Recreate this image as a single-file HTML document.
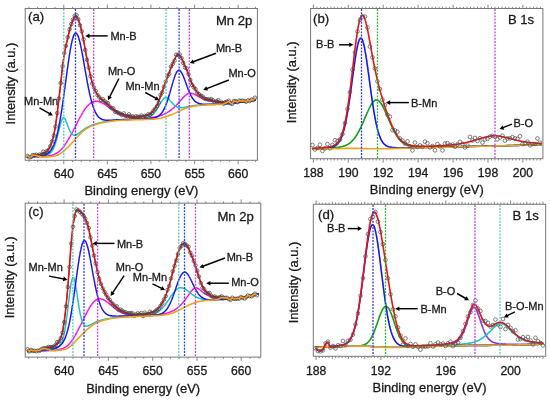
<!DOCTYPE html><html><head><meta charset="utf-8"><style>html,body{margin:0;padding:0;background:#fff;width:550px;height:400px;overflow:hidden}svg{display:block;filter:blur(0.3px)}</style></head><body>
<svg width="550" height="400" viewBox="0 0 550 400" font-family='"Liberation Sans", sans-serif' fill="#1a1a1a" stroke-linecap="butt">
<rect x="25.2" y="8.5" width="232.2" height="151.8" fill="none" stroke="#787878" stroke-width="1"/>
<path d="M28.9 160.3v1.7M28.9 8.5v-1.7M37.6 160.3v1.7M37.6 8.5v-1.7M46.3 160.3v1.7M46.3 8.5v-1.7M55 160.3v1.7M55 8.5v-1.7M63.8 160.3v3.8M63.8 8.5v-3.8M72.5 160.3v1.7M72.5 8.5v-1.7M81.2 160.3v1.7M81.2 8.5v-1.7M89.9 160.3v1.7M89.9 8.5v-1.7M98.6 160.3v1.7M98.6 8.5v-1.7M107.3 160.3v3.8M107.3 8.5v-3.8M116.1 160.3v1.7M116.1 8.5v-1.7M124.8 160.3v1.7M124.8 8.5v-1.7M133.5 160.3v1.7M133.5 8.5v-1.7M142.2 160.3v1.7M142.2 8.5v-1.7M150.9 160.3v3.8M150.9 8.5v-3.8M159.7 160.3v1.7M159.7 8.5v-1.7M168.4 160.3v1.7M168.4 8.5v-1.7M177.1 160.3v1.7M177.1 8.5v-1.7M185.8 160.3v1.7M185.8 8.5v-1.7M194.6 160.3v3.8M194.6 8.5v-3.8M203.3 160.3v1.7M203.3 8.5v-1.7M212 160.3v1.7M212 8.5v-1.7M220.7 160.3v1.7M220.7 8.5v-1.7M229.4 160.3v1.7M229.4 8.5v-1.7M238.2 160.3v3.8M238.2 8.5v-3.8M246.9 160.3v1.7M246.9 8.5v-1.7M255.6 160.3v1.7M255.6 8.5v-1.7" stroke="#787878" stroke-width="0.9" fill="none"/>
<text x="63.8" y="177.6" font-size="12.2" text-anchor="middle" stroke="#1a1a1a" stroke-width="0.3" >640</text>
<text x="107.3" y="177.6" font-size="12.2" text-anchor="middle" stroke="#1a1a1a" stroke-width="0.3" >645</text>
<text x="150.9" y="177.6" font-size="12.2" text-anchor="middle" stroke="#1a1a1a" stroke-width="0.3" >650</text>
<text x="194.6" y="177.6" font-size="12.2" text-anchor="middle" stroke="#1a1a1a" stroke-width="0.3" >655</text>
<text x="238.2" y="177.6" font-size="12.2" text-anchor="middle" stroke="#1a1a1a" stroke-width="0.3" >660</text>
<text x="141.4" y="194.8" font-size="12.9" text-anchor="middle" stroke="#1a1a1a" stroke-width="0.3" >Binding energy (eV)</text>
<text x="0" y="0" font-size="12.9" text-anchor="middle" stroke="#1a1a1a" stroke-width="0.3" transform="translate(15.0 83.6) rotate(-90)">Intensity (a.u.)</text>
<text x="28" y="21.2" font-size="13.2" text-anchor="start" stroke="#1a1a1a" stroke-width="0.3" >(a)</text>
<text x="252.3" y="25" font-size="13.1" text-anchor="end" stroke="#1a1a1a" stroke-width="0.3" >Mn 2p</text>
<path d="M27 157.1 L27.2 157 L27.5 157 L27.8 157 L28 157 L28.2 157 L28.5 157 L28.8 157 L29 157 L29.2 157 L29.5 157 L29.8 157 L30 157 L30.2 157 L30.5 157 L30.8 157 L31 157 L31.2 157 L31.5 157 L31.8 156.9 L32 156.9 L32.2 156.9 L32.5 156.9 L32.8 156.9 L33 156.9 L33.2 156.9 L33.5 156.9 L33.8 156.9 L34 156.9 L34.2 156.9 L34.5 156.9 L34.8 156.9 L35 156.8 L35.2 156.8 L35.5 156.8 L35.8 156.8 L36 156.8 L36.2 156.8 L36.5 156.8 L36.8 156.8 L37 156.8 L37.2 156.8 L37.5 156.8 L37.8 156.7 L38 156.7 L38.2 156.7 L38.5 156.7 L38.8 156.7 L39 156.7 L39.2 156.7 L39.5 156.7 L39.8 156.7 L40 156.6 L40.2 156.6 L40.5 156.6 L40.8 156.6 L41 156.6 L41.2 156.6 L41.5 156.6 L41.8 156.5 L42 156.5 L42.2 156.5 L42.5 156.5 L42.8 156.5 L43 156.5 L43.2 156.4 L43.5 156.4 L43.8 156.4 L44 156.4 L44.2 156.4 L44.5 156.3 L44.8 156.3 L45 156.3 L45.2 156.3 L45.5 156.2 L45.8 156.2 L46 156.2 L46.2 156.2 L46.5 156.1 L46.8 156.1 L47 156.1 L47.2 156 L47.5 156 L47.8 156 L48 155.9 L48.2 155.9 L48.5 155.9 L48.8 155.8 L49 155.8 L49.2 155.7 L49.5 155.7 L49.8 155.6 L50 155.6 L50.2 155.5 L50.5 155.5 L50.8 155.4 L51 155.4 L51.2 155.3 L51.5 155.3 L51.8 155.2 L52 155.1 L52.2 155.1 L52.5 155 L52.8 154.9 L53 154.8 L53.2 154.7 L53.5 154.7 L53.8 154.6 L54 154.5 L54.2 154.4 L54.5 154.3 L54.8 154.2 L55 154.1 L55.2 153.9 L55.5 153.8 L55.8 153.7 L56 153.6 L56.2 153.4 L56.5 153.3 L56.8 153.1 L57 153 L57.2 152.8 L57.5 152.7 L57.8 152.5 L58 152.3 L58.2 152.1 L58.5 151.9 L58.8 151.7 L59 151.5 L59.2 151.3 L59.5 151.1 L59.8 150.9 L60 150.7 L60.2 150.4 L60.5 150.2 L60.8 149.9 L61 149.7 L61.2 149.4 L61.5 149.1 L61.8 148.9 L62 148.6 L62.2 148.3 L62.5 148 L62.8 147.7 L63 147.4 L63.2 147 L63.5 146.7 L63.8 146.4 L64 146.1 L64.2 145.7 L64.5 145.4 L64.8 145 L65 144.7 L65.2 144.3 L65.5 143.9 L65.8 143.6 L66 143.2 L66.2 142.8 L66.5 142.4 L66.8 142 L67 141.6 L67.2 141.2 L67.5 140.8 L67.8 140.4 L68 140 L68.2 139.6 L68.5 139.2 L68.8 138.8 L69 138.4 L69.2 137.9 L69.5 137.5 L69.8 137 L70 136.6 L70.2 136.2 L70.5 135.7 L70.8 135.3 L71 134.8 L71.2 134.3 L71.5 133.9 L71.8 133.4 L72 133 L72.2 132.5 L72.5 132 L72.8 131.5 L73 131.1 L73.2 130.6 L73.5 130.1 L73.8 129.6 L74 129.1 L74.2 128.6 L74.5 128.1 L74.8 127.6 L75 127.2 L75.2 126.7 L75.5 126.2 L75.8 125.7 L76 125.2 L76.2 124.7 L76.5 124.2 L76.8 123.7 L77 123.2 L77.2 122.7 L77.5 122.2 L77.8 121.7 L78 121.2 L78.2 120.8 L78.5 120.3 L78.8 119.8 L79 119.3 L79.2 118.8 L79.5 118.4 L79.8 117.9 L80 117.4 L80.2 117 L80.5 116.5 L80.8 116.1 L81 115.6 L81.2 115.2 L81.5 114.7 L81.8 114.3 L82 113.9 L82.2 113.4 L82.5 113 L82.8 112.6 L83 112.2 L83.2 111.8 L83.5 111.4 L83.8 111 L84 110.6 L84.2 110.2 L84.5 109.9 L84.8 109.5 L85 109.1 L85.2 108.8 L85.5 108.4 L85.8 108.1 L86 107.8 L86.2 107.5 L86.5 107.1 L86.8 106.8 L87 106.5 L87.2 106.2 L87.5 106 L87.8 105.7 L88 105.4 L88.2 105.2 L88.5 104.9 L88.8 104.7 L89 104.4 L89.2 104.2 L89.5 104 L89.8 103.8 L90 103.6 L90.2 103.4 L90.5 103.2 L90.8 103 L91 102.9 L91.2 102.7 L91.5 102.6 L91.8 102.4 L92 102.3 L92.2 102.1 L92.5 102 L92.8 101.9 L93 101.8 L93.2 101.7 L93.5 101.6 L93.8 101.6 L94 101.5 L94.2 101.4 L94.5 101.4 L94.8 101.3 L95 101.3 L95.2 101.3 L95.5 101.2 L95.8 101.2 L96 101.2 L96.2 101.2 L96.5 101.2 L96.8 101.2 L97 101.3 L97.2 101.3 L97.5 101.3 L97.8 101.4 L98 101.4 L98.2 101.5 L98.5 101.5 L98.8 101.6 L99 101.6 L99.2 101.7 L99.5 101.8 L99.8 101.9 L100 102 L100.2 102.1 L100.5 102.2 L100.8 102.3 L101 102.4 L101.2 102.5 L101.5 102.6 L101.8 102.7 L102 102.9 L102.2 103 L102.5 103.1 L102.8 103.3 L103 103.4 L103.2 103.5 L103.5 103.7 L103.8 103.8 L104 104 L104.2 104.1 L104.5 104.3 L104.8 104.5 L105 104.6 L105.2 104.8 L105.5 105 L105.8 105.1 L106 105.3 L106.2 105.5 L106.5 105.6 L106.8 105.8 L107 106 L107.2 106.2 L107.5 106.3 L107.8 106.5 L108 106.7 L108.2 106.9 L108.5 107 L108.8 107.2 L109 107.4 L109.2 107.6 L109.5 107.8 L109.8 107.9 L110 108.1 L110.2 108.3 L110.5 108.5 L110.8 108.7 L111 108.8 L111.2 109 L111.5 109.2 L111.8 109.4 L112 109.5 L112.2 109.7 L112.5 109.9 L112.8 110.1 L113 110.2 L113.2 110.4 L113.5 110.6 L113.8 110.7 L114 110.9 L114.2 111.1 L114.5 111.2 L114.8 111.4 L115 111.6 L115.2 111.7 L115.5 111.9 L115.8 112 L116 112.2 L116.2 112.3 L116.5 112.5 L116.8 112.6 L117 112.8 L117.2 112.9 L117.5 113.1 L117.8 113.2 L118 113.3 L118.2 113.5 L118.5 113.6 L118.8 113.7 L119 113.9 L119.2 114 L119.5 114.1 L119.8 114.2 L120 114.3 L120.2 114.5 L120.5 114.6 L120.8 114.7 L121 114.8 L121.2 114.9 L121.5 115 L121.8 115.1 L122 115.2 L122.2 115.3 L122.5 115.4 L122.8 115.5 L123 115.6 L123.2 115.7 L123.5 115.8 L123.8 115.9 L124 116 L124.2 116.1 L124.5 116.1 L124.8 116.2 L125 116.3 L125.2 116.4 L125.5 116.4 L125.8 116.5 L126 116.6 L126.2 116.6 L126.5 116.7 L126.8 116.8 L127 116.8 L127.2 116.9 L127.5 117 L127.8 117 L128 117.1 L128.2 117.1 L128.5 117.2 L128.8 117.2 L129 117.3 L129.2 117.3 L129.5 117.4 L129.8 117.4 L130 117.4 L130.2 117.5 L130.5 117.5 L130.8 117.6 L131 117.6 L131.2 117.6 L131.5 117.7 L131.8 117.7 L132 117.7 L132.2 117.7 L132.5 117.8 L132.8 117.8 L133 117.8 L133.2 117.8 L133.5 117.9 L133.8 117.9 L134 117.9 L134.2 117.9 L134.5 118 L134.8 118 L135 118 L135.2 118 L135.5 118 L135.8 118 L136 118 L136.2 118.1 L136.5 118.1 L136.8 118.1 L137 118.1 L137.2 118.1 L137.5 118.1 L137.8 118.1 L138 118.1 L138.2 118.1 L138.5 118.1 L138.8 118.1 L139 118.1 L139.2 118.1 L139.5 118.1 L139.8 118.1 L140 118.1 L140.2 118.1 L140.5 118.1 L140.8 118.1 L141 118.1 L141.2 118.1 L141.5 118.1 L141.8 118.1 L142 118.1 L142.2 118.1 L142.5 118.1 L142.8 118.1 L143 118.1 L143.2 118.1 L143.5 118.1 L143.8 118.1 L144 118 L144.2 118 L144.5 118 L144.8 118 L145 118 L145.2 118 L145.5 118 L145.8 118 L146 117.9 L146.2 117.9 L146.5 117.9 L146.8 117.9 L147 117.9 L147.2 117.9 L147.5 117.9 L147.8 117.8 L148 117.8 L148.2 117.8 L148.5 117.8 L148.8 117.8 L149 117.7 L149.2 117.7 L149.5 117.7 L149.8 117.7 L150 117.6 L150.2 117.6 L150.5 117.6 L150.8 117.6 L151 117.5 L151.2 117.5 L151.5 117.5 L151.8 117.5 L152 117.4 L152.2 117.4 L152.5 117.4 L152.8 117.3 L153 117.3 L153.2 117.3 L153.5 117.2 L153.8 117.2 L154 117.1 L154.2 117.1 L154.5 117.1 L154.8 117 L155 117 L155.2 116.9 L155.5 116.9 L155.8 116.8 L156 116.8 L156.2 116.7 L156.5 116.7 L156.8 116.6 L157 116.6 L157.2 116.5 L157.5 116.5 L157.8 116.4 L158 116.4 L158.2 116.3 L158.5 116.2 L158.8 116.2 L159 116.1 L159.2 116 L159.5 115.9 L159.8 115.9 L160 115.8 L160.2 115.7 L160.5 115.6 L160.8 115.5 L161 115.5 L161.2 115.4 L161.5 115.3 L161.8 115.2 L162 115.1 L162.2 115 L162.5 114.9 L162.8 114.8 L163 114.7 L163.2 114.6 L163.5 114.5 L163.8 114.4 L164 114.2 L164.2 114.1 L164.5 114 L164.8 113.9 L165 113.8 L165.2 113.6 L165.5 113.5 L165.8 113.4 L166 113.2 L166.2 113.1 L166.5 113 L166.8 112.8 L167 112.7 L167.2 112.5 L167.5 112.4 L167.8 112.2 L168 112.1 L168.2 111.9 L168.5 111.8 L168.8 111.6 L169 111.5 L169.2 111.3 L169.5 111.1 L169.8 110.9 L170 110.8 L170.2 110.6 L170.5 110.4 L170.8 110.2 L171 110 L171.2 109.8 L171.5 109.6 L171.8 109.5 L172 109.3 L172.2 109 L172.5 108.8 L172.8 108.6 L173 108.4 L173.2 108.2 L173.5 108 L173.8 107.8 L174 107.5 L174.2 107.3 L174.5 107.1 L174.8 106.8 L175 106.6 L175.2 106.3 L175.5 106.1 L175.8 105.8 L176 105.6 L176.2 105.3 L176.5 105.1 L176.8 104.8 L177 104.5 L177.2 104.3 L177.5 104 L177.8 103.7 L178 103.5 L178.2 103.2 L178.5 102.9 L178.8 102.6 L179 102.3 L179.2 102 L179.5 101.8 L179.8 101.5 L180 101.2 L180.2 100.9 L180.5 100.6 L180.8 100.3 L181 100 L181.2 99.7 L181.5 99.5 L181.8 99.2 L182 98.9 L182.2 98.6 L182.5 98.3 L182.8 98 L183 97.8 L183.2 97.5 L183.5 97.2 L183.8 97 L184 96.7 L184.2 96.5 L184.5 96.2 L184.8 96 L185 95.7 L185.2 95.5 L185.5 95.3 L185.8 95.1 L186 94.9 L186.2 94.7 L186.5 94.5 L186.8 94.4 L187 94.2 L187.2 94 L187.5 93.9 L187.8 93.8 L188 93.7 L188.2 93.6 L188.5 93.5 L188.8 93.4 L189 93.3 L189.2 93.3 L189.5 93.2 L189.8 93.2 L190 93.2 L190.2 93.2 L190.5 93.2 L190.8 93.2 L191 93.2 L191.2 93.2 L191.5 93.3 L191.8 93.3 L192 93.4 L192.2 93.5 L192.5 93.5 L192.8 93.6 L193 93.7 L193.2 93.8 L193.5 93.9 L193.8 94 L194 94.1 L194.2 94.2 L194.5 94.4 L194.8 94.5 L195 94.6 L195.2 94.8 L195.5 94.9 L195.8 95 L196 95.2 L196.2 95.3 L196.5 95.5 L196.8 95.6 L197 95.7 L197.2 95.9 L197.5 96 L197.8 96.2 L198 96.3 L198.2 96.4 L198.5 96.6 L198.8 96.7 L199 96.9 L199.2 97 L199.5 97.1 L199.8 97.3 L200 97.4 L200.2 97.5 L200.5 97.7 L200.8 97.8 L201 97.9 L201.2 98 L201.5 98.1 L201.8 98.3 L202 98.4 L202.2 98.5 L202.5 98.6 L202.8 98.7 L203 98.8 L203.2 98.9 L203.5 99 L203.8 99.1 L204 99.2 L204.2 99.3 L204.5 99.4 L204.8 99.5 L205 99.6 L205.2 99.7 L205.5 99.8 L205.8 99.8 L206 99.9 L206.2 100 L206.5 100.1 L206.8 100.2 L207 100.2 L207.2 100.3 L207.5 100.4 L207.8 100.4 L208 100.5 L208.2 100.6 L208.5 100.6 L208.8 100.7 L209 100.8 L209.2 100.8 L209.5 100.9 L209.8 100.9 L210 101 L210.2 101 L210.5 101.1 L210.8 101.2 L211 101.2 L211.2 101.3 L211.5 101.3 L211.8 101.3 L212 101.4 L212.2 101.4 L212.5 101.5 L212.8 101.5 L213 101.6 L213.2 101.6 L213.5 101.6 L213.8 101.7 L214 101.7 L214.2 101.8 L214.5 101.8 L214.8 101.8 L215 101.9 L215.2 101.9 L215.5 101.9 L215.8 102 L216 102 L216.2 102 L216.5 102 L216.8 102.1 L217 102.1 L217.2 102.1 L217.5 102.1 L217.8 102.2 L218 102.2 L218.2 102.2 L218.5 102.2 L218.8 102.3 L219 102.3 L219.2 102.3 L219.5 102.3 L219.8 102.3 L220 102.4 L220.2 102.4 L220.5 102.4 L220.8 102.4 L221 102.4 L221.2 102.4 L221.5 102.5 L221.8 102.5 L222 102.5 L222.2 102.5 L222.5 102.5 L222.8 102.5 L223 102.5 L223.2 102.5 L223.5 102.5 L223.8 102.5 L224 102.6 L224.2 102.6 L224.5 102.6 L224.8 102.6 L225 102.6 L225.2 102.6 L225.5 102.6 L225.8 102.6 L226 102.6 L226.2 102.6 L226.5 102.6 L226.8 102.6 L227 102.6 L227.2 102.6 L227.5 102.6 L227.8 102.6 L228 102.6 L228.2 102.5 L228.5 102.5 L228.8 102.5 L229 102.5 L229.2 102.5 L229.5 102.5 L229.8 102.5 L230 102.5 L230.2 102.5 L230.5 102.5 L230.8 102.4 L231 102.4 L231.2 102.4 L231.5 102.4 L231.8 102.4 L232 102.4 L232.2 102.4 L232.5 102.3 L232.8 102.3 L233 102.3 L233.2 102.3 L233.5 102.3 L233.8 102.2 L234 102.2 L234.2 102.2 L234.5 102.2 L234.8 102.1 L235 102.1 L235.2 102.1 L235.5 102.1 L235.8 102.1 L236 102 L236.2 102 L236.5 102 L236.8 102 L237 101.9 L237.2 101.9 L237.5 101.9 L237.8 101.9 L238 101.8 L238.2 101.8 L238.5 101.8 L238.8 101.7 L239 101.7 L239.2 101.7 L239.5 101.7 L239.8 101.6 L240 101.6 L240.2 101.6 L240.5 101.6 L240.8 101.5 L241 101.5 L241.2 101.5 L241.5 101.4 L241.8 101.4 L242 101.4 L242.2 101.3 L242.5 101.3 L242.8 101.3 L243 101.3 L243.2 101.2 L243.5 101.2 L243.8 101.2 L244 101.1 L244.2 101.1 L244.5 101.1 L244.8 101 L245 101 L245.2 101 L245.5 101 L245.8 100.9 L246 100.9 L246.2 100.9 L246.5 100.8 L246.8 100.8 L247 100.8 L247.2 100.7 L247.5 100.7 L247.8 100.7 L248 100.6 L248.2 100.6 L248.5 100.6 L248.8 100.5 L249 100.5 L249.2 100.5 L249.5 100.4 L249.8 100.4 L250 100.4 L250.2 100.4 L250.5 100.3 L250.8 100.3 L251 100.3 L251.2 100.2 L251.5 100.2 L251.8 100.2 L252 100.1 L252.2 100.1 L252.5 100.1 L252.8 100 L253 100 L253.2 100 L253.5 99.9 L253.8 99.9 L254 99.9 L254.2 99.8 L254.5 99.8 L254.8 99.8 L255 99.7 L255.2 99.7 L255.5 99.7 L255.8 99.6" stroke="#ff14e6" stroke-width="1.45" fill="none" stroke-linejoin="round"/>
<path d="M27 157 L27.2 156.9 L27.5 156.9 L27.8 156.9 L28 156.9 L28.2 156.9 L28.5 156.9 L28.8 156.9 L29 156.9 L29.2 156.9 L29.5 156.9 L29.8 156.9 L30 156.8 L30.2 156.8 L30.5 156.8 L30.8 156.8 L31 156.8 L31.2 156.8 L31.5 156.8 L31.8 156.8 L32 156.8 L32.2 156.7 L32.5 156.7 L32.8 156.7 L33 156.7 L33.2 156.7 L33.5 156.7 L33.8 156.7 L34 156.6 L34.2 156.6 L34.5 156.6 L34.8 156.6 L35 156.6 L35.2 156.6 L35.5 156.6 L35.8 156.5 L36 156.5 L36.2 156.5 L36.5 156.5 L36.8 156.5 L37 156.5 L37.2 156.4 L37.5 156.4 L37.8 156.4 L38 156.4 L38.2 156.4 L38.5 156.3 L38.8 156.3 L39 156.3 L39.2 156.3 L39.5 156.2 L39.8 156.2 L40 156.2 L40.2 156.2 L40.5 156.1 L40.8 156.1 L41 156.1 L41.2 156.1 L41.5 156 L41.8 156 L42 156 L42.2 155.9 L42.5 155.9 L42.8 155.9 L43 155.8 L43.2 155.8 L43.5 155.7 L43.8 155.7 L44 155.7 L44.2 155.6 L44.5 155.6 L44.8 155.5 L45 155.5 L45.2 155.4 L45.5 155.4 L45.8 155.3 L46 155.2 L46.2 155.2 L46.5 155.1 L46.8 155 L47 154.9 L47.2 154.8 L47.5 154.7 L47.8 154.6 L48 154.5 L48.2 154.4 L48.5 154.3 L48.8 154.1 L49 154 L49.2 153.8 L49.5 153.7 L49.8 153.5 L50 153.3 L50.2 153.1 L50.5 152.8 L50.8 152.6 L51 152.3 L51.2 152 L51.5 151.7 L51.8 151.4 L52 151.1 L52.2 150.7 L52.5 150.3 L52.8 149.9 L53 149.4 L53.2 148.9 L53.5 148.4 L53.8 147.9 L54 147.3 L54.2 146.7 L54.5 146.1 L54.8 145.4 L55 144.7 L55.2 144 L55.5 143.2 L55.8 142.4 L56 141.6 L56.2 140.8 L56.5 139.9 L56.8 139 L57 138 L57.2 137.1 L57.5 136.1 L57.8 135.1 L58 134.1 L58.2 133 L58.5 132 L58.8 130.9 L59 129.9 L59.2 128.8 L59.5 127.8 L59.8 126.8 L60 125.8 L60.2 124.8 L60.5 123.9 L60.8 123 L61 122.1 L61.2 121.4 L61.5 120.6 L61.8 120 L62 119.4 L62.2 118.9 L62.5 118.4 L62.8 118.1 L63 117.9 L63.2 117.7 L63.5 117.6 L63.8 117.6 L64 117.7 L64.2 117.9 L64.5 118.2 L64.8 118.5 L65 118.9 L65.2 119.4 L65.5 119.9 L65.8 120.4 L66 121 L66.2 121.6 L66.5 122.2 L66.8 122.9 L67 123.6 L67.2 124.2 L67.5 124.9 L67.8 125.6 L68 126.3 L68.2 126.9 L68.5 127.6 L68.8 128.2 L69 128.8 L69.2 129.4 L69.5 129.9 L69.8 130.5 L70 131 L70.2 131.5 L70.5 131.9 L70.8 132.4 L71 132.8 L71.2 133.1 L71.5 133.5 L71.8 133.8 L72 134 L72.2 134.3 L72.5 134.5 L72.8 134.7 L73 134.8 L73.2 135 L73.5 135.1 L73.8 135.1 L74 135.2 L74.2 135.2 L74.5 135.3 L74.8 135.2 L75 135.2 L75.2 135.2 L75.5 135.1 L75.8 135 L76 135 L76.2 134.9 L76.5 134.7 L76.8 134.6 L77 134.5 L77.2 134.3 L77.5 134.2 L77.8 134 L78 133.9 L78.2 133.7 L78.5 133.5 L78.8 133.3 L79 133.1 L79.2 133 L79.5 132.8 L79.8 132.6 L80 132.4 L80.2 132.2 L80.5 132 L80.8 131.8 L81 131.6 L81.2 131.4 L81.5 131.2 L81.8 131 L82 130.8 L82.2 130.6 L82.5 130.5 L82.8 130.3 L83 130.1 L83.2 129.9 L83.5 129.7 L83.8 129.5 L84 129.4 L84.2 129.2 L84.5 129 L84.8 128.9 L85 128.7 L85.2 128.5 L85.5 128.4 L85.8 128.2 L86 128 L86.2 127.9 L86.5 127.7 L86.8 127.6 L87 127.5 L87.2 127.3 L87.5 127.2 L87.8 127 L88 126.9 L88.2 126.8 L88.5 126.6 L88.8 126.5 L89 126.4 L89.2 126.3 L89.5 126.1 L89.8 126 L90 125.9 L90.2 125.8 L90.5 125.7 L90.8 125.6 L91 125.5 L91.2 125.4 L91.5 125.3 L91.8 125.2 L92 125.1 L92.2 125 L92.5 124.9 L92.8 124.8 L93 124.7 L93.2 124.6 L93.5 124.5 L93.8 124.4 L94 124.4 L94.2 124.3 L94.5 124.2 L94.8 124.1 L95 124 L95.2 124 L95.5 123.9 L95.8 123.8 L96 123.7 L96.2 123.7 L96.5 123.6 L96.8 123.5 L97 123.5 L97.2 123.4 L97.5 123.3 L97.8 123.3 L98 123.2 L98.2 123.1 L98.5 123.1 L98.8 123 L99 123 L99.2 122.9 L99.5 122.8 L99.8 122.8 L100 122.7 L100.2 122.7 L100.5 122.6 L100.8 122.6 L101 122.5 L101.2 122.5 L101.5 122.4 L101.8 122.3 L102 122.3 L102.2 122.2 L102.5 122.2 L102.8 122.1 L103 122.1 L103.2 122.1 L103.5 122 L103.8 122 L104 121.9 L104.2 121.9 L104.5 121.8 L104.8 121.8 L105 121.7 L105.2 121.7 L105.5 121.6 L105.8 121.6 L106 121.6 L106.2 121.5 L106.5 121.5 L106.8 121.4 L107 121.4 L107.2 121.4 L107.5 121.3 L107.8 121.3 L108 121.3 L108.2 121.2 L108.5 121.2 L108.8 121.1 L109 121.1 L109.2 121.1 L109.5 121 L109.8 121 L110 121 L110.2 120.9 L110.5 120.9 L110.8 120.9 L111 120.9 L111.2 120.8 L111.5 120.8 L111.8 120.8 L112 120.7 L112.2 120.7 L112.5 120.7 L112.8 120.7 L113 120.6 L113.2 120.6 L113.5 120.6 L113.8 120.5 L114 120.5 L114.2 120.5 L114.5 120.5 L114.8 120.4 L115 120.4 L115.2 120.4 L115.5 120.4 L115.8 120.3 L116 120.3 L116.2 120.3 L116.5 120.3 L116.8 120.3 L117 120.2 L117.2 120.2 L117.5 120.2 L117.8 120.2 L118 120.2 L118.2 120.1 L118.5 120.1 L118.8 120.1 L119 120.1 L119.2 120.1 L119.5 120 L119.8 120 L120 120 L120.2 120 L120.5 120 L120.8 120 L121 119.9 L121.2 119.9 L121.5 119.9 L121.8 119.9 L122 119.9 L122.2 119.9 L122.5 119.8 L122.8 119.8 L123 119.8 L123.2 119.8 L123.5 119.8 L123.8 119.8 L124 119.8 L124.2 119.7 L124.5 119.7 L124.8 119.7 L125 119.7 L125.2 119.7 L125.5 119.7 L125.8 119.7 L126 119.6 L126.2 119.6 L126.5 119.6 L126.8 119.6 L127 119.6 L127.2 119.6 L127.5 119.6 L127.8 119.6 L128 119.5 L128.2 119.5 L128.5 119.5 L128.8 119.5 L129 119.5 L129.2 119.5 L129.5 119.5 L129.8 119.4 L130 119.4 L130.2 119.4 L130.5 119.4 L130.8 119.4 L131 119.4 L131.2 119.4 L131.5 119.4 L131.8 119.3 L132 119.3 L132.2 119.3 L132.5 119.3 L132.8 119.3 L133 119.3 L133.2 119.3 L133.5 119.3 L133.8 119.2 L134 119.2 L134.2 119.2 L134.5 119.2 L134.8 119.2 L135 119.2 L135.2 119.2 L135.5 119.1 L135.8 119.1 L136 119.1 L136.2 119.1 L136.5 119.1 L136.8 119.1 L137 119 L137.2 119 L137.5 119 L137.8 119 L138 119 L138.2 119 L138.5 118.9 L138.8 118.9 L139 118.9 L139.2 118.9 L139.5 118.9 L139.8 118.8 L140 118.8 L140.2 118.8 L140.5 118.8 L140.8 118.7 L141 118.7 L141.2 118.7 L141.5 118.7 L141.8 118.6 L142 118.6 L142.2 118.6 L142.5 118.6 L142.8 118.5 L143 118.5 L143.2 118.5 L143.5 118.4 L143.8 118.4 L144 118.4 L144.2 118.3 L144.5 118.3 L144.8 118.2 L145 118.2 L145.2 118.1 L145.5 118.1 L145.8 118 L146 118 L146.2 117.9 L146.5 117.8 L146.8 117.8 L147 117.7 L147.2 117.6 L147.5 117.6 L147.8 117.5 L148 117.4 L148.2 117.3 L148.5 117.2 L148.8 117.1 L149 117 L149.2 116.9 L149.5 116.8 L149.8 116.6 L150 116.5 L150.2 116.3 L150.5 116.2 L150.8 116 L151 115.9 L151.2 115.7 L151.5 115.5 L151.8 115.3 L152 115.1 L152.2 114.9 L152.5 114.7 L152.8 114.5 L153 114.3 L153.2 114 L153.5 113.8 L153.8 113.5 L154 113.2 L154.2 112.9 L154.5 112.6 L154.8 112.3 L155 112 L155.2 111.7 L155.5 111.4 L155.8 111 L156 110.7 L156.2 110.3 L156.5 109.9 L156.8 109.5 L157 109.2 L157.2 108.8 L157.5 108.4 L157.8 107.9 L158 107.5 L158.2 107.1 L158.5 106.7 L158.8 106.2 L159 105.8 L159.2 105.4 L159.5 104.9 L159.8 104.5 L160 104 L160.2 103.6 L160.5 103.2 L160.8 102.7 L161 102.3 L161.2 101.9 L161.5 101.5 L161.8 101.1 L162 100.7 L162.2 100.3 L162.5 100 L162.8 99.7 L163 99.3 L163.2 99.1 L163.5 98.8 L163.8 98.5 L164 98.3 L164.2 98.1 L164.5 97.9 L164.8 97.8 L165 97.7 L165.2 97.6 L165.5 97.5 L165.8 97.5 L166 97.5 L166.2 97.5 L166.5 97.6 L166.8 97.7 L167 97.8 L167.2 97.9 L167.5 98.1 L167.8 98.2 L168 98.4 L168.2 98.6 L168.5 98.9 L168.8 99.1 L169 99.4 L169.2 99.6 L169.5 99.9 L169.8 100.2 L170 100.5 L170.2 100.7 L170.5 101 L170.8 101.3 L171 101.6 L171.2 101.9 L171.5 102.2 L171.8 102.5 L172 102.8 L172.2 103.1 L172.5 103.4 L172.8 103.6 L173 103.9 L173.2 104.2 L173.5 104.4 L173.8 104.7 L174 104.9 L174.2 105.1 L174.5 105.3 L174.8 105.6 L175 105.8 L175.2 105.9 L175.5 106.1 L175.8 106.3 L176 106.5 L176.2 106.6 L176.5 106.7 L176.8 106.9 L177 107 L177.2 107.1 L177.5 107.2 L177.8 107.3 L178 107.4 L178.2 107.5 L178.5 107.5 L178.8 107.6 L179 107.6 L179.2 107.7 L179.5 107.7 L179.8 107.7 L180 107.7 L180.2 107.8 L180.5 107.8 L180.8 107.8 L181 107.8 L181.2 107.8 L181.5 107.7 L181.8 107.7 L182 107.7 L182.2 107.7 L182.5 107.6 L182.8 107.6 L183 107.6 L183.2 107.5 L183.5 107.5 L183.8 107.5 L184 107.4 L184.2 107.4 L184.5 107.3 L184.8 107.3 L185 107.2 L185.2 107.2 L185.5 107.1 L185.8 107.1 L186 107 L186.2 107 L186.5 106.9 L186.8 106.8 L187 106.8 L187.2 106.7 L187.5 106.7 L187.8 106.6 L188 106.6 L188.2 106.5 L188.5 106.5 L188.8 106.4 L189 106.4 L189.2 106.3 L189.5 106.3 L189.8 106.2 L190 106.2 L190.2 106.1 L190.5 106.1 L190.8 106 L191 106 L191.2 106 L191.5 105.9 L191.8 105.9 L192 105.8 L192.2 105.8 L192.5 105.8 L192.8 105.7 L193 105.7 L193.2 105.7 L193.5 105.6 L193.8 105.6 L194 105.6 L194.2 105.5 L194.5 105.5 L194.8 105.5 L195 105.4 L195.2 105.4 L195.5 105.4 L195.8 105.3 L196 105.3 L196.2 105.3 L196.5 105.3 L196.8 105.2 L197 105.2 L197.2 105.2 L197.5 105.2 L197.8 105.2 L198 105.1 L198.2 105.1 L198.5 105.1 L198.8 105.1 L199 105.1 L199.2 105 L199.5 105 L199.8 105 L200 105 L200.2 105 L200.5 104.9 L200.8 104.9 L201 104.9 L201.2 104.9 L201.5 104.9 L201.8 104.9 L202 104.9 L202.2 104.8 L202.5 104.8 L202.8 104.8 L203 104.8 L203.2 104.8 L203.5 104.8 L203.8 104.8 L204 104.8 L204.2 104.7 L204.5 104.7 L204.8 104.7 L205 104.7 L205.2 104.7 L205.5 104.7 L205.8 104.7 L206 104.7 L206.2 104.7 L206.5 104.6 L206.8 104.6 L207 104.6 L207.2 104.6 L207.5 104.6 L207.8 104.6 L208 104.6 L208.2 104.6 L208.5 104.6 L208.8 104.6 L209 104.6 L209.2 104.5 L209.5 104.5 L209.8 104.5 L210 104.5 L210.2 104.5 L210.5 104.5 L210.8 104.5 L211 104.5 L211.2 104.5 L211.5 104.5 L211.8 104.5 L212 104.5 L212.2 104.5 L212.5 104.4 L212.8 104.4 L213 104.4 L213.2 104.4 L213.5 104.4 L213.8 104.4 L214 104.4 L214.2 104.4 L214.5 104.4 L214.8 104.4 L215 104.4 L215.2 104.4 L215.5 104.4 L215.8 104.4 L216 104.3 L216.2 104.3 L216.5 104.3 L216.8 104.3 L217 104.3 L217.2 104.3 L217.5 104.3 L217.8 104.3 L218 104.3 L218.2 104.3 L218.5 104.3 L218.8 104.3 L219 104.3 L219.2 104.2 L219.5 104.2 L219.8 104.2 L220 104.2 L220.2 104.2 L220.5 104.2 L220.8 104.2 L221 104.2 L221.2 104.2 L221.5 104.2 L221.8 104.2 L222 104.2 L222.2 104.1 L222.5 104.1 L222.8 104.1 L223 104.1 L223.2 104.1 L223.5 104.1 L223.8 104.1 L224 104.1 L224.2 104 L224.5 104 L224.8 104 L225 104 L225.2 104 L225.5 104 L225.8 104 L226 103.9 L226.2 103.9 L226.5 103.9 L226.8 103.9 L227 103.9 L227.2 103.9 L227.5 103.8 L227.8 103.8 L228 103.8 L228.2 103.8 L228.5 103.8 L228.8 103.7 L229 103.7 L229.2 103.7 L229.5 103.7 L229.8 103.6 L230 103.6 L230.2 103.6 L230.5 103.6 L230.8 103.5 L231 103.5 L231.2 103.5 L231.5 103.5 L231.8 103.4 L232 103.4 L232.2 103.4 L232.5 103.3 L232.8 103.3 L233 103.3 L233.2 103.3 L233.5 103.2 L233.8 103.2 L234 103.2 L234.2 103.1 L234.5 103.1 L234.8 103.1 L235 103 L235.2 103 L235.5 103 L235.8 102.9 L236 102.9 L236.2 102.9 L236.5 102.8 L236.8 102.8 L237 102.8 L237.2 102.7 L237.5 102.7 L237.8 102.7 L238 102.6 L238.2 102.6 L238.5 102.6 L238.8 102.5 L239 102.5 L239.2 102.5 L239.5 102.4 L239.8 102.4 L240 102.4 L240.2 102.3 L240.5 102.3 L240.8 102.3 L241 102.2 L241.2 102.2 L241.5 102.1 L241.8 102.1 L242 102.1 L242.2 102 L242.5 102 L242.8 102 L243 101.9 L243.2 101.9 L243.5 101.9 L243.8 101.8 L244 101.8 L244.2 101.8 L244.5 101.7 L244.8 101.7 L245 101.6 L245.2 101.6 L245.5 101.6 L245.8 101.5 L246 101.5 L246.2 101.5 L246.5 101.4 L246.8 101.4 L247 101.4 L247.2 101.3 L247.5 101.3 L247.8 101.2 L248 101.2 L248.2 101.2 L248.5 101.1 L248.8 101.1 L249 101.1 L249.2 101 L249.5 101 L249.8 101 L250 100.9 L250.2 100.9 L250.5 100.8 L250.8 100.8 L251 100.8 L251.2 100.7 L251.5 100.7 L251.8 100.7 L252 100.6 L252.2 100.6 L252.5 100.6 L252.8 100.5 L253 100.5 L253.2 100.4 L253.5 100.4 L253.8 100.4 L254 100.3 L254.2 100.3 L254.5 100.3 L254.8 100.2 L255 100.2 L255.2 100.2 L255.5 100.1 L255.8 100.1" stroke="#18c4c4" stroke-width="1.45" fill="none" stroke-linejoin="round"/>
<path d="M27 156.8 L27.2 156.8 L27.5 156.8 L27.8 156.8 L28 156.8 L28.2 156.8 L28.5 156.8 L28.8 156.7 L29 156.7 L29.2 156.7 L29.5 156.7 L29.8 156.7 L30 156.7 L30.2 156.7 L30.5 156.7 L30.8 156.7 L31 156.7 L31.2 156.6 L31.5 156.6 L31.8 156.6 L32 156.6 L32.2 156.6 L32.5 156.6 L32.8 156.6 L33 156.6 L33.2 156.5 L33.5 156.5 L33.8 156.5 L34 156.5 L34.2 156.5 L34.5 156.5 L34.8 156.5 L35 156.4 L35.2 156.4 L35.5 156.4 L35.8 156.4 L36 156.4 L36.2 156.4 L36.5 156.3 L36.8 156.3 L37 156.3 L37.2 156.3 L37.5 156.3 L37.8 156.2 L38 156.2 L38.2 156.2 L38.5 156.2 L38.8 156.2 L39 156.1 L39.2 156.1 L39.5 156.1 L39.8 156 L40 156 L40.2 156 L40.5 155.9 L40.8 155.9 L41 155.9 L41.2 155.8 L41.5 155.8 L41.8 155.7 L42 155.7 L42.2 155.6 L42.5 155.6 L42.8 155.5 L43 155.5 L43.2 155.4 L43.5 155.4 L43.8 155.3 L44 155.2 L44.2 155.1 L44.5 155 L44.8 155 L45 154.9 L45.2 154.8 L45.5 154.7 L45.8 154.6 L46 154.4 L46.2 154.3 L46.5 154.2 L46.8 154.1 L47 153.9 L47.2 153.8 L47.5 153.6 L47.8 153.4 L48 153.2 L48.2 153.1 L48.5 152.9 L48.8 152.6 L49 152.4 L49.2 152.2 L49.5 151.9 L49.8 151.7 L50 151.4 L50.2 151.1 L50.5 150.8 L50.8 150.4 L51 150.1 L51.2 149.7 L51.5 149.4 L51.8 149 L52 148.5 L52.2 148.1 L52.5 147.6 L52.8 147.2 L53 146.6 L53.2 146.1 L53.5 145.6 L53.8 145 L54 144.4 L54.2 143.7 L54.5 143.1 L54.8 142.4 L55 141.7 L55.2 140.9 L55.5 140.1 L55.8 139.3 L56 138.5 L56.2 137.6 L56.5 136.7 L56.8 135.8 L57 134.8 L57.2 133.8 L57.5 132.8 L57.8 131.7 L58 130.6 L58.2 129.4 L58.5 128.3 L58.8 127.1 L59 125.8 L59.2 124.5 L59.5 123.2 L59.8 121.8 L60 120.5 L60.2 119 L60.5 117.6 L60.8 116.1 L61 114.6 L61.2 113 L61.5 111.4 L61.8 109.8 L62 108.2 L62.2 106.5 L62.5 104.8 L62.8 103.1 L63 101.4 L63.2 99.6 L63.5 97.8 L63.8 96 L64 94.2 L64.2 92.4 L64.5 90.6 L64.8 88.7 L65 86.9 L65.2 85 L65.5 83.1 L65.8 81.3 L66 79.4 L66.2 77.5 L66.5 75.7 L66.8 73.8 L67 72 L67.2 70.1 L67.5 68.3 L67.8 66.5 L68 64.8 L68.2 63 L68.5 61.3 L68.8 59.6 L69 57.9 L69.2 56.3 L69.5 54.7 L69.8 53.1 L70 51.6 L70.2 50.1 L70.5 48.7 L70.8 47.3 L71 46 L71.2 44.8 L71.5 43.5 L71.8 42.4 L72 41.3 L72.2 40.3 L72.5 39.3 L72.8 38.4 L73 37.5 L73.2 36.8 L73.5 36.1 L73.8 35.4 L74 34.9 L74.2 34.4 L74.5 34 L74.8 33.7 L75 33.4 L75.2 33.2 L75.5 33.1 L75.8 33.1 L76 33.1 L76.2 33.2 L76.5 33.4 L76.8 33.7 L77 34 L77.2 34.4 L77.5 34.8 L77.8 35.3 L78 35.9 L78.2 36.6 L78.5 37.3 L78.8 38.1 L79 38.9 L79.2 39.8 L79.5 40.7 L79.8 41.7 L80 42.7 L80.2 43.8 L80.5 44.9 L80.8 46 L81 47.2 L81.2 48.4 L81.5 49.7 L81.8 51 L82 52.3 L82.2 53.6 L82.5 55 L82.8 56.3 L83 57.7 L83.2 59.1 L83.5 60.5 L83.8 62 L84 63.4 L84.2 64.8 L84.5 66.3 L84.8 67.7 L85 69.2 L85.2 70.6 L85.5 72 L85.8 73.4 L86 74.9 L86.2 76.3 L86.5 77.7 L86.8 79 L87 80.4 L87.2 81.8 L87.5 83.1 L87.8 84.4 L88 85.7 L88.2 87 L88.5 88.2 L88.8 89.4 L89 90.6 L89.2 91.8 L89.5 93 L89.8 94.1 L90 95.2 L90.2 96.3 L90.5 97.3 L90.8 98.3 L91 99.3 L91.2 100.3 L91.5 101.2 L91.8 102.1 L92 103 L92.2 103.8 L92.5 104.6 L92.8 105.4 L93 106.2 L93.2 106.9 L93.5 107.7 L93.8 108.3 L94 109 L94.2 109.6 L94.5 110.2 L94.8 110.8 L95 111.4 L95.2 111.9 L95.5 112.4 L95.8 112.9 L96 113.4 L96.2 113.8 L96.5 114.2 L96.8 114.6 L97 115 L97.2 115.4 L97.5 115.7 L97.8 116 L98 116.3 L98.2 116.6 L98.5 116.9 L98.8 117.2 L99 117.4 L99.2 117.6 L99.5 117.8 L99.8 118 L100 118.2 L100.2 118.4 L100.5 118.6 L100.8 118.7 L101 118.9 L101.2 119 L101.5 119.1 L101.8 119.2 L102 119.4 L102.2 119.4 L102.5 119.5 L102.8 119.6 L103 119.7 L103.2 119.8 L103.5 119.8 L103.8 119.9 L104 119.9 L104.2 120 L104.5 120 L104.8 120.1 L105 120.1 L105.2 120.1 L105.5 120.1 L105.8 120.2 L106 120.2 L106.2 120.2 L106.5 120.2 L106.8 120.2 L107 120.2 L107.2 120.2 L107.5 120.2 L107.8 120.2 L108 120.2 L108.2 120.2 L108.5 120.2 L108.8 120.2 L109 120.2 L109.2 120.2 L109.5 120.2 L109.8 120.2 L110 120.2 L110.2 120.2 L110.5 120.2 L110.8 120.2 L111 120.1 L111.2 120.1 L111.5 120.1 L111.8 120.1 L112 120.1 L112.2 120.1 L112.5 120.1 L112.8 120 L113 120 L113.2 120 L113.5 120 L113.8 120 L114 120 L114.2 120 L114.5 119.9 L114.8 119.9 L115 119.9 L115.2 119.9 L115.5 119.9 L115.8 119.9 L116 119.9 L116.2 119.8 L116.5 119.8 L116.8 119.8 L117 119.8 L117.2 119.8 L117.5 119.8 L117.8 119.8 L118 119.8 L118.2 119.7 L118.5 119.7 L118.8 119.7 L119 119.7 L119.2 119.7 L119.5 119.7 L119.8 119.7 L120 119.7 L120.2 119.7 L120.5 119.6 L120.8 119.6 L121 119.6 L121.2 119.6 L121.5 119.6 L121.8 119.6 L122 119.6 L122.2 119.6 L122.5 119.6 L122.8 119.6 L123 119.5 L123.2 119.5 L123.5 119.5 L123.8 119.5 L124 119.5 L124.2 119.5 L124.5 119.5 L124.8 119.5 L125 119.5 L125.2 119.5 L125.5 119.5 L125.8 119.4 L126 119.4 L126.2 119.4 L126.5 119.4 L126.8 119.4 L127 119.4 L127.2 119.4 L127.5 119.4 L127.8 119.4 L128 119.4 L128.2 119.4 L128.5 119.4 L128.8 119.4 L129 119.4 L129.2 119.3 L129.5 119.3 L129.8 119.3 L130 119.3 L130.2 119.3 L130.5 119.3 L130.8 119.3 L131 119.3 L131.2 119.3 L131.5 119.3 L131.8 119.3 L132 119.3 L132.2 119.3 L132.5 119.3 L132.8 119.3 L133 119.2 L133.2 119.2 L133.5 119.2 L133.8 119.2 L134 119.2 L134.2 119.2 L134.5 119.2 L134.8 119.2 L135 119.2 L135.2 119.2 L135.5 119.2 L135.8 119.2 L136 119.2 L136.2 119.2 L136.5 119.1 L136.8 119.1 L137 119.1 L137.2 119.1 L137.5 119.1 L137.8 119.1 L138 119.1 L138.2 119.1 L138.5 119.1 L138.8 119.1 L139 119.1 L139.2 119.1 L139.5 119.1 L139.8 119 L140 119 L140.2 119 L140.5 119 L140.8 119 L141 119 L141.2 119 L141.5 119 L141.8 119 L142 119 L142.2 118.9 L142.5 118.9 L142.8 118.9 L143 118.9 L143.2 118.9 L143.5 118.9 L143.8 118.9 L144 118.9 L144.2 118.9 L144.5 118.8 L144.8 118.8 L145 118.8 L145.2 118.8 L145.5 118.8 L145.8 118.8 L146 118.8 L146.2 118.8 L146.5 118.7 L146.8 118.7 L147 118.7 L147.2 118.7 L147.5 118.7 L147.8 118.7 L148 118.6 L148.2 118.6 L148.5 118.6 L148.8 118.6 L149 118.6 L149.2 118.5 L149.5 118.5 L149.8 118.5 L150 118.5 L150.2 118.4 L150.5 118.4 L150.8 118.4 L151 118.4 L151.2 118.3 L151.5 118.3 L151.8 118.3 L152 118.2 L152.2 118.2 L152.5 118.1 L152.8 118.1 L153 118.1 L153.2 118 L153.5 118 L153.8 117.9 L154 117.9 L154.2 117.8 L154.5 117.7 L154.8 117.7 L155 117.6 L155.2 117.5 L155.5 117.4 L155.8 117.4 L156 117.3 L156.2 117.2 L156.5 117.1 L156.8 117 L157 116.8 L157.2 116.7 L157.5 116.6 L157.8 116.5 L158 116.3 L158.2 116.2 L158.5 116 L158.8 115.8 L159 115.7 L159.2 115.5 L159.5 115.3 L159.8 115 L160 114.8 L160.2 114.6 L160.5 114.3 L160.8 114.1 L161 113.8 L161.2 113.5 L161.5 113.2 L161.8 112.9 L162 112.5 L162.2 112.2 L162.5 111.8 L162.8 111.4 L163 111 L163.2 110.6 L163.5 110.2 L163.8 109.7 L164 109.2 L164.2 108.7 L164.5 108.2 L164.8 107.7 L165 107.1 L165.2 106.5 L165.5 106 L165.8 105.3 L166 104.7 L166.2 104.1 L166.5 103.4 L166.8 102.7 L167 102 L167.2 101.3 L167.5 100.5 L167.8 99.8 L168 99 L168.2 98.2 L168.5 97.4 L168.8 96.6 L169 95.8 L169.2 94.9 L169.5 94.1 L169.8 93.2 L170 92.4 L170.2 91.5 L170.5 90.6 L170.8 89.7 L171 88.8 L171.2 87.9 L171.5 87.1 L171.8 86.2 L172 85.3 L172.2 84.4 L172.5 83.6 L172.8 82.7 L173 81.9 L173.2 81 L173.5 80.2 L173.8 79.4 L174 78.7 L174.2 77.9 L174.5 77.2 L174.8 76.5 L175 75.8 L175.2 75.2 L175.5 74.5 L175.8 74 L176 73.4 L176.2 72.9 L176.5 72.5 L176.8 72 L177 71.7 L177.2 71.3 L177.5 71 L177.8 70.8 L178 70.6 L178.2 70.4 L178.5 70.3 L178.8 70.3 L179 70.3 L179.2 70.3 L179.5 70.4 L179.8 70.5 L180 70.6 L180.2 70.9 L180.5 71.1 L180.8 71.4 L181 71.7 L181.2 72.1 L181.5 72.5 L181.8 72.9 L182 73.4 L182.2 73.9 L182.5 74.4 L182.8 74.9 L183 75.5 L183.2 76.1 L183.5 76.7 L183.8 77.3 L184 77.9 L184.2 78.6 L184.5 79.3 L184.8 79.9 L185 80.6 L185.2 81.3 L185.5 82 L185.8 82.7 L186 83.4 L186.2 84.1 L186.5 84.8 L186.8 85.5 L187 86.2 L187.2 86.8 L187.5 87.5 L187.8 88.2 L188 88.8 L188.2 89.5 L188.5 90.1 L188.8 90.7 L189 91.3 L189.2 91.9 L189.5 92.5 L189.8 93.1 L190 93.6 L190.2 94.1 L190.5 94.7 L190.8 95.2 L191 95.6 L191.2 96.1 L191.5 96.6 L191.8 97 L192 97.4 L192.2 97.8 L192.5 98.2 L192.8 98.6 L193 98.9 L193.2 99.3 L193.5 99.6 L193.8 99.9 L194 100.2 L194.2 100.5 L194.5 100.7 L194.8 101 L195 101.2 L195.2 101.4 L195.5 101.6 L195.8 101.8 L196 102 L196.2 102.2 L196.5 102.3 L196.8 102.5 L197 102.6 L197.2 102.8 L197.5 102.9 L197.8 103 L198 103.1 L198.2 103.2 L198.5 103.3 L198.8 103.4 L199 103.5 L199.2 103.6 L199.5 103.6 L199.8 103.7 L200 103.8 L200.2 103.8 L200.5 103.9 L200.8 103.9 L201 103.9 L201.2 104 L201.5 104 L201.8 104 L202 104.1 L202.2 104.1 L202.5 104.1 L202.8 104.1 L203 104.2 L203.2 104.2 L203.5 104.2 L203.8 104.2 L204 104.2 L204.2 104.2 L204.5 104.2 L204.8 104.2 L205 104.2 L205.2 104.2 L205.5 104.2 L205.8 104.3 L206 104.3 L206.2 104.3 L206.5 104.3 L206.8 104.3 L207 104.3 L207.2 104.3 L207.5 104.3 L207.8 104.3 L208 104.3 L208.2 104.3 L208.5 104.3 L208.8 104.3 L209 104.3 L209.2 104.2 L209.5 104.2 L209.8 104.2 L210 104.2 L210.2 104.2 L210.5 104.2 L210.8 104.2 L211 104.2 L211.2 104.2 L211.5 104.2 L211.8 104.2 L212 104.2 L212.2 104.2 L212.5 104.2 L212.8 104.2 L213 104.2 L213.2 104.2 L213.5 104.2 L213.8 104.2 L214 104.2 L214.2 104.2 L214.5 104.2 L214.8 104.2 L215 104.2 L215.2 104.2 L215.5 104.2 L215.8 104.2 L216 104.2 L216.2 104.2 L216.5 104.1 L216.8 104.1 L217 104.1 L217.2 104.1 L217.5 104.1 L217.8 104.1 L218 104.1 L218.2 104.1 L218.5 104.1 L218.8 104.1 L219 104.1 L219.2 104.1 L219.5 104.1 L219.8 104.1 L220 104.1 L220.2 104.1 L220.5 104.1 L220.8 104.1 L221 104 L221.2 104 L221.5 104 L221.8 104 L222 104 L222.2 104 L222.5 104 L222.8 104 L223 104 L223.2 104 L223.5 104 L223.8 103.9 L224 103.9 L224.2 103.9 L224.5 103.9 L224.8 103.9 L225 103.9 L225.2 103.9 L225.5 103.9 L225.8 103.8 L226 103.8 L226.2 103.8 L226.5 103.8 L226.8 103.8 L227 103.8 L227.2 103.7 L227.5 103.7 L227.8 103.7 L228 103.7 L228.2 103.7 L228.5 103.6 L228.8 103.6 L229 103.6 L229.2 103.6 L229.5 103.6 L229.8 103.5 L230 103.5 L230.2 103.5 L230.5 103.5 L230.8 103.4 L231 103.4 L231.2 103.4 L231.5 103.4 L231.8 103.3 L232 103.3 L232.2 103.3 L232.5 103.3 L232.8 103.2 L233 103.2 L233.2 103.2 L233.5 103.1 L233.8 103.1 L234 103.1 L234.2 103 L234.5 103 L234.8 103 L235 103 L235.2 102.9 L235.5 102.9 L235.8 102.9 L236 102.8 L236.2 102.8 L236.5 102.8 L236.8 102.7 L237 102.7 L237.2 102.7 L237.5 102.6 L237.8 102.6 L238 102.6 L238.2 102.5 L238.5 102.5 L238.8 102.5 L239 102.4 L239.2 102.4 L239.5 102.4 L239.8 102.3 L240 102.3 L240.2 102.3 L240.5 102.2 L240.8 102.2 L241 102.1 L241.2 102.1 L241.5 102.1 L241.8 102 L242 102 L242.2 102 L242.5 101.9 L242.8 101.9 L243 101.9 L243.2 101.8 L243.5 101.8 L243.8 101.8 L244 101.7 L244.2 101.7 L244.5 101.7 L244.8 101.6 L245 101.6 L245.2 101.5 L245.5 101.5 L245.8 101.5 L246 101.4 L246.2 101.4 L246.5 101.4 L246.8 101.3 L247 101.3 L247.2 101.3 L247.5 101.2 L247.8 101.2 L248 101.2 L248.2 101.1 L248.5 101.1 L248.8 101 L249 101 L249.2 101 L249.5 100.9 L249.8 100.9 L250 100.9 L250.2 100.8 L250.5 100.8 L250.8 100.8 L251 100.7 L251.2 100.7 L251.5 100.6 L251.8 100.6 L252 100.6 L252.2 100.5 L252.5 100.5 L252.8 100.5 L253 100.4 L253.2 100.4 L253.5 100.4 L253.8 100.3 L254 100.3 L254.2 100.3 L254.5 100.2 L254.8 100.2 L255 100.1 L255.2 100.1 L255.5 100.1 L255.8 100" stroke="#1414f0" stroke-width="1.45" fill="none" stroke-linejoin="round"/>
<path d="M27.5 156.1 L29.2 157.3 L31 157 L32.8 155.1 L34.5 155.1 L36.2 154.7 L38 155.5 L39.8 154.5 L41.5 154.9 L43.2 151.7 L45 154.2 L46.8 151.2 L48.5 150 L50.2 146.2 L52 141.4 L53.8 135.5 L55.5 126.5 L57.2 113.1 L59 98.3 L60.8 83 L62.5 66.2 L64.2 53.3 L66 45.9 L67.8 37.2 L69.5 29.2 L71.2 24.1 L73 19.5 L74.8 15.8 L76.5 15.2 L78.2 19.2 L80 25.2 L81.8 31.3 L83.5 39.5 L85.2 50 L87 59.7 L88.8 67.6 L90.5 76.3 L92.2 83.5 L94 87.5 L95.8 91 L97.5 95.1 L99.2 97.3 L101 99.9 L102.8 99.1 L104.5 101.3 L106.2 102.6 L108 103.2 L109.8 106.5 L111.5 108.2 L113.2 108.3 L115 111.6 L116.8 112.2 L118.5 113 L120.2 113.7 L122 115 L123.8 113.4 L125.5 115.9 L127.2 116.3 L129 114.3 L130.8 116.7 L132.5 116.3 L134.2 117.4 L136 116.3 L137.8 116.7 L139.5 117 L141.2 115.6 L143 116.9 L144.8 115.8 L146.5 116 L148.2 114.3 L150 114.9 L151.8 113.1 L153.5 110.4 L155.2 108.7 L157 106.1 L158.8 102.7 L160.5 94.8 L162.2 92.3 L164 86.8 L165.8 81.5 L167.5 76 L169.2 73.8 L171 66.7 L172.8 63.9 L174.5 60.6 L176.2 54.8 L178 54.8 L179.8 54.4 L181.5 58.2 L183.2 62.9 L185 67.5 L186.8 68.5 L188.5 74.3 L190.2 80 L192 84.9 L193.8 87.3 L195.5 89.1 L197.2 92.6 L199 94.2 L200.8 95.6 L202.5 96.3 L204.2 98.4 L206 99.1 L207.8 99.3 L209.5 99.8 L211.2 99.1 L213 100.3 L214.8 102.3 L216.5 101.2 L218.2 100.2 L220 103.1 L221.8 102.5 L223.5 103.8 L225.2 102.2 L227 101.7 L228.8 100.7 L230.5 103.4 L232.2 103.8 L234 101 L235.8 101.1 L237.5 102.2 L239.2 100.6 L241 100.9 L242.8 100.7 L244.5 101 L246.2 101.7 L248 100.4 L249.8 101.1 L251.5 99.5 L253.2 100.1 L255 97.7" stroke="#241818" stroke-width="1.0" fill="none" opacity="0.85"/>
<path d="M27.5 156.1 L29.2 157.1 L31 156.8 L32.8 155.2 L34.5 155.2 L36.2 154.9 L38 155.2 L39.8 154.6 L41.5 154.2 L43.2 153.5 L45 152.6 L46.8 151.3 L48.5 149.3 L50.2 146.3 L52 141.8 L53.8 135.1 L55.5 125.7 L57.2 113.3 L59 98.5 L60.8 82.3 L62.5 67.1 L64.2 54.8 L66 45.5 L67.8 37.9 L69.5 31 L71.2 24.9 L73 19.9 L74.8 17 L76.5 16.6 L78.2 19.2 L80 24.3 L81.8 31.6 L83.5 40.2 L85.2 49.6 L87 59 L88.8 67.9 L90.5 75.8 L92.2 82.4 L94 87.7 L95.8 91.8 L97.5 94.8 L99.2 97 L101 98.8 L102.8 100.4 L104.5 101.9 L106.2 103.4 L108 104.9 L109.8 106.3 L111.5 107.7 L113.2 109 L115 110.3 L116.8 111.4 L118.5 112.4 L120.2 113.3 L122 114.1 L123.8 114.7 L125.5 115.3 L127.2 115.7 L129 116.1 L130.8 116.4 L132.5 116.6 L134.2 116.7 L136 116.7 L137.8 116.7 L139.5 116.6 L141.2 116.5 L143 116.3 L144.8 115.9 L146.5 115.5 L148.2 114.8 L150 113.9 L151.8 112.5 L153.5 110.6 L155.2 108.1 L157 104.9 L158.8 101 L160.5 96.4 L162.2 91.4 L164 86.4 L165.8 81.6 L167.5 77 L169.2 72.5 L171 67.9 L172.8 63.3 L174.5 59.3 L176.2 56.4 L178 55.1 L179.8 55.7 L181.5 58 L183.2 61.4 L185 65.7 L186.8 70.3 L188.5 74.9 L190.2 79.3 L192 83.3 L193.8 86.9 L195.5 89.9 L197.2 92.3 L199 94.3 L200.8 95.8 L202.5 97 L204.2 98 L206 98.8 L207.8 99.4 L209.5 100 L211.2 100.4 L213 100.8 L214.8 101.1 L216.5 101.4 L218.2 101.6 L220 101.8 L221.8 101.9 L223.5 102.3 L225.2 102.1 L227 101.9 L228.8 101.1 L230.5 103.2 L232.2 103.5 L234 101.2 L235.8 101.2 L237.5 102.1 L239.2 100.7 L241 101 L242.8 100.7 L244.5 101 L246.2 101.5 L248 100.4 L249.8 101 L251.5 99.6 L253.2 100 L255 98" stroke="#f01010" stroke-width="1.6" fill="none" stroke-linejoin="round"/>
<path d="M25.8 156.1a1.75 1.75 0 1 0 3.5 0a1.75 1.75 0 1 0 -3.5 0M27.5 157.3a1.75 1.75 0 1 0 3.5 0a1.75 1.75 0 1 0 -3.5 0M29.2 157a1.75 1.75 0 1 0 3.5 0a1.75 1.75 0 1 0 -3.5 0M31 155.1a1.75 1.75 0 1 0 3.5 0a1.75 1.75 0 1 0 -3.5 0M32.8 155.1a1.75 1.75 0 1 0 3.5 0a1.75 1.75 0 1 0 -3.5 0M34.5 154.7a1.75 1.75 0 1 0 3.5 0a1.75 1.75 0 1 0 -3.5 0M36.2 155.5a1.75 1.75 0 1 0 3.5 0a1.75 1.75 0 1 0 -3.5 0M38 154.5a1.75 1.75 0 1 0 3.5 0a1.75 1.75 0 1 0 -3.5 0M39.8 154.9a1.75 1.75 0 1 0 3.5 0a1.75 1.75 0 1 0 -3.5 0M41.5 151.7a1.75 1.75 0 1 0 3.5 0a1.75 1.75 0 1 0 -3.5 0M43.2 154.2a1.75 1.75 0 1 0 3.5 0a1.75 1.75 0 1 0 -3.5 0M45 151.2a1.75 1.75 0 1 0 3.5 0a1.75 1.75 0 1 0 -3.5 0M46.8 150a1.75 1.75 0 1 0 3.5 0a1.75 1.75 0 1 0 -3.5 0M48.5 146.2a1.75 1.75 0 1 0 3.5 0a1.75 1.75 0 1 0 -3.5 0M50.2 141.4a1.75 1.75 0 1 0 3.5 0a1.75 1.75 0 1 0 -3.5 0M52 135.5a1.75 1.75 0 1 0 3.5 0a1.75 1.75 0 1 0 -3.5 0M53.8 126.5a1.75 1.75 0 1 0 3.5 0a1.75 1.75 0 1 0 -3.5 0M55.5 113.1a1.75 1.75 0 1 0 3.5 0a1.75 1.75 0 1 0 -3.5 0M57.2 98.3a1.75 1.75 0 1 0 3.5 0a1.75 1.75 0 1 0 -3.5 0M59 83a1.75 1.75 0 1 0 3.5 0a1.75 1.75 0 1 0 -3.5 0M60.8 66.2a1.75 1.75 0 1 0 3.5 0a1.75 1.75 0 1 0 -3.5 0M62.5 53.3a1.75 1.75 0 1 0 3.5 0a1.75 1.75 0 1 0 -3.5 0M64.2 45.9a1.75 1.75 0 1 0 3.5 0a1.75 1.75 0 1 0 -3.5 0M66 37.2a1.75 1.75 0 1 0 3.5 0a1.75 1.75 0 1 0 -3.5 0M67.8 29.2a1.75 1.75 0 1 0 3.5 0a1.75 1.75 0 1 0 -3.5 0M69.5 24.1a1.75 1.75 0 1 0 3.5 0a1.75 1.75 0 1 0 -3.5 0M71.2 19.5a1.75 1.75 0 1 0 3.5 0a1.75 1.75 0 1 0 -3.5 0M73 15.8a1.75 1.75 0 1 0 3.5 0a1.75 1.75 0 1 0 -3.5 0M74.8 15.2a1.75 1.75 0 1 0 3.5 0a1.75 1.75 0 1 0 -3.5 0M76.5 19.2a1.75 1.75 0 1 0 3.5 0a1.75 1.75 0 1 0 -3.5 0M78.2 25.2a1.75 1.75 0 1 0 3.5 0a1.75 1.75 0 1 0 -3.5 0M80 31.3a1.75 1.75 0 1 0 3.5 0a1.75 1.75 0 1 0 -3.5 0M81.8 39.5a1.75 1.75 0 1 0 3.5 0a1.75 1.75 0 1 0 -3.5 0M83.5 50a1.75 1.75 0 1 0 3.5 0a1.75 1.75 0 1 0 -3.5 0M85.2 59.7a1.75 1.75 0 1 0 3.5 0a1.75 1.75 0 1 0 -3.5 0M87 67.6a1.75 1.75 0 1 0 3.5 0a1.75 1.75 0 1 0 -3.5 0M88.8 76.3a1.75 1.75 0 1 0 3.5 0a1.75 1.75 0 1 0 -3.5 0M90.5 83.5a1.75 1.75 0 1 0 3.5 0a1.75 1.75 0 1 0 -3.5 0M92.2 87.5a1.75 1.75 0 1 0 3.5 0a1.75 1.75 0 1 0 -3.5 0M94 91a1.75 1.75 0 1 0 3.5 0a1.75 1.75 0 1 0 -3.5 0M95.8 95.1a1.75 1.75 0 1 0 3.5 0a1.75 1.75 0 1 0 -3.5 0M97.5 97.3a1.75 1.75 0 1 0 3.5 0a1.75 1.75 0 1 0 -3.5 0M99.2 99.9a1.75 1.75 0 1 0 3.5 0a1.75 1.75 0 1 0 -3.5 0M101 99.1a1.75 1.75 0 1 0 3.5 0a1.75 1.75 0 1 0 -3.5 0M102.8 101.3a1.75 1.75 0 1 0 3.5 0a1.75 1.75 0 1 0 -3.5 0M104.5 102.6a1.75 1.75 0 1 0 3.5 0a1.75 1.75 0 1 0 -3.5 0M106.2 103.2a1.75 1.75 0 1 0 3.5 0a1.75 1.75 0 1 0 -3.5 0M108 106.5a1.75 1.75 0 1 0 3.5 0a1.75 1.75 0 1 0 -3.5 0M109.8 108.2a1.75 1.75 0 1 0 3.5 0a1.75 1.75 0 1 0 -3.5 0M111.5 108.3a1.75 1.75 0 1 0 3.5 0a1.75 1.75 0 1 0 -3.5 0M113.2 111.6a1.75 1.75 0 1 0 3.5 0a1.75 1.75 0 1 0 -3.5 0M115 112.2a1.75 1.75 0 1 0 3.5 0a1.75 1.75 0 1 0 -3.5 0M116.8 113a1.75 1.75 0 1 0 3.5 0a1.75 1.75 0 1 0 -3.5 0M118.5 113.7a1.75 1.75 0 1 0 3.5 0a1.75 1.75 0 1 0 -3.5 0M120.2 115a1.75 1.75 0 1 0 3.5 0a1.75 1.75 0 1 0 -3.5 0M122 113.4a1.75 1.75 0 1 0 3.5 0a1.75 1.75 0 1 0 -3.5 0M123.8 115.9a1.75 1.75 0 1 0 3.5 0a1.75 1.75 0 1 0 -3.5 0M125.5 116.3a1.75 1.75 0 1 0 3.5 0a1.75 1.75 0 1 0 -3.5 0M127.2 114.3a1.75 1.75 0 1 0 3.5 0a1.75 1.75 0 1 0 -3.5 0M129 116.7a1.75 1.75 0 1 0 3.5 0a1.75 1.75 0 1 0 -3.5 0M130.8 116.3a1.75 1.75 0 1 0 3.5 0a1.75 1.75 0 1 0 -3.5 0M132.5 117.4a1.75 1.75 0 1 0 3.5 0a1.75 1.75 0 1 0 -3.5 0M134.2 116.3a1.75 1.75 0 1 0 3.5 0a1.75 1.75 0 1 0 -3.5 0M136 116.7a1.75 1.75 0 1 0 3.5 0a1.75 1.75 0 1 0 -3.5 0M137.8 117a1.75 1.75 0 1 0 3.5 0a1.75 1.75 0 1 0 -3.5 0M139.5 115.6a1.75 1.75 0 1 0 3.5 0a1.75 1.75 0 1 0 -3.5 0M141.2 116.9a1.75 1.75 0 1 0 3.5 0a1.75 1.75 0 1 0 -3.5 0M143 115.8a1.75 1.75 0 1 0 3.5 0a1.75 1.75 0 1 0 -3.5 0M144.8 116a1.75 1.75 0 1 0 3.5 0a1.75 1.75 0 1 0 -3.5 0M146.5 114.3a1.75 1.75 0 1 0 3.5 0a1.75 1.75 0 1 0 -3.5 0M148.2 114.9a1.75 1.75 0 1 0 3.5 0a1.75 1.75 0 1 0 -3.5 0M150 113.1a1.75 1.75 0 1 0 3.5 0a1.75 1.75 0 1 0 -3.5 0M151.8 110.4a1.75 1.75 0 1 0 3.5 0a1.75 1.75 0 1 0 -3.5 0M153.5 108.7a1.75 1.75 0 1 0 3.5 0a1.75 1.75 0 1 0 -3.5 0M155.2 106.1a1.75 1.75 0 1 0 3.5 0a1.75 1.75 0 1 0 -3.5 0M157 102.7a1.75 1.75 0 1 0 3.5 0a1.75 1.75 0 1 0 -3.5 0M158.8 94.8a1.75 1.75 0 1 0 3.5 0a1.75 1.75 0 1 0 -3.5 0M160.5 92.3a1.75 1.75 0 1 0 3.5 0a1.75 1.75 0 1 0 -3.5 0M162.2 86.8a1.75 1.75 0 1 0 3.5 0a1.75 1.75 0 1 0 -3.5 0M164 81.5a1.75 1.75 0 1 0 3.5 0a1.75 1.75 0 1 0 -3.5 0M165.8 76a1.75 1.75 0 1 0 3.5 0a1.75 1.75 0 1 0 -3.5 0M167.5 73.8a1.75 1.75 0 1 0 3.5 0a1.75 1.75 0 1 0 -3.5 0M169.2 66.7a1.75 1.75 0 1 0 3.5 0a1.75 1.75 0 1 0 -3.5 0M171 63.9a1.75 1.75 0 1 0 3.5 0a1.75 1.75 0 1 0 -3.5 0M172.8 60.6a1.75 1.75 0 1 0 3.5 0a1.75 1.75 0 1 0 -3.5 0M174.5 54.8a1.75 1.75 0 1 0 3.5 0a1.75 1.75 0 1 0 -3.5 0M176.2 54.8a1.75 1.75 0 1 0 3.5 0a1.75 1.75 0 1 0 -3.5 0M178 54.4a1.75 1.75 0 1 0 3.5 0a1.75 1.75 0 1 0 -3.5 0M179.8 58.2a1.75 1.75 0 1 0 3.5 0a1.75 1.75 0 1 0 -3.5 0M181.5 62.9a1.75 1.75 0 1 0 3.5 0a1.75 1.75 0 1 0 -3.5 0M183.2 67.5a1.75 1.75 0 1 0 3.5 0a1.75 1.75 0 1 0 -3.5 0M185 68.5a1.75 1.75 0 1 0 3.5 0a1.75 1.75 0 1 0 -3.5 0M186.8 74.3a1.75 1.75 0 1 0 3.5 0a1.75 1.75 0 1 0 -3.5 0M188.5 80a1.75 1.75 0 1 0 3.5 0a1.75 1.75 0 1 0 -3.5 0M190.2 84.9a1.75 1.75 0 1 0 3.5 0a1.75 1.75 0 1 0 -3.5 0M192 87.3a1.75 1.75 0 1 0 3.5 0a1.75 1.75 0 1 0 -3.5 0M193.8 89.1a1.75 1.75 0 1 0 3.5 0a1.75 1.75 0 1 0 -3.5 0M195.5 92.6a1.75 1.75 0 1 0 3.5 0a1.75 1.75 0 1 0 -3.5 0M197.2 94.2a1.75 1.75 0 1 0 3.5 0a1.75 1.75 0 1 0 -3.5 0M199 95.6a1.75 1.75 0 1 0 3.5 0a1.75 1.75 0 1 0 -3.5 0M200.8 96.3a1.75 1.75 0 1 0 3.5 0a1.75 1.75 0 1 0 -3.5 0M202.5 98.4a1.75 1.75 0 1 0 3.5 0a1.75 1.75 0 1 0 -3.5 0M204.2 99.1a1.75 1.75 0 1 0 3.5 0a1.75 1.75 0 1 0 -3.5 0M206 99.3a1.75 1.75 0 1 0 3.5 0a1.75 1.75 0 1 0 -3.5 0M207.8 99.8a1.75 1.75 0 1 0 3.5 0a1.75 1.75 0 1 0 -3.5 0M209.5 99.1a1.75 1.75 0 1 0 3.5 0a1.75 1.75 0 1 0 -3.5 0M211.2 100.3a1.75 1.75 0 1 0 3.5 0a1.75 1.75 0 1 0 -3.5 0M213 102.3a1.75 1.75 0 1 0 3.5 0a1.75 1.75 0 1 0 -3.5 0M214.8 101.2a1.75 1.75 0 1 0 3.5 0a1.75 1.75 0 1 0 -3.5 0M216.5 100.2a1.75 1.75 0 1 0 3.5 0a1.75 1.75 0 1 0 -3.5 0M218.2 103.1a1.75 1.75 0 1 0 3.5 0a1.75 1.75 0 1 0 -3.5 0M220 102.5a1.75 1.75 0 1 0 3.5 0a1.75 1.75 0 1 0 -3.5 0M221.8 103.8a1.75 1.75 0 1 0 3.5 0a1.75 1.75 0 1 0 -3.5 0M223.5 102.2a1.75 1.75 0 1 0 3.5 0a1.75 1.75 0 1 0 -3.5 0M225.2 101.7a1.75 1.75 0 1 0 3.5 0a1.75 1.75 0 1 0 -3.5 0M227 100.7a1.75 1.75 0 1 0 3.5 0a1.75 1.75 0 1 0 -3.5 0M228.8 103.4a1.75 1.75 0 1 0 3.5 0a1.75 1.75 0 1 0 -3.5 0M230.5 103.8a1.75 1.75 0 1 0 3.5 0a1.75 1.75 0 1 0 -3.5 0M232.2 101a1.75 1.75 0 1 0 3.5 0a1.75 1.75 0 1 0 -3.5 0M234 101.1a1.75 1.75 0 1 0 3.5 0a1.75 1.75 0 1 0 -3.5 0M235.8 102.2a1.75 1.75 0 1 0 3.5 0a1.75 1.75 0 1 0 -3.5 0M237.5 100.6a1.75 1.75 0 1 0 3.5 0a1.75 1.75 0 1 0 -3.5 0M239.2 100.9a1.75 1.75 0 1 0 3.5 0a1.75 1.75 0 1 0 -3.5 0M241 100.7a1.75 1.75 0 1 0 3.5 0a1.75 1.75 0 1 0 -3.5 0M242.8 101a1.75 1.75 0 1 0 3.5 0a1.75 1.75 0 1 0 -3.5 0M244.5 101.7a1.75 1.75 0 1 0 3.5 0a1.75 1.75 0 1 0 -3.5 0M246.2 100.4a1.75 1.75 0 1 0 3.5 0a1.75 1.75 0 1 0 -3.5 0M248 101.1a1.75 1.75 0 1 0 3.5 0a1.75 1.75 0 1 0 -3.5 0M249.8 99.5a1.75 1.75 0 1 0 3.5 0a1.75 1.75 0 1 0 -3.5 0M251.5 100.1a1.75 1.75 0 1 0 3.5 0a1.75 1.75 0 1 0 -3.5 0M253.2 97.7a1.75 1.75 0 1 0 3.5 0a1.75 1.75 0 1 0 -3.5 0" stroke="#454545" stroke-width="0.75" fill="none"/>
<path d="M27.5 156.1 L29.2 157.1 L31 156.8 L32.8 155.2 L34.5 155.3 L36.2 155.5 L38 156.3 L39.8 156.4 L41.5 157 L43.2 157.1 L45 157 L46.8 156.9 L48.5 156.8 L50.2 156.7 L52 156.5 L53.8 156.2 L55.5 155.8 L57.2 155.2 L59 154.4 L60.8 153.4 L62.5 152.1 L64.2 150.6 L66 149 L67.8 147.3 L69.5 145.5 L71.2 143.7 L73 141.7 L74.8 139.8 L76.5 137.8 L78.2 136 L80 134.1 L81.8 132.5 L83.5 130.9 L85.2 129.6 L87 128.4 L88.8 127.4 L90.5 126.4 L92.2 125.7 L94 125 L95.8 124.4 L97.5 123.9 L99.2 123.4 L101 123 L102.8 122.6 L104.5 122.3 L106.2 121.9 L108 121.7 L109.8 121.4 L111.5 121.2 L113.2 121 L115 120.8 L116.8 120.7 L118.5 120.5 L120.2 120.4 L122 120.3 L123.8 120.2 L125.5 120.1 L127.2 120.1 L129 120 L130.8 119.9 L132.5 119.9 L134.2 119.8 L136 119.8 L137.8 119.7 L139.5 119.7 L141.2 119.6 L143 119.6 L144.8 119.5 L146.5 119.5 L148.2 119.4 L150 119.3 L151.8 119.2 L153.5 119.1 L155.2 119 L157 118.8 L158.8 118.5 L160.5 118.2 L162.2 117.8 L164 117.4 L165.8 116.8 L167.5 116.3 L169.2 115.6 L171 114.9 L172.8 114.2 L174.5 113.4 L176.2 112.6 L178 111.7 L179.8 110.9 L181.5 110.1 L183.2 109.3 L185 108.6 L186.8 108 L188.5 107.4 L190.2 106.9 L192 106.5 L193.8 106.2 L195.5 105.9 L197.2 105.7 L199 105.5 L200.8 105.4 L202.5 105.2 L204.2 105.1 L206 105 L207.8 104.9 L209.5 104.8 L211.2 104.7 L213 104.7 L214.8 104.6 L216.5 104.5 L218.2 104.5 L220 104.4 L221.8 104.3 L223.5 104.1 L225.2 103.3 L227 102.6 L228.8 101.4 L230.5 103.2 L232.2 103.5 L234 101.2 L235.8 101.2 L237.5 102.1 L239.2 100.7 L241 101 L242.8 100.7 L244.5 101 L246.2 101.5 L248 100.4 L249.8 101 L251.5 99.6 L253.2 100 L255 98" stroke="#f0a21e" stroke-width="1.6" fill="none" stroke-linejoin="round"/>
<path d="M63.8 9V159.8" stroke="#52cac2" stroke-width="1.3" stroke-dasharray="1.9 1.3"/>
<path d="M75.5 9V159.8" stroke="#3434ee" stroke-width="1.3" stroke-dasharray="1.9 1.3"/>
<path d="M93.7 9V159.8" stroke="#c83ce8" stroke-width="1.3" stroke-dasharray="1.9 1.3"/>
<path d="M166 9V159.8" stroke="#52cac2" stroke-width="1.3" stroke-dasharray="1.9 1.3"/>
<path d="M179.1 9V159.8" stroke="#3434ee" stroke-width="1.3" stroke-dasharray="1.9 1.3"/>
<path d="M189.3 9V159.8" stroke="#c83ce8" stroke-width="1.3" stroke-dasharray="1.9 1.3"/>
<text x="24" y="104.8" font-size="11.0" text-anchor="start" stroke="#1a1a1a" stroke-width="0.3" >Mn-Mn</text>
<path d="M39.5 107.9L49.6 113.7" stroke="#000" stroke-width="1.45"/>
<path d="M52.8 115.5L48 115.4L50.3 111.4Z" fill="#000"/>
<text x="110.4" y="39.8" font-size="11.0" text-anchor="start" stroke="#1a1a1a" stroke-width="0.3" >Mn-B</text>
<path d="M107.7 35.9L89 35.9" stroke="#000" stroke-width="1.45"/>
<path d="M85.3 35.9L89.5 33.6L89.5 38.2Z" fill="#000"/>
<text x="107.9" y="74.8" font-size="11.0" text-anchor="start" stroke="#1a1a1a" stroke-width="0.3" >Mn-O</text>
<path d="M118.9 78.5L109.7 96.9" stroke="#000" stroke-width="1.45"/>
<path d="M108 100.2L107.8 95.4L111.9 97.5Z" fill="#000"/>
<text x="125.4" y="89.7" font-size="11.0" text-anchor="start" stroke="#1a1a1a" stroke-width="0.3" >Mn-Mn</text>
<path d="M145.3 92.5L156.1 98.4" stroke="#000" stroke-width="1.45"/>
<path d="M159.3 100.2L154.5 100.2L156.7 96.2Z" fill="#000"/>
<text x="215.9" y="52.3" font-size="11.0" text-anchor="start" stroke="#1a1a1a" stroke-width="0.3" >Mn-B</text>
<path d="M216 53.2L193.2 61.7" stroke="#000" stroke-width="1.45"/>
<path d="M189.8 63L192.9 59.4L194.5 63.7Z" fill="#000"/>
<text x="228.4" y="76.9" font-size="11.0" text-anchor="start" stroke="#1a1a1a" stroke-width="0.3" >Mn-O</text>
<path d="M228.8 80L206.7 88.6" stroke="#000" stroke-width="1.45"/>
<path d="M203.2 90L206.3 86.3L208 90.6Z" fill="#000"/>
<rect x="25.2" y="203.2" width="235.6" height="153.9" fill="none" stroke="#787878" stroke-width="1"/>
<path d="M28.7 357.1v1.7M28.7 203.2v-1.7M37.5 357.1v1.7M37.5 203.2v-1.7M46.4 357.1v1.7M46.4 203.2v-1.7M55.2 357.1v1.7M55.2 203.2v-1.7M64.1 357.1v3.8M64.1 203.2v-3.8M73 357.1v1.7M73 203.2v-1.7M81.8 357.1v1.7M81.8 203.2v-1.7M90.7 357.1v1.7M90.7 203.2v-1.7M99.5 357.1v1.7M99.5 203.2v-1.7M108.4 357.1v3.8M108.4 203.2v-3.8M117.2 357.1v1.7M117.2 203.2v-1.7M126.1 357.1v1.7M126.1 203.2v-1.7M135 357.1v1.7M135 203.2v-1.7M143.8 357.1v1.7M143.8 203.2v-1.7M152.7 357.1v3.8M152.7 203.2v-3.8M161.5 357.1v1.7M161.5 203.2v-1.7M170.4 357.1v1.7M170.4 203.2v-1.7M179.2 357.1v1.7M179.2 203.2v-1.7M188.1 357.1v1.7M188.1 203.2v-1.7M197 357.1v3.8M197 203.2v-3.8M205.8 357.1v1.7M205.8 203.2v-1.7M214.7 357.1v1.7M214.7 203.2v-1.7M223.5 357.1v1.7M223.5 203.2v-1.7M232.4 357.1v1.7M232.4 203.2v-1.7M241.2 357.1v3.8M241.2 203.2v-3.8M250.1 357.1v1.7M250.1 203.2v-1.7M259 357.1v1.7M259 203.2v-1.7" stroke="#787878" stroke-width="0.9" fill="none"/>
<text x="64.1" y="375.3" font-size="12.2" text-anchor="middle" stroke="#1a1a1a" stroke-width="0.3" >640</text>
<text x="108.4" y="375.3" font-size="12.2" text-anchor="middle" stroke="#1a1a1a" stroke-width="0.3" >645</text>
<text x="152.7" y="375.3" font-size="12.2" text-anchor="middle" stroke="#1a1a1a" stroke-width="0.3" >650</text>
<text x="197" y="375.3" font-size="12.2" text-anchor="middle" stroke="#1a1a1a" stroke-width="0.3" >655</text>
<text x="241.2" y="375.3" font-size="12.2" text-anchor="middle" stroke="#1a1a1a" stroke-width="0.3" >660</text>
<text x="143.1" y="393" font-size="12.9" text-anchor="middle" stroke="#1a1a1a" stroke-width="0.3" >Binding energy (eV)</text>
<text x="0" y="0" font-size="12.9" text-anchor="middle" stroke="#1a1a1a" stroke-width="0.3" transform="translate(14.2 277.4) rotate(-90)">Intensity (a.u.)</text>
<text x="28.2" y="216.2" font-size="13.2" text-anchor="start" stroke="#1a1a1a" stroke-width="0.3" >(c)</text>
<text x="253.8" y="220.7" font-size="13.1" text-anchor="end" stroke="#1a1a1a" stroke-width="0.3" >Mn 2p</text>
<path d="M27 351.7 L27.2 351.7 L27.5 351.7 L27.8 351.7 L28 351.7 L28.2 351.7 L28.5 351.7 L28.8 351.7 L29 351.7 L29.2 351.7 L29.5 351.6 L29.8 351.6 L30 351.6 L30.2 351.6 L30.5 351.6 L30.8 351.6 L31 351.6 L31.2 351.6 L31.5 351.6 L31.8 351.5 L32 351.5 L32.2 351.5 L32.5 351.5 L32.8 351.5 L33 351.5 L33.2 351.5 L33.5 351.5 L33.8 351.5 L34 351.4 L34.2 351.4 L34.5 351.4 L34.8 351.4 L35 351.4 L35.2 351.4 L35.5 351.4 L35.8 351.4 L36 351.4 L36.2 351.3 L36.5 351.3 L36.8 351.3 L37 351.3 L37.2 351.3 L37.5 351.3 L37.8 351.3 L38 351.3 L38.2 351.3 L38.5 351.2 L38.8 351.2 L39 351.2 L39.2 351.2 L39.5 351.2 L39.8 351.2 L40 351.2 L40.2 351.2 L40.5 351.1 L40.8 351.1 L41 351.1 L41.2 351.1 L41.5 351.1 L41.8 351.1 L42 351.1 L42.2 351 L42.5 351 L42.8 351 L43 351 L43.2 351 L43.5 351 L43.8 351 L44 351 L44.2 350.9 L44.5 350.9 L44.8 350.9 L45 350.9 L45.2 350.9 L45.5 350.9 L45.8 350.8 L46 350.8 L46.2 350.8 L46.5 350.8 L46.8 350.8 L47 350.8 L47.2 350.8 L47.5 350.7 L47.8 350.7 L48 350.7 L48.2 350.7 L48.5 350.7 L48.8 350.7 L49 350.6 L49.2 350.6 L49.5 350.6 L49.8 350.6 L50 350.6 L50.2 350.5 L50.5 350.5 L50.8 350.5 L51 350.5 L51.2 350.5 L51.5 350.4 L51.8 350.4 L52 350.4 L52.2 350.4 L52.5 350.3 L52.8 350.3 L53 350.3 L53.2 350.3 L53.5 350.2 L53.8 350.2 L54 350.2 L54.2 350.2 L54.5 350.1 L54.8 350.1 L55 350.1 L55.2 350.1 L55.5 350 L55.8 350 L56 350 L56.2 349.9 L56.5 349.9 L56.8 349.9 L57 349.8 L57.2 349.8 L57.5 349.7 L57.8 349.7 L58 349.7 L58.2 349.6 L58.5 349.6 L58.8 349.5 L59 349.5 L59.2 349.4 L59.5 349.4 L59.8 349.3 L60 349.3 L60.2 349.2 L60.5 349.1 L60.8 349.1 L61 349 L61.2 348.9 L61.5 348.9 L61.8 348.8 L62 348.7 L62.2 348.6 L62.5 348.6 L62.8 348.5 L63 348.4 L63.2 348.3 L63.5 348.2 L63.8 348.1 L64 348 L64.2 347.8 L64.5 347.7 L64.8 347.6 L65 347.5 L65.2 347.3 L65.5 347.2 L65.8 347 L66 346.8 L66.2 346.7 L66.5 346.5 L66.8 346.3 L67 346.1 L67.2 345.9 L67.5 345.7 L67.8 345.5 L68 345.3 L68.2 345.1 L68.5 344.8 L68.8 344.6 L69 344.3 L69.2 344 L69.5 343.7 L69.8 343.5 L70 343.2 L70.2 342.9 L70.5 342.5 L70.8 342.2 L71 341.9 L71.2 341.5 L71.5 341.2 L71.8 340.8 L72 340.5 L72.2 340.1 L72.5 339.7 L72.8 339.3 L73 338.9 L73.2 338.5 L73.5 338.1 L73.8 337.7 L74 337.3 L74.2 336.9 L74.5 336.5 L74.8 336 L75 335.6 L75.2 335.1 L75.5 334.7 L75.8 334.3 L76 333.8 L76.2 333.4 L76.5 332.9 L76.8 332.4 L77 332 L77.2 331.5 L77.5 331 L77.8 330.6 L78 330.1 L78.2 329.6 L78.5 329.2 L78.8 328.7 L79 328.2 L79.2 327.7 L79.5 327.2 L79.8 326.7 L80 326.2 L80.2 325.7 L80.5 325.3 L80.8 324.8 L81 324.3 L81.2 323.8 L81.5 323.3 L81.8 322.8 L82 322.3 L82.2 321.8 L82.5 321.2 L82.8 320.7 L83 320.2 L83.2 319.7 L83.5 319.2 L83.8 318.7 L84 318.2 L84.2 317.7 L84.5 317.2 L84.8 316.7 L85 316.2 L85.2 315.7 L85.5 315.2 L85.8 314.7 L86 314.2 L86.2 313.7 L86.5 313.2 L86.8 312.8 L87 312.3 L87.2 311.8 L87.5 311.3 L87.8 310.9 L88 310.4 L88.2 310 L88.5 309.5 L88.8 309.1 L89 308.6 L89.2 308.2 L89.5 307.8 L89.8 307.4 L90 307 L90.2 306.6 L90.5 306.2 L90.8 305.8 L91 305.4 L91.2 305.1 L91.5 304.7 L91.8 304.4 L92 304 L92.2 303.7 L92.5 303.4 L92.8 303.1 L93 302.8 L93.2 302.5 L93.5 302.2 L93.8 301.9 L94 301.7 L94.2 301.4 L94.5 301.2 L94.8 301 L95 300.8 L95.2 300.6 L95.5 300.4 L95.8 300.2 L96 300 L96.2 299.9 L96.5 299.7 L96.8 299.6 L97 299.5 L97.2 299.4 L97.5 299.3 L97.8 299.2 L98 299.1 L98.2 299 L98.5 299 L98.8 298.9 L99 298.9 L99.2 298.8 L99.5 298.8 L99.8 298.8 L100 298.8 L100.2 298.8 L100.5 298.9 L100.8 298.9 L101 298.9 L101.2 299 L101.5 299 L101.8 299.1 L102 299.2 L102.2 299.3 L102.5 299.3 L102.8 299.4 L103 299.5 L103.2 299.7 L103.5 299.8 L103.8 299.9 L104 300 L104.2 300.2 L104.5 300.3 L104.8 300.5 L105 300.6 L105.2 300.8 L105.5 300.9 L105.8 301.1 L106 301.3 L106.2 301.4 L106.5 301.6 L106.8 301.8 L107 302 L107.2 302.2 L107.5 302.4 L107.8 302.6 L108 302.8 L108.2 303 L108.5 303.2 L108.8 303.4 L109 303.6 L109.2 303.8 L109.5 304 L109.8 304.2 L110 304.4 L110.2 304.6 L110.5 304.8 L110.8 305.1 L111 305.3 L111.2 305.5 L111.5 305.7 L111.8 305.9 L112 306.1 L112.2 306.3 L112.5 306.5 L112.8 306.7 L113 306.9 L113.2 307.1 L113.5 307.3 L113.8 307.5 L114 307.7 L114.2 307.9 L114.5 308.1 L114.8 308.3 L115 308.5 L115.2 308.7 L115.5 308.9 L115.8 309.1 L116 309.3 L116.2 309.5 L116.5 309.6 L116.8 309.8 L117 310 L117.2 310.2 L117.5 310.3 L117.8 310.5 L118 310.7 L118.2 310.8 L118.5 311 L118.8 311.1 L119 311.3 L119.2 311.4 L119.5 311.6 L119.8 311.7 L120 311.8 L120.2 312 L120.5 312.1 L120.8 312.2 L121 312.4 L121.2 312.5 L121.5 312.6 L121.8 312.7 L122 312.8 L122.2 313 L122.5 313.1 L122.8 313.2 L123 313.3 L123.2 313.4 L123.5 313.5 L123.8 313.6 L124 313.6 L124.2 313.7 L124.5 313.8 L124.8 313.9 L125 314 L125.2 314.1 L125.5 314.1 L125.8 314.2 L126 314.3 L126.2 314.3 L126.5 314.4 L126.8 314.5 L127 314.5 L127.2 314.6 L127.5 314.6 L127.8 314.7 L128 314.8 L128.2 314.8 L128.5 314.9 L128.8 314.9 L129 314.9 L129.2 315 L129.5 315 L129.8 315.1 L130 315.1 L130.2 315.1 L130.5 315.2 L130.8 315.2 L131 315.2 L131.2 315.3 L131.5 315.3 L131.8 315.3 L132 315.3 L132.2 315.4 L132.5 315.4 L132.8 315.4 L133 315.4 L133.2 315.4 L133.5 315.4 L133.8 315.5 L134 315.5 L134.2 315.5 L134.5 315.5 L134.8 315.5 L135 315.5 L135.2 315.5 L135.5 315.5 L135.8 315.6 L136 315.6 L136.2 315.6 L136.5 315.6 L136.8 315.6 L137 315.6 L137.2 315.6 L137.5 315.6 L137.8 315.6 L138 315.6 L138.2 315.6 L138.5 315.6 L138.8 315.6 L139 315.6 L139.2 315.6 L139.5 315.6 L139.8 315.6 L140 315.6 L140.2 315.6 L140.5 315.6 L140.8 315.6 L141 315.6 L141.2 315.6 L141.5 315.6 L141.8 315.5 L142 315.5 L142.2 315.5 L142.5 315.5 L142.8 315.5 L143 315.5 L143.2 315.5 L143.5 315.5 L143.8 315.5 L144 315.5 L144.2 315.5 L144.5 315.5 L144.8 315.5 L145 315.5 L145.2 315.4 L145.5 315.4 L145.8 315.4 L146 315.4 L146.2 315.4 L146.5 315.4 L146.8 315.4 L147 315.4 L147.2 315.4 L147.5 315.3 L147.8 315.3 L148 315.3 L148.2 315.3 L148.5 315.3 L148.8 315.3 L149 315.3 L149.2 315.3 L149.5 315.2 L149.8 315.2 L150 315.2 L150.2 315.2 L150.5 315.2 L150.8 315.2 L151 315.2 L151.2 315.1 L151.5 315.1 L151.8 315.1 L152 315.1 L152.2 315.1 L152.5 315.1 L152.8 315.1 L153 315 L153.2 315 L153.5 315 L153.8 315 L154 315 L154.2 314.9 L154.5 314.9 L154.8 314.9 L155 314.9 L155.2 314.9 L155.5 314.8 L155.8 314.8 L156 314.8 L156.2 314.8 L156.5 314.8 L156.8 314.7 L157 314.7 L157.2 314.7 L157.5 314.7 L157.8 314.6 L158 314.6 L158.2 314.6 L158.5 314.6 L158.8 314.5 L159 314.5 L159.2 314.5 L159.5 314.5 L159.8 314.4 L160 314.4 L160.2 314.4 L160.5 314.3 L160.8 314.3 L161 314.3 L161.2 314.2 L161.5 314.2 L161.8 314.1 L162 314.1 L162.2 314.1 L162.5 314 L162.8 314 L163 313.9 L163.2 313.9 L163.5 313.9 L163.8 313.8 L164 313.8 L164.2 313.7 L164.5 313.7 L164.8 313.6 L165 313.6 L165.2 313.5 L165.5 313.4 L165.8 313.4 L166 313.3 L166.2 313.3 L166.5 313.2 L166.8 313.1 L167 313.1 L167.2 313 L167.5 312.9 L167.8 312.9 L168 312.8 L168.2 312.7 L168.5 312.6 L168.8 312.5 L169 312.5 L169.2 312.4 L169.5 312.3 L169.8 312.2 L170 312.1 L170.2 312 L170.5 311.9 L170.8 311.8 L171 311.7 L171.2 311.6 L171.5 311.5 L171.8 311.4 L172 311.3 L172.2 311.1 L172.5 311 L172.8 310.9 L173 310.8 L173.2 310.6 L173.5 310.5 L173.8 310.4 L174 310.2 L174.2 310.1 L174.5 309.9 L174.8 309.8 L175 309.6 L175.2 309.5 L175.5 309.3 L175.8 309.1 L176 309 L176.2 308.8 L176.5 308.6 L176.8 308.4 L177 308.3 L177.2 308.1 L177.5 307.9 L177.8 307.7 L178 307.5 L178.2 307.3 L178.5 307.1 L178.8 306.9 L179 306.6 L179.2 306.4 L179.5 306.2 L179.8 306 L180 305.7 L180.2 305.5 L180.5 305.2 L180.8 305 L181 304.7 L181.2 304.5 L181.5 304.2 L181.8 304 L182 303.7 L182.2 303.4 L182.5 303.1 L182.8 302.8 L183 302.6 L183.2 302.3 L183.5 302 L183.8 301.7 L184 301.3 L184.2 301 L184.5 300.7 L184.8 300.4 L185 300.1 L185.2 299.7 L185.5 299.4 L185.8 299.1 L186 298.7 L186.2 298.4 L186.5 298 L186.8 297.7 L187 297.3 L187.2 296.9 L187.5 296.6 L187.8 296.2 L188 295.9 L188.2 295.5 L188.5 295.1 L188.8 294.8 L189 294.4 L189.2 294 L189.5 293.6 L189.8 293.3 L190 292.9 L190.2 292.6 L190.5 292.2 L190.8 291.9 L191 291.5 L191.2 291.2 L191.5 290.9 L191.8 290.6 L192 290.3 L192.2 290 L192.5 289.7 L192.8 289.5 L193 289.2 L193.2 289 L193.5 288.8 L193.8 288.6 L194 288.4 L194.2 288.3 L194.5 288.2 L194.8 288 L195 288 L195.2 287.9 L195.5 287.9 L195.8 287.8 L196 287.8 L196.2 287.9 L196.5 287.9 L196.8 287.9 L197 288 L197.2 288.1 L197.5 288.2 L197.8 288.3 L198 288.5 L198.2 288.6 L198.5 288.8 L198.8 288.9 L199 289.1 L199.2 289.3 L199.5 289.5 L199.8 289.7 L200 289.9 L200.2 290.1 L200.5 290.3 L200.8 290.5 L201 290.7 L201.2 290.9 L201.5 291.1 L201.8 291.3 L202 291.5 L202.2 291.7 L202.5 291.9 L202.8 292.1 L203 292.3 L203.2 292.5 L203.5 292.7 L203.8 292.9 L204 293.1 L204.2 293.3 L204.5 293.5 L204.8 293.6 L205 293.8 L205.2 294 L205.5 294.1 L205.8 294.3 L206 294.4 L206.2 294.6 L206.5 294.7 L206.8 294.9 L207 295 L207.2 295.1 L207.5 295.3 L207.8 295.4 L208 295.5 L208.2 295.6 L208.5 295.7 L208.8 295.8 L209 295.9 L209.2 296 L209.5 296.1 L209.8 296.2 L210 296.3 L210.2 296.4 L210.5 296.5 L210.8 296.6 L211 296.6 L211.2 296.7 L211.5 296.8 L211.8 296.9 L212 296.9 L212.2 297 L212.5 297.1 L212.8 297.1 L213 297.2 L213.2 297.2 L213.5 297.3 L213.8 297.3 L214 297.4 L214.2 297.4 L214.5 297.5 L214.8 297.5 L215 297.5 L215.2 297.6 L215.5 297.6 L215.8 297.7 L216 297.7 L216.2 297.7 L216.5 297.8 L216.8 297.8 L217 297.8 L217.2 297.9 L217.5 297.9 L217.8 297.9 L218 297.9 L218.2 298 L218.5 298 L218.8 298 L219 298 L219.2 298 L219.5 298.1 L219.8 298.1 L220 298.1 L220.2 298.1 L220.5 298.1 L220.8 298.1 L221 298.2 L221.2 298.2 L221.5 298.2 L221.8 298.2 L222 298.2 L222.2 298.2 L222.5 298.2 L222.8 298.2 L223 298.3 L223.2 298.3 L223.5 298.3 L223.8 298.3 L224 298.3 L224.2 298.3 L224.5 298.3 L224.8 298.3 L225 298.3 L225.2 298.3 L225.5 298.3 L225.8 298.3 L226 298.3 L226.2 298.3 L226.5 298.3 L226.8 298.3 L227 298.3 L227.2 298.4 L227.5 298.4 L227.8 298.4 L228 298.4 L228.2 298.4 L228.5 298.4 L228.8 298.4 L229 298.4 L229.2 298.4 L229.5 298.4 L229.8 298.4 L230 298.4 L230.2 298.3 L230.5 298.3 L230.8 298.3 L231 298.3 L231.2 298.3 L231.5 298.3 L231.8 298.3 L232 298.3 L232.2 298.3 L232.5 298.3 L232.8 298.3 L233 298.3 L233.2 298.3 L233.5 298.3 L233.8 298.3 L234 298.2 L234.2 298.2 L234.5 298.2 L234.8 298.2 L235 298.2 L235.2 298.2 L235.5 298.2 L235.8 298.1 L236 298.1 L236.2 298.1 L236.5 298.1 L236.8 298.1 L237 298 L237.2 298 L237.5 298 L237.8 298 L238 298 L238.2 297.9 L238.5 297.9 L238.8 297.9 L239 297.8 L239.2 297.8 L239.5 297.8 L239.8 297.7 L240 297.7 L240.2 297.7 L240.5 297.6 L240.8 297.6 L241 297.6 L241.2 297.5 L241.5 297.5 L241.8 297.5 L242 297.4 L242.2 297.4 L242.5 297.3 L242.8 297.3 L243 297.2 L243.2 297.2 L243.5 297.1 L243.8 297.1 L244 297 L244.2 297 L244.5 296.9 L244.8 296.9 L245 296.8 L245.2 296.8 L245.5 296.7 L245.8 296.7 L246 296.6 L246.2 296.6 L246.5 296.5 L246.8 296.5 L247 296.4 L247.2 296.3 L247.5 296.3 L247.8 296.2 L248 296.2 L248.2 296.1 L248.5 296 L248.8 296 L249 295.9 L249.2 295.9 L249.5 295.8 L249.8 295.7 L250 295.7 L250.2 295.6 L250.5 295.6 L250.8 295.5 L251 295.4 L251.2 295.4 L251.5 295.3 L251.8 295.2 L252 295.2 L252.2 295.1 L252.5 295 L252.8 295 L253 294.9 L253.2 294.9 L253.5 294.8 L253.8 294.7 L254 294.7 L254.2 294.6 L254.5 294.5 L254.8 294.5 L255 294.4 L255.2 294.3 L255.5 294.3 L255.8 294.2 L256 294.1 L256.2 294.1 L256.5 294 L256.8 293.9 L257 293.9 L257.2 293.8 L257.5 293.7 L257.8 293.7 L258 293.6 L258.2 293.5 L258.5 293.5 L258.8 293.4" stroke="#ff14e6" stroke-width="1.45" fill="none" stroke-linejoin="round"/>
<path d="M27 351.6 L27.2 351.6 L27.5 351.6 L27.8 351.6 L28 351.6 L28.2 351.6 L28.5 351.6 L28.8 351.5 L29 351.5 L29.2 351.5 L29.5 351.5 L29.8 351.5 L30 351.5 L30.2 351.5 L30.5 351.4 L30.8 351.4 L31 351.4 L31.2 351.4 L31.5 351.4 L31.8 351.4 L32 351.4 L32.2 351.4 L32.5 351.3 L32.8 351.3 L33 351.3 L33.2 351.3 L33.5 351.3 L33.8 351.3 L34 351.3 L34.2 351.2 L34.5 351.2 L34.8 351.2 L35 351.2 L35.2 351.2 L35.5 351.2 L35.8 351.1 L36 351.1 L36.2 351.1 L36.5 351.1 L36.8 351.1 L37 351.1 L37.2 351 L37.5 351 L37.8 351 L38 351 L38.2 351 L38.5 351 L38.8 350.9 L39 350.9 L39.2 350.9 L39.5 350.9 L39.8 350.9 L40 350.9 L40.2 350.8 L40.5 350.8 L40.8 350.8 L41 350.8 L41.2 350.8 L41.5 350.7 L41.8 350.7 L42 350.7 L42.2 350.7 L42.5 350.6 L42.8 350.6 L43 350.6 L43.2 350.6 L43.5 350.6 L43.8 350.5 L44 350.5 L44.2 350.5 L44.5 350.5 L44.8 350.4 L45 350.4 L45.2 350.4 L45.5 350.4 L45.8 350.3 L46 350.3 L46.2 350.3 L46.5 350.3 L46.8 350.2 L47 350.2 L47.2 350.2 L47.5 350.1 L47.8 350.1 L48 350.1 L48.2 350 L48.5 350 L48.8 350 L49 349.9 L49.2 349.9 L49.5 349.9 L49.8 349.8 L50 349.8 L50.2 349.8 L50.5 349.7 L50.8 349.7 L51 349.6 L51.2 349.6 L51.5 349.6 L51.8 349.5 L52 349.5 L52.2 349.4 L52.5 349.4 L52.8 349.3 L53 349.3 L53.2 349.2 L53.5 349.2 L53.8 349.1 L54 349 L54.2 349 L54.5 348.9 L54.8 348.8 L55 348.8 L55.2 348.7 L55.5 348.6 L55.8 348.5 L56 348.4 L56.2 348.3 L56.5 348.2 L56.8 348.1 L57 348 L57.2 347.8 L57.5 347.7 L57.8 347.5 L58 347.4 L58.2 347.2 L58.5 347 L58.8 346.8 L59 346.5 L59.2 346.3 L59.5 346 L59.8 345.7 L60 345.4 L60.2 345 L60.5 344.6 L60.8 344.2 L61 343.7 L61.2 343.2 L61.5 342.6 L61.8 342 L62 341.4 L62.2 340.7 L62.5 339.9 L62.8 339.1 L63 338.2 L63.2 337.3 L63.5 336.3 L63.8 335.3 L64 334.1 L64.2 332.9 L64.5 331.7 L64.8 330.3 L65 328.9 L65.2 327.4 L65.5 325.9 L65.8 324.3 L66 322.6 L66.2 320.8 L66.5 319 L66.8 317.2 L67 315.3 L67.2 313.3 L67.5 311.3 L67.8 309.3 L68 307.2 L68.2 305.1 L68.5 303 L68.8 301 L69 298.9 L69.2 296.8 L69.5 294.8 L69.8 292.9 L70 291 L70.2 289.1 L70.5 287.4 L70.8 285.7 L71 284.2 L71.2 282.8 L71.5 281.6 L71.8 280.5 L72 279.6 L72.2 278.8 L72.5 278.2 L72.8 277.8 L73 277.6 L73.2 277.6 L73.5 277.8 L73.8 278.1 L74 278.6 L74.2 279.3 L74.5 280.2 L74.8 281.1 L75 282.2 L75.2 283.4 L75.5 284.8 L75.8 286.2 L76 287.7 L76.2 289.2 L76.5 290.8 L76.8 292.4 L77 294.1 L77.2 295.7 L77.5 297.4 L77.8 299.1 L78 300.7 L78.2 302.4 L78.5 304 L78.8 305.5 L79 307.1 L79.2 308.5 L79.5 309.9 L79.8 311.3 L80 312.6 L80.2 313.9 L80.5 315 L80.8 316.1 L81 317.2 L81.2 318.2 L81.5 319.1 L81.8 319.9 L82 320.7 L82.2 321.4 L82.5 322.1 L82.8 322.7 L83 323.2 L83.2 323.7 L83.5 324.2 L83.8 324.5 L84 324.9 L84.2 325.2 L84.5 325.4 L84.8 325.6 L85 325.8 L85.2 326 L85.5 326.1 L85.8 326.1 L86 326.2 L86.2 326.2 L86.5 326.2 L86.8 326.2 L87 326.2 L87.2 326.2 L87.5 326.1 L87.8 326 L88 325.9 L88.2 325.8 L88.5 325.7 L88.8 325.6 L89 325.5 L89.2 325.4 L89.5 325.3 L89.8 325.2 L90 325 L90.2 324.9 L90.5 324.8 L90.8 324.6 L91 324.5 L91.2 324.4 L91.5 324.2 L91.8 324.1 L92 324 L92.2 323.8 L92.5 323.7 L92.8 323.6 L93 323.4 L93.2 323.3 L93.5 323.2 L93.8 323.1 L94 322.9 L94.2 322.8 L94.5 322.7 L94.8 322.6 L95 322.5 L95.2 322.3 L95.5 322.2 L95.8 322.1 L96 322 L96.2 321.9 L96.5 321.8 L96.8 321.7 L97 321.6 L97.2 321.5 L97.5 321.4 L97.8 321.3 L98 321.2 L98.2 321.1 L98.5 321 L98.8 321 L99 320.9 L99.2 320.8 L99.5 320.7 L99.8 320.6 L100 320.6 L100.2 320.5 L100.5 320.4 L100.8 320.3 L101 320.3 L101.2 320.2 L101.5 320.1 L101.8 320 L102 320 L102.2 319.9 L102.5 319.8 L102.8 319.8 L103 319.7 L103.2 319.6 L103.5 319.6 L103.8 319.5 L104 319.5 L104.2 319.4 L104.5 319.4 L104.8 319.3 L105 319.2 L105.2 319.2 L105.5 319.1 L105.8 319.1 L106 319 L106.2 319 L106.5 318.9 L106.8 318.9 L107 318.8 L107.2 318.8 L107.5 318.7 L107.8 318.7 L108 318.7 L108.2 318.6 L108.5 318.6 L108.8 318.5 L109 318.5 L109.2 318.4 L109.5 318.4 L109.8 318.4 L110 318.3 L110.2 318.3 L110.5 318.2 L110.8 318.2 L111 318.2 L111.2 318.1 L111.5 318.1 L111.8 318.1 L112 318 L112.2 318 L112.5 318 L112.8 317.9 L113 317.9 L113.2 317.9 L113.5 317.8 L113.8 317.8 L114 317.8 L114.2 317.7 L114.5 317.7 L114.8 317.7 L115 317.7 L115.2 317.6 L115.5 317.6 L115.8 317.6 L116 317.5 L116.2 317.5 L116.5 317.5 L116.8 317.5 L117 317.4 L117.2 317.4 L117.5 317.4 L117.8 317.4 L118 317.4 L118.2 317.3 L118.5 317.3 L118.8 317.3 L119 317.3 L119.2 317.2 L119.5 317.2 L119.8 317.2 L120 317.2 L120.2 317.2 L120.5 317.1 L120.8 317.1 L121 317.1 L121.2 317.1 L121.5 317.1 L121.8 317.1 L122 317 L122.2 317 L122.5 317 L122.8 317 L123 317 L123.2 317 L123.5 316.9 L123.8 316.9 L124 316.9 L124.2 316.9 L124.5 316.9 L124.8 316.9 L125 316.9 L125.2 316.8 L125.5 316.8 L125.8 316.8 L126 316.8 L126.2 316.8 L126.5 316.8 L126.8 316.8 L127 316.7 L127.2 316.7 L127.5 316.7 L127.8 316.7 L128 316.7 L128.2 316.7 L128.5 316.7 L128.8 316.7 L129 316.6 L129.2 316.6 L129.5 316.6 L129.8 316.6 L130 316.6 L130.2 316.6 L130.5 316.6 L130.8 316.6 L131 316.6 L131.2 316.5 L131.5 316.5 L131.8 316.5 L132 316.5 L132.2 316.5 L132.5 316.5 L132.8 316.5 L133 316.5 L133.2 316.5 L133.5 316.4 L133.8 316.4 L134 316.4 L134.2 316.4 L134.5 316.4 L134.8 316.4 L135 316.4 L135.2 316.4 L135.5 316.4 L135.8 316.3 L136 316.3 L136.2 316.3 L136.5 316.3 L136.8 316.3 L137 316.3 L137.2 316.3 L137.5 316.3 L137.8 316.3 L138 316.2 L138.2 316.2 L138.5 316.2 L138.8 316.2 L139 316.2 L139.2 316.2 L139.5 316.2 L139.8 316.2 L140 316.2 L140.2 316.1 L140.5 316.1 L140.8 316.1 L141 316.1 L141.2 316.1 L141.5 316.1 L141.8 316.1 L142 316 L142.2 316 L142.5 316 L142.8 316 L143 316 L143.2 316 L143.5 316 L143.8 315.9 L144 315.9 L144.2 315.9 L144.5 315.9 L144.8 315.9 L145 315.8 L145.2 315.8 L145.5 315.8 L145.8 315.8 L146 315.8 L146.2 315.7 L146.5 315.7 L146.8 315.7 L147 315.6 L147.2 315.6 L147.5 315.6 L147.8 315.6 L148 315.5 L148.2 315.5 L148.5 315.5 L148.8 315.4 L149 315.4 L149.2 315.3 L149.5 315.3 L149.8 315.2 L150 315.2 L150.2 315.2 L150.5 315.1 L150.8 315.1 L151 315 L151.2 314.9 L151.5 314.9 L151.8 314.8 L152 314.7 L152.2 314.7 L152.5 314.6 L152.8 314.5 L153 314.5 L153.2 314.4 L153.5 314.3 L153.8 314.2 L154 314.1 L154.2 314 L154.5 313.9 L154.8 313.8 L155 313.7 L155.2 313.6 L155.5 313.5 L155.8 313.3 L156 313.2 L156.2 313.1 L156.5 312.9 L156.8 312.8 L157 312.7 L157.2 312.5 L157.5 312.3 L157.8 312.2 L158 312 L158.2 311.8 L158.5 311.7 L158.8 311.5 L159 311.3 L159.2 311.1 L159.5 310.9 L159.8 310.7 L160 310.5 L160.2 310.2 L160.5 310 L160.8 309.8 L161 309.5 L161.2 309.3 L161.5 309 L161.8 308.8 L162 308.5 L162.2 308.2 L162.5 308 L162.8 307.7 L163 307.4 L163.2 307.1 L163.5 306.8 L163.8 306.5 L164 306.2 L164.2 305.9 L164.5 305.5 L164.8 305.2 L165 304.9 L165.2 304.6 L165.5 304.2 L165.8 303.9 L166 303.5 L166.2 303.2 L166.5 302.8 L166.8 302.5 L167 302.1 L167.2 301.7 L167.5 301.4 L167.8 301 L168 300.6 L168.2 300.2 L168.5 299.9 L168.8 299.5 L169 299.1 L169.2 298.8 L169.5 298.4 L169.8 298 L170 297.6 L170.2 297.3 L170.5 296.9 L170.8 296.5 L171 296.2 L171.2 295.8 L171.5 295.5 L171.8 295.1 L172 294.7 L172.2 294.4 L172.5 294.1 L172.8 293.7 L173 293.4 L173.2 293.1 L173.5 292.8 L173.8 292.5 L174 292.2 L174.2 291.9 L174.5 291.6 L174.8 291.3 L175 291 L175.2 290.8 L175.5 290.5 L175.8 290.3 L176 290.1 L176.2 289.8 L176.5 289.6 L176.8 289.4 L177 289.2 L177.2 289.1 L177.5 288.9 L177.8 288.8 L178 288.6 L178.2 288.5 L178.5 288.4 L178.8 288.2 L179 288.2 L179.2 288.1 L179.5 288 L179.8 287.9 L180 287.9 L180.2 287.8 L180.5 287.8 L180.8 287.8 L181 287.8 L181.2 287.8 L181.5 287.8 L181.8 287.8 L182 287.9 L182.2 287.9 L182.5 288 L182.8 288 L183 288.1 L183.2 288.2 L183.5 288.3 L183.8 288.4 L184 288.5 L184.2 288.6 L184.5 288.7 L184.8 288.9 L185 289 L185.2 289.2 L185.5 289.3 L185.8 289.5 L186 289.6 L186.2 289.8 L186.5 290 L186.8 290.1 L187 290.3 L187.2 290.5 L187.5 290.7 L187.8 290.9 L188 291.1 L188.2 291.3 L188.5 291.5 L188.8 291.7 L189 291.9 L189.2 292.1 L189.5 292.3 L189.8 292.5 L190 292.7 L190.2 292.9 L190.5 293.1 L190.8 293.3 L191 293.5 L191.2 293.7 L191.5 293.8 L191.8 294 L192 294.2 L192.2 294.4 L192.5 294.6 L192.8 294.8 L193 295 L193.2 295.1 L193.5 295.3 L193.8 295.5 L194 295.7 L194.2 295.8 L194.5 296 L194.8 296.1 L195 296.3 L195.2 296.4 L195.5 296.6 L195.8 296.7 L196 296.9 L196.2 297 L196.5 297.1 L196.8 297.3 L197 297.4 L197.2 297.5 L197.5 297.6 L197.8 297.7 L198 297.8 L198.2 298 L198.5 298.1 L198.8 298.2 L199 298.2 L199.2 298.3 L199.5 298.4 L199.8 298.5 L200 298.6 L200.2 298.7 L200.5 298.7 L200.8 298.8 L201 298.9 L201.2 298.9 L201.5 299 L201.8 299.1 L202 299.1 L202.2 299.2 L202.5 299.2 L202.8 299.3 L203 299.3 L203.2 299.4 L203.5 299.4 L203.8 299.4 L204 299.5 L204.2 299.5 L204.5 299.5 L204.8 299.6 L205 299.6 L205.2 299.6 L205.5 299.6 L205.8 299.7 L206 299.7 L206.2 299.7 L206.5 299.7 L206.8 299.7 L207 299.7 L207.2 299.8 L207.5 299.8 L207.8 299.8 L208 299.8 L208.2 299.8 L208.5 299.8 L208.8 299.8 L209 299.8 L209.2 299.8 L209.5 299.8 L209.8 299.8 L210 299.8 L210.2 299.8 L210.5 299.8 L210.8 299.8 L211 299.8 L211.2 299.8 L211.5 299.8 L211.8 299.8 L212 299.8 L212.2 299.8 L212.5 299.8 L212.8 299.8 L213 299.8 L213.2 299.8 L213.5 299.8 L213.8 299.8 L214 299.8 L214.2 299.8 L214.5 299.7 L214.8 299.7 L215 299.7 L215.2 299.7 L215.5 299.7 L215.8 299.7 L216 299.7 L216.2 299.7 L216.5 299.7 L216.8 299.7 L217 299.7 L217.2 299.7 L217.5 299.6 L217.8 299.6 L218 299.6 L218.2 299.6 L218.5 299.6 L218.8 299.6 L219 299.6 L219.2 299.6 L219.5 299.6 L219.8 299.6 L220 299.6 L220.2 299.5 L220.5 299.5 L220.8 299.5 L221 299.5 L221.2 299.5 L221.5 299.5 L221.8 299.5 L222 299.5 L222.2 299.5 L222.5 299.5 L222.8 299.5 L223 299.4 L223.2 299.4 L223.5 299.4 L223.8 299.4 L224 299.4 L224.2 299.4 L224.5 299.4 L224.8 299.4 L225 299.4 L225.2 299.4 L225.5 299.3 L225.8 299.3 L226 299.3 L226.2 299.3 L226.5 299.3 L226.8 299.3 L227 299.3 L227.2 299.3 L227.5 299.3 L227.8 299.2 L228 299.2 L228.2 299.2 L228.5 299.2 L228.8 299.2 L229 299.2 L229.2 299.2 L229.5 299.2 L229.8 299.2 L230 299.1 L230.2 299.1 L230.5 299.1 L230.8 299.1 L231 299.1 L231.2 299.1 L231.5 299.1 L231.8 299 L232 299 L232.2 299 L232.5 299 L232.8 299 L233 299 L233.2 298.9 L233.5 298.9 L233.8 298.9 L234 298.9 L234.2 298.9 L234.5 298.8 L234.8 298.8 L235 298.8 L235.2 298.8 L235.5 298.8 L235.8 298.7 L236 298.7 L236.2 298.7 L236.5 298.7 L236.8 298.6 L237 298.6 L237.2 298.6 L237.5 298.5 L237.8 298.5 L238 298.5 L238.2 298.5 L238.5 298.4 L238.8 298.4 L239 298.4 L239.2 298.3 L239.5 298.3 L239.8 298.2 L240 298.2 L240.2 298.2 L240.5 298.1 L240.8 298.1 L241 298 L241.2 298 L241.5 298 L241.8 297.9 L242 297.9 L242.2 297.8 L242.5 297.8 L242.8 297.7 L243 297.7 L243.2 297.6 L243.5 297.6 L243.8 297.5 L244 297.5 L244.2 297.4 L244.5 297.4 L244.8 297.3 L245 297.2 L245.2 297.2 L245.5 297.1 L245.8 297.1 L246 297 L246.2 297 L246.5 296.9 L246.8 296.8 L247 296.8 L247.2 296.7 L247.5 296.6 L247.8 296.6 L248 296.5 L248.2 296.5 L248.5 296.4 L248.8 296.3 L249 296.3 L249.2 296.2 L249.5 296.1 L249.8 296.1 L250 296 L250.2 295.9 L250.5 295.9 L250.8 295.8 L251 295.8 L251.2 295.7 L251.5 295.6 L251.8 295.6 L252 295.5 L252.2 295.4 L252.5 295.4 L252.8 295.3 L253 295.2 L253.2 295.1 L253.5 295.1 L253.8 295 L254 294.9 L254.2 294.9 L254.5 294.8 L254.8 294.7 L255 294.7 L255.2 294.6 L255.5 294.5 L255.8 294.5 L256 294.4 L256.2 294.3 L256.5 294.3 L256.8 294.2 L257 294.1 L257.2 294.1 L257.5 294 L257.8 293.9 L258 293.8 L258.2 293.8 L258.5 293.7 L258.8 293.6" stroke="#18c4c4" stroke-width="1.45" fill="none" stroke-linejoin="round"/>
<path d="M27 351.3 L27.2 351.3 L27.5 351.3 L27.8 351.3 L28 351.3 L28.2 351.2 L28.5 351.2 L28.8 351.2 L29 351.2 L29.2 351.2 L29.5 351.2 L29.8 351.2 L30 351.1 L30.2 351.1 L30.5 351.1 L30.8 351.1 L31 351.1 L31.2 351.1 L31.5 351 L31.8 351 L32 351 L32.2 351 L32.5 351 L32.8 351 L33 350.9 L33.2 350.9 L33.5 350.9 L33.8 350.9 L34 350.9 L34.2 350.9 L34.5 350.8 L34.8 350.8 L35 350.8 L35.2 350.8 L35.5 350.8 L35.8 350.8 L36 350.7 L36.2 350.7 L36.5 350.7 L36.8 350.7 L37 350.7 L37.2 350.6 L37.5 350.6 L37.8 350.6 L38 350.6 L38.2 350.6 L38.5 350.5 L38.8 350.5 L39 350.5 L39.2 350.5 L39.5 350.5 L39.8 350.4 L40 350.4 L40.2 350.4 L40.5 350.4 L40.8 350.3 L41 350.3 L41.2 350.3 L41.5 350.3 L41.8 350.3 L42 350.2 L42.2 350.2 L42.5 350.2 L42.8 350.2 L43 350.1 L43.2 350.1 L43.5 350.1 L43.8 350.1 L44 350 L44.2 350 L44.5 350 L44.8 350 L45 349.9 L45.2 349.9 L45.5 349.9 L45.8 349.8 L46 349.8 L46.2 349.8 L46.5 349.8 L46.8 349.7 L47 349.7 L47.2 349.7 L47.5 349.6 L47.8 349.6 L48 349.6 L48.2 349.5 L48.5 349.5 L48.8 349.5 L49 349.4 L49.2 349.4 L49.5 349.4 L49.8 349.3 L50 349.3 L50.2 349.2 L50.5 349.2 L50.8 349.2 L51 349.1 L51.2 349.1 L51.5 349 L51.8 349 L52 348.9 L52.2 348.9 L52.5 348.8 L52.8 348.8 L53 348.7 L53.2 348.7 L53.5 348.6 L53.8 348.5 L54 348.5 L54.2 348.4 L54.5 348.4 L54.8 348.3 L55 348.2 L55.2 348.1 L55.5 348 L55.8 348 L56 347.9 L56.2 347.8 L56.5 347.7 L56.8 347.6 L57 347.5 L57.2 347.4 L57.5 347.2 L57.8 347.1 L58 347 L58.2 346.9 L58.5 346.7 L58.8 346.6 L59 346.4 L59.2 346.2 L59.5 346 L59.8 345.9 L60 345.7 L60.2 345.4 L60.5 345.2 L60.8 345 L61 344.7 L61.2 344.5 L61.5 344.2 L61.8 343.9 L62 343.6 L62.2 343.3 L62.5 342.9 L62.8 342.6 L63 342.2 L63.2 341.8 L63.5 341.3 L63.8 340.9 L64 340.4 L64.2 339.9 L64.5 339.4 L64.8 338.9 L65 338.3 L65.2 337.7 L65.5 337.1 L65.8 336.4 L66 335.7 L66.2 335 L66.5 334.3 L66.8 333.5 L67 332.6 L67.2 331.8 L67.5 330.9 L67.8 330 L68 329 L68.2 328 L68.5 327 L68.8 325.9 L69 324.8 L69.2 323.6 L69.5 322.5 L69.8 321.2 L70 320 L70.2 318.7 L70.5 317.3 L70.8 316 L71 314.5 L71.2 313.1 L71.5 311.6 L71.8 310.1 L72 308.5 L72.2 307 L72.5 305.4 L72.8 303.7 L73 302 L73.2 300.4 L73.5 298.6 L73.8 296.9 L74 295.1 L74.2 293.4 L74.5 291.6 L74.8 289.8 L75 288 L75.2 286.1 L75.5 284.3 L75.8 282.5 L76 280.7 L76.2 278.8 L76.5 277 L76.8 275.2 L77 273.4 L77.2 271.6 L77.5 269.8 L77.8 268.1 L78 266.4 L78.2 264.7 L78.5 263 L78.8 261.4 L79 259.8 L79.2 258.2 L79.5 256.7 L79.8 255.2 L80 253.8 L80.2 252.5 L80.5 251.2 L80.8 249.9 L81 248.8 L81.2 247.7 L81.5 246.6 L81.8 245.7 L82 244.8 L82.2 244 L82.5 243.3 L82.8 242.6 L83 242.1 L83.2 241.6 L83.5 241.2 L83.8 240.9 L84 240.7 L84.2 240.6 L84.5 240.5 L84.8 240.6 L85 240.7 L85.2 241 L85.5 241.3 L85.8 241.6 L86 242.1 L86.2 242.6 L86.5 243.2 L86.8 243.9 L87 244.7 L87.2 245.5 L87.5 246.3 L87.8 247.3 L88 248.2 L88.2 249.3 L88.5 250.3 L88.8 251.5 L89 252.6 L89.2 253.8 L89.5 255 L89.8 256.3 L90 257.6 L90.2 258.9 L90.5 260.2 L90.8 261.6 L91 262.9 L91.2 264.3 L91.5 265.7 L91.8 267.1 L92 268.5 L92.2 269.9 L92.5 271.3 L92.8 272.6 L93 274 L93.2 275.4 L93.5 276.7 L93.8 278.1 L94 279.4 L94.2 280.7 L94.5 282 L94.8 283.3 L95 284.5 L95.2 285.8 L95.5 287 L95.8 288.2 L96 289.3 L96.2 290.5 L96.5 291.6 L96.8 292.7 L97 293.7 L97.2 294.7 L97.5 295.7 L97.8 296.7 L98 297.6 L98.2 298.5 L98.5 299.4 L98.8 300.2 L99 301.1 L99.2 301.8 L99.5 302.6 L99.8 303.3 L100 304 L100.2 304.7 L100.5 305.4 L100.8 306 L101 306.6 L101.2 307.1 L101.5 307.7 L101.8 308.2 L102 308.7 L102.2 309.1 L102.5 309.6 L102.8 310 L103 310.4 L103.2 310.8 L103.5 311.1 L103.8 311.5 L104 311.8 L104.2 312.1 L104.5 312.4 L104.8 312.7 L105 312.9 L105.2 313.1 L105.5 313.4 L105.8 313.6 L106 313.8 L106.2 314 L106.5 314.1 L106.8 314.3 L107 314.4 L107.2 314.6 L107.5 314.7 L107.8 314.8 L108 314.9 L108.2 315 L108.5 315.1 L108.8 315.2 L109 315.3 L109.2 315.4 L109.5 315.4 L109.8 315.5 L110 315.6 L110.2 315.6 L110.5 315.7 L110.8 315.7 L111 315.8 L111.2 315.8 L111.5 315.8 L111.8 315.9 L112 315.9 L112.2 315.9 L112.5 315.9 L112.8 315.9 L113 316 L113.2 316 L113.5 316 L113.8 316 L114 316 L114.2 316 L114.5 316 L114.8 316 L115 316 L115.2 316.1 L115.5 316.1 L115.8 316.1 L116 316.1 L116.2 316.1 L116.5 316.1 L116.8 316.1 L117 316.1 L117.2 316.1 L117.5 316.1 L117.8 316.1 L118 316.1 L118.2 316.1 L118.5 316.1 L118.8 316.1 L119 316.1 L119.2 316.1 L119.5 316 L119.8 316 L120 316 L120.2 316 L120.5 316 L120.8 316 L121 316 L121.2 316 L121.5 316 L121.8 316 L122 316 L122.2 316 L122.5 316 L122.8 316 L123 316 L123.2 316 L123.5 316 L123.8 316 L124 316 L124.2 316 L124.5 316 L124.8 316 L125 316 L125.2 316 L125.5 316 L125.8 316 L126 316 L126.2 316 L126.5 316 L126.8 316 L127 316 L127.2 316 L127.5 315.9 L127.8 315.9 L128 315.9 L128.2 315.9 L128.5 315.9 L128.8 315.9 L129 315.9 L129.2 315.9 L129.5 315.9 L129.8 315.9 L130 315.9 L130.2 315.9 L130.5 315.9 L130.8 315.9 L131 315.9 L131.2 315.9 L131.5 315.9 L131.8 315.9 L132 315.9 L132.2 315.9 L132.5 315.9 L132.8 315.9 L133 315.9 L133.2 315.9 L133.5 315.9 L133.8 315.9 L134 315.9 L134.2 315.9 L134.5 315.9 L134.8 315.8 L135 315.8 L135.2 315.8 L135.5 315.8 L135.8 315.8 L136 315.8 L136.2 315.8 L136.5 315.8 L136.8 315.8 L137 315.8 L137.2 315.8 L137.5 315.8 L137.8 315.8 L138 315.8 L138.2 315.8 L138.5 315.8 L138.8 315.8 L139 315.8 L139.2 315.8 L139.5 315.8 L139.8 315.8 L140 315.8 L140.2 315.7 L140.5 315.7 L140.8 315.7 L141 315.7 L141.2 315.7 L141.5 315.7 L141.8 315.7 L142 315.7 L142.2 315.7 L142.5 315.7 L142.8 315.7 L143 315.7 L143.2 315.7 L143.5 315.7 L143.8 315.7 L144 315.7 L144.2 315.7 L144.5 315.7 L144.8 315.6 L145 315.6 L145.2 315.6 L145.5 315.6 L145.8 315.6 L146 315.6 L146.2 315.6 L146.5 315.6 L146.8 315.6 L147 315.6 L147.2 315.6 L147.5 315.6 L147.8 315.6 L148 315.6 L148.2 315.6 L148.5 315.5 L148.8 315.5 L149 315.5 L149.2 315.5 L149.5 315.5 L149.8 315.5 L150 315.5 L150.2 315.5 L150.5 315.5 L150.8 315.5 L151 315.5 L151.2 315.4 L151.5 315.4 L151.8 315.4 L152 315.4 L152.2 315.4 L152.5 315.4 L152.8 315.4 L153 315.3 L153.2 315.3 L153.5 315.3 L153.8 315.3 L154 315.3 L154.2 315.3 L154.5 315.2 L154.8 315.2 L155 315.2 L155.2 315.2 L155.5 315.1 L155.8 315.1 L156 315.1 L156.2 315.1 L156.5 315 L156.8 315 L157 314.9 L157.2 314.9 L157.5 314.9 L157.8 314.8 L158 314.8 L158.2 314.7 L158.5 314.7 L158.8 314.6 L159 314.6 L159.2 314.5 L159.5 314.4 L159.8 314.3 L160 314.3 L160.2 314.2 L160.5 314.1 L160.8 314 L161 313.9 L161.2 313.8 L161.5 313.7 L161.8 313.6 L162 313.4 L162.2 313.3 L162.5 313.2 L162.8 313 L163 312.9 L163.2 312.7 L163.5 312.5 L163.8 312.3 L164 312.1 L164.2 311.9 L164.5 311.7 L164.8 311.5 L165 311.2 L165.2 311 L165.5 310.7 L165.8 310.5 L166 310.2 L166.2 309.9 L166.5 309.6 L166.8 309.2 L167 308.9 L167.2 308.5 L167.5 308.2 L167.8 307.8 L168 307.4 L168.2 307 L168.5 306.5 L168.8 306.1 L169 305.6 L169.2 305.2 L169.5 304.7 L169.8 304.2 L170 303.7 L170.2 303.1 L170.5 302.6 L170.8 302 L171 301.4 L171.2 300.9 L171.5 300.3 L171.8 299.6 L172 299 L172.2 298.4 L172.5 297.7 L172.8 297 L173 296.4 L173.2 295.7 L173.5 295 L173.8 294.3 L174 293.6 L174.2 292.9 L174.5 292.2 L174.8 291.4 L175 290.7 L175.2 290 L175.5 289.2 L175.8 288.5 L176 287.8 L176.2 287.1 L176.5 286.3 L176.8 285.6 L177 284.9 L177.2 284.2 L177.5 283.5 L177.8 282.8 L178 282.1 L178.2 281.5 L178.5 280.8 L178.8 280.2 L179 279.6 L179.2 279 L179.5 278.4 L179.8 277.9 L180 277.3 L180.2 276.8 L180.5 276.3 L180.8 275.8 L181 275.4 L181.2 275 L181.5 274.6 L181.8 274.2 L182 273.9 L182.2 273.6 L182.5 273.3 L182.8 273.1 L183 272.8 L183.2 272.6 L183.5 272.5 L183.8 272.4 L184 272.3 L184.2 272.2 L184.5 272.2 L184.8 272.2 L185 272.2 L185.2 272.2 L185.5 272.3 L185.8 272.4 L186 272.6 L186.2 272.8 L186.5 273 L186.8 273.2 L187 273.4 L187.2 273.7 L187.5 274 L187.8 274.3 L188 274.7 L188.2 275 L188.5 275.4 L188.8 275.8 L189 276.2 L189.2 276.6 L189.5 277.1 L189.8 277.5 L190 278 L190.2 278.5 L190.5 279 L190.8 279.5 L191 280 L191.2 280.5 L191.5 281 L191.8 281.6 L192 282.1 L192.2 282.6 L192.5 283.1 L192.8 283.7 L193 284.2 L193.2 284.7 L193.5 285.2 L193.8 285.8 L194 286.3 L194.2 286.8 L194.5 287.3 L194.8 287.8 L195 288.2 L195.2 288.7 L195.5 289.2 L195.8 289.7 L196 290.1 L196.2 290.5 L196.5 291 L196.8 291.4 L197 291.8 L197.2 292.2 L197.5 292.6 L197.8 292.9 L198 293.3 L198.2 293.6 L198.5 294 L198.8 294.3 L199 294.6 L199.2 294.9 L199.5 295.2 L199.8 295.5 L200 295.7 L200.2 296 L200.5 296.2 L200.8 296.5 L201 296.7 L201.2 296.9 L201.5 297.1 L201.8 297.3 L202 297.5 L202.2 297.6 L202.5 297.8 L202.8 297.9 L203 298.1 L203.2 298.2 L203.5 298.4 L203.8 298.5 L204 298.6 L204.2 298.7 L204.5 298.8 L204.8 298.9 L205 299 L205.2 299 L205.5 299.1 L205.8 299.2 L206 299.2 L206.2 299.3 L206.5 299.4 L206.8 299.4 L207 299.4 L207.2 299.5 L207.5 299.5 L207.8 299.6 L208 299.6 L208.2 299.6 L208.5 299.6 L208.8 299.7 L209 299.7 L209.2 299.7 L209.5 299.7 L209.8 299.7 L210 299.7 L210.2 299.7 L210.5 299.8 L210.8 299.8 L211 299.8 L211.2 299.8 L211.5 299.8 L211.8 299.8 L212 299.8 L212.2 299.8 L212.5 299.8 L212.8 299.8 L213 299.8 L213.2 299.8 L213.5 299.7 L213.8 299.7 L214 299.7 L214.2 299.7 L214.5 299.7 L214.8 299.7 L215 299.7 L215.2 299.7 L215.5 299.7 L215.8 299.7 L216 299.7 L216.2 299.7 L216.5 299.7 L216.8 299.6 L217 299.6 L217.2 299.6 L217.5 299.6 L217.8 299.6 L218 299.6 L218.2 299.6 L218.5 299.6 L218.8 299.6 L219 299.6 L219.2 299.6 L219.5 299.5 L219.8 299.5 L220 299.5 L220.2 299.5 L220.5 299.5 L220.8 299.5 L221 299.5 L221.2 299.5 L221.5 299.5 L221.8 299.5 L222 299.4 L222.2 299.4 L222.5 299.4 L222.8 299.4 L223 299.4 L223.2 299.4 L223.5 299.4 L223.8 299.4 L224 299.4 L224.2 299.4 L224.5 299.3 L224.8 299.3 L225 299.3 L225.2 299.3 L225.5 299.3 L225.8 299.3 L226 299.3 L226.2 299.3 L226.5 299.3 L226.8 299.3 L227 299.2 L227.2 299.2 L227.5 299.2 L227.8 299.2 L228 299.2 L228.2 299.2 L228.5 299.2 L228.8 299.2 L229 299.2 L229.2 299.1 L229.5 299.1 L229.8 299.1 L230 299.1 L230.2 299.1 L230.5 299.1 L230.8 299.1 L231 299 L231.2 299 L231.5 299 L231.8 299 L232 299 L232.2 299 L232.5 299 L232.8 298.9 L233 298.9 L233.2 298.9 L233.5 298.9 L233.8 298.9 L234 298.8 L234.2 298.8 L234.5 298.8 L234.8 298.8 L235 298.8 L235.2 298.7 L235.5 298.7 L235.8 298.7 L236 298.7 L236.2 298.6 L236.5 298.6 L236.8 298.6 L237 298.6 L237.2 298.5 L237.5 298.5 L237.8 298.5 L238 298.4 L238.2 298.4 L238.5 298.4 L238.8 298.3 L239 298.3 L239.2 298.3 L239.5 298.2 L239.8 298.2 L240 298.2 L240.2 298.1 L240.5 298.1 L240.8 298 L241 298 L241.2 298 L241.5 297.9 L241.8 297.9 L242 297.8 L242.2 297.8 L242.5 297.7 L242.8 297.7 L243 297.6 L243.2 297.6 L243.5 297.5 L243.8 297.5 L244 297.4 L244.2 297.4 L244.5 297.3 L244.8 297.3 L245 297.2 L245.2 297.1 L245.5 297.1 L245.8 297 L246 297 L246.2 296.9 L246.5 296.9 L246.8 296.8 L247 296.7 L247.2 296.7 L247.5 296.6 L247.8 296.6 L248 296.5 L248.2 296.4 L248.5 296.4 L248.8 296.3 L249 296.2 L249.2 296.2 L249.5 296.1 L249.8 296 L250 296 L250.2 295.9 L250.5 295.8 L250.8 295.8 L251 295.7 L251.2 295.6 L251.5 295.6 L251.8 295.5 L252 295.4 L252.2 295.4 L252.5 295.3 L252.8 295.2 L253 295.2 L253.2 295.1 L253.5 295 L253.8 295 L254 294.9 L254.2 294.8 L254.5 294.8 L254.8 294.7 L255 294.6 L255.2 294.6 L255.5 294.5 L255.8 294.4 L256 294.4 L256.2 294.3 L256.5 294.2 L256.8 294.2 L257 294.1 L257.2 294 L257.5 293.9 L257.8 293.9 L258 293.8 L258.2 293.7 L258.5 293.7 L258.8 293.6" stroke="#1414f0" stroke-width="1.45" fill="none" stroke-linejoin="round"/>
<path d="M27.5 349.3 L29.2 351.4 L31 349.9 L32.8 350.9 L34.5 350.7 L36.2 351.3 L38 350.6 L39.8 350.6 L41.5 349.2 L43.2 348.4 L45 348.1 L46.8 348 L48.5 346.9 L50.2 347.1 L52 347 L53.8 346.6 L55.5 345 L57.2 342.1 L59 341.6 L60.8 338.1 L62.5 332.6 L64.2 322.1 L66 306.3 L67.8 287 L69.5 267 L71.2 243.5 L73 226.6 L74.8 216.1 L76.5 209.4 L78.2 210.3 L80 211.8 L81.8 213.7 L83.5 215.7 L85.2 218.4 L87 223.1 L88.8 228 L90.5 237.4 L92.2 245.7 L94 255.5 L95.8 263.4 L97.5 272.1 L99.2 278.9 L101 283.9 L102.8 288.5 L104.5 292.1 L106.2 294.8 L108 297.8 L109.8 299.9 L111.5 302.9 L113.2 304.4 L115 306.7 L116.8 306.3 L118.5 309.9 L120.2 309.4 L122 310.5 L123.8 311.8 L125.5 312.2 L127.2 313.6 L129 313.1 L130.8 312.9 L132.5 313.4 L134.2 315.7 L136 314.5 L137.8 313.3 L139.5 314.5 L141.2 312.9 L143 316.1 L144.8 312.6 L146.5 314.4 L148.2 314.1 L150 311.7 L151.8 312.9 L153.5 312.8 L155.2 311.3 L157 309.8 L158.8 308.8 L160.5 305.9 L162.2 303.3 L164 299.5 L165.8 296.2 L167.5 289.8 L169.2 285.9 L171 278.4 L172.8 271.2 L174.5 265.8 L176.2 260.6 L178 254 L179.8 247.8 L181.5 245.9 L183.2 243.2 L185 243.8 L186.8 245.7 L188.5 246.8 L190.2 252.6 L192 255.7 L193.8 260.9 L195.5 265.4 L197.2 270.7 L199 276.5 L200.8 283 L202.5 287.8 L204.2 289.2 L206 292.7 L207.8 293.2 L209.5 293 L211.2 295.9 L213 296.9 L214.8 296.5 L216.5 297.6 L218.2 298.1 L220 296.9 L221.8 296.4 L223.5 297.8 L225.2 297.9 L227 297.8 L228.8 299.1 L230.5 299.9 L232.2 297.7 L234 298.8 L235.8 298.9 L237.5 298.5 L239.2 298.7 L241 297 L242.8 297.9 L244.5 298.6 L246.2 297.2 L248 295.4 L249.8 296.2 L251.5 296.4 L253.2 295.1 L255 293.7 L256.8 295.3" stroke="#241818" stroke-width="1.0" fill="none" opacity="0.85"/>
<path d="M27.5 349.5 L29.2 351.3 L31 350 L32.8 350.8 L34.5 350.6 L36.2 351.1 L38 350.5 L39.8 350.4 L41.5 349.3 L43.2 348.5 L45 348.3 L46.8 348.2 L48.5 347.7 L50.2 347.5 L52 347.1 L53.8 346.3 L55.5 345.4 L57.2 343.9 L59 341.7 L60.8 337.9 L62.5 331.6 L64.2 321.6 L66 307 L67.8 287.7 L69.5 265.2 L71.2 242.7 L73 224.8 L74.8 214.3 L76.5 210.2 L78.2 210 L80 211.4 L81.8 213.1 L83.5 215.2 L85.2 218.2 L87 223 L88.8 229.5 L90.5 237.6 L92.2 246.4 L94 255.4 L95.8 263.9 L97.5 271.5 L99.2 278.1 L101 283.6 L102.8 288.2 L104.5 292 L106.2 295.2 L108 298 L109.8 300.4 L111.5 302.5 L113.2 304.4 L115 306.1 L116.8 307.7 L118.5 309 L120.2 310.2 L122 311.2 L123.8 312 L125.5 312.7 L127.2 313.3 L129 313.7 L130.8 314 L132.5 314.2 L134.2 314.4 L136 314.5 L137.8 314.5 L139.5 314.5 L141.2 314.4 L143 314.3 L144.8 314.2 L146.5 313.9 L148.2 313.6 L150 313.2 L151.8 312.6 L153.5 311.8 L155.2 310.8 L157 309.5 L158.8 307.9 L160.5 305.7 L162.2 303 L164 299.6 L165.8 295.6 L167.5 290.7 L169.2 285.2 L171 278.9 L172.8 272.3 L174.5 265.5 L176.2 258.9 L178 253.1 L179.8 248.4 L181.5 245.2 L183.2 243.7 L185 243.9 L186.8 245.6 L188.5 248.6 L190.2 252.4 L192 256.8 L193.8 261.6 L195.5 266.8 L197.2 272.2 L199 277.5 L200.8 282.2 L202.5 286.1 L204.2 289.2 L206 291.6 L207.8 293.4 L209.5 294.8 L211.2 295.7 L213 296.4 L214.8 296.9 L216.5 297.3 L218.2 297.7 L220 297.4 L221.8 297 L223.5 297.8 L225.2 297.9 L227 297.8 L228.8 299 L230.5 299.6 L232.2 297.8 L234 298.7 L235.8 298.8 L237.5 298.4 L239.2 298.5 L241 297.1 L242.8 297.8 L244.5 298.3 L246.2 297.1 L248 295.5 L249.8 296.1 L251.5 296.2 L253.2 295 L255 293.8 L256.8 295.1" stroke="#f01010" stroke-width="1.6" fill="none" stroke-linejoin="round"/>
<path d="M25.8 349.3a1.75 1.75 0 1 0 3.5 0a1.75 1.75 0 1 0 -3.5 0M27.5 351.4a1.75 1.75 0 1 0 3.5 0a1.75 1.75 0 1 0 -3.5 0M29.2 349.9a1.75 1.75 0 1 0 3.5 0a1.75 1.75 0 1 0 -3.5 0M31 350.9a1.75 1.75 0 1 0 3.5 0a1.75 1.75 0 1 0 -3.5 0M32.8 350.7a1.75 1.75 0 1 0 3.5 0a1.75 1.75 0 1 0 -3.5 0M34.5 351.3a1.75 1.75 0 1 0 3.5 0a1.75 1.75 0 1 0 -3.5 0M36.2 350.6a1.75 1.75 0 1 0 3.5 0a1.75 1.75 0 1 0 -3.5 0M38 350.6a1.75 1.75 0 1 0 3.5 0a1.75 1.75 0 1 0 -3.5 0M39.8 349.2a1.75 1.75 0 1 0 3.5 0a1.75 1.75 0 1 0 -3.5 0M41.5 348.4a1.75 1.75 0 1 0 3.5 0a1.75 1.75 0 1 0 -3.5 0M43.2 348.1a1.75 1.75 0 1 0 3.5 0a1.75 1.75 0 1 0 -3.5 0M45 348a1.75 1.75 0 1 0 3.5 0a1.75 1.75 0 1 0 -3.5 0M46.8 346.9a1.75 1.75 0 1 0 3.5 0a1.75 1.75 0 1 0 -3.5 0M48.5 347.1a1.75 1.75 0 1 0 3.5 0a1.75 1.75 0 1 0 -3.5 0M50.2 347a1.75 1.75 0 1 0 3.5 0a1.75 1.75 0 1 0 -3.5 0M52 346.6a1.75 1.75 0 1 0 3.5 0a1.75 1.75 0 1 0 -3.5 0M53.8 345a1.75 1.75 0 1 0 3.5 0a1.75 1.75 0 1 0 -3.5 0M55.5 342.1a1.75 1.75 0 1 0 3.5 0a1.75 1.75 0 1 0 -3.5 0M57.2 341.6a1.75 1.75 0 1 0 3.5 0a1.75 1.75 0 1 0 -3.5 0M59 338.1a1.75 1.75 0 1 0 3.5 0a1.75 1.75 0 1 0 -3.5 0M60.8 332.6a1.75 1.75 0 1 0 3.5 0a1.75 1.75 0 1 0 -3.5 0M62.5 322.1a1.75 1.75 0 1 0 3.5 0a1.75 1.75 0 1 0 -3.5 0M64.2 306.3a1.75 1.75 0 1 0 3.5 0a1.75 1.75 0 1 0 -3.5 0M66 287a1.75 1.75 0 1 0 3.5 0a1.75 1.75 0 1 0 -3.5 0M67.8 267a1.75 1.75 0 1 0 3.5 0a1.75 1.75 0 1 0 -3.5 0M69.5 243.5a1.75 1.75 0 1 0 3.5 0a1.75 1.75 0 1 0 -3.5 0M71.2 226.6a1.75 1.75 0 1 0 3.5 0a1.75 1.75 0 1 0 -3.5 0M73 216.1a1.75 1.75 0 1 0 3.5 0a1.75 1.75 0 1 0 -3.5 0M74.8 209.4a1.75 1.75 0 1 0 3.5 0a1.75 1.75 0 1 0 -3.5 0M76.5 210.3a1.75 1.75 0 1 0 3.5 0a1.75 1.75 0 1 0 -3.5 0M78.2 211.8a1.75 1.75 0 1 0 3.5 0a1.75 1.75 0 1 0 -3.5 0M80 213.7a1.75 1.75 0 1 0 3.5 0a1.75 1.75 0 1 0 -3.5 0M81.8 215.7a1.75 1.75 0 1 0 3.5 0a1.75 1.75 0 1 0 -3.5 0M83.5 218.4a1.75 1.75 0 1 0 3.5 0a1.75 1.75 0 1 0 -3.5 0M85.2 223.1a1.75 1.75 0 1 0 3.5 0a1.75 1.75 0 1 0 -3.5 0M87 228a1.75 1.75 0 1 0 3.5 0a1.75 1.75 0 1 0 -3.5 0M88.8 237.4a1.75 1.75 0 1 0 3.5 0a1.75 1.75 0 1 0 -3.5 0M90.5 245.7a1.75 1.75 0 1 0 3.5 0a1.75 1.75 0 1 0 -3.5 0M92.2 255.5a1.75 1.75 0 1 0 3.5 0a1.75 1.75 0 1 0 -3.5 0M94 263.4a1.75 1.75 0 1 0 3.5 0a1.75 1.75 0 1 0 -3.5 0M95.8 272.1a1.75 1.75 0 1 0 3.5 0a1.75 1.75 0 1 0 -3.5 0M97.5 278.9a1.75 1.75 0 1 0 3.5 0a1.75 1.75 0 1 0 -3.5 0M99.2 283.9a1.75 1.75 0 1 0 3.5 0a1.75 1.75 0 1 0 -3.5 0M101 288.5a1.75 1.75 0 1 0 3.5 0a1.75 1.75 0 1 0 -3.5 0M102.8 292.1a1.75 1.75 0 1 0 3.5 0a1.75 1.75 0 1 0 -3.5 0M104.5 294.8a1.75 1.75 0 1 0 3.5 0a1.75 1.75 0 1 0 -3.5 0M106.2 297.8a1.75 1.75 0 1 0 3.5 0a1.75 1.75 0 1 0 -3.5 0M108 299.9a1.75 1.75 0 1 0 3.5 0a1.75 1.75 0 1 0 -3.5 0M109.8 302.9a1.75 1.75 0 1 0 3.5 0a1.75 1.75 0 1 0 -3.5 0M111.5 304.4a1.75 1.75 0 1 0 3.5 0a1.75 1.75 0 1 0 -3.5 0M113.2 306.7a1.75 1.75 0 1 0 3.5 0a1.75 1.75 0 1 0 -3.5 0M115 306.3a1.75 1.75 0 1 0 3.5 0a1.75 1.75 0 1 0 -3.5 0M116.8 309.9a1.75 1.75 0 1 0 3.5 0a1.75 1.75 0 1 0 -3.5 0M118.5 309.4a1.75 1.75 0 1 0 3.5 0a1.75 1.75 0 1 0 -3.5 0M120.2 310.5a1.75 1.75 0 1 0 3.5 0a1.75 1.75 0 1 0 -3.5 0M122 311.8a1.75 1.75 0 1 0 3.5 0a1.75 1.75 0 1 0 -3.5 0M123.8 312.2a1.75 1.75 0 1 0 3.5 0a1.75 1.75 0 1 0 -3.5 0M125.5 313.6a1.75 1.75 0 1 0 3.5 0a1.75 1.75 0 1 0 -3.5 0M127.2 313.1a1.75 1.75 0 1 0 3.5 0a1.75 1.75 0 1 0 -3.5 0M129 312.9a1.75 1.75 0 1 0 3.5 0a1.75 1.75 0 1 0 -3.5 0M130.8 313.4a1.75 1.75 0 1 0 3.5 0a1.75 1.75 0 1 0 -3.5 0M132.5 315.7a1.75 1.75 0 1 0 3.5 0a1.75 1.75 0 1 0 -3.5 0M134.2 314.5a1.75 1.75 0 1 0 3.5 0a1.75 1.75 0 1 0 -3.5 0M136 313.3a1.75 1.75 0 1 0 3.5 0a1.75 1.75 0 1 0 -3.5 0M137.8 314.5a1.75 1.75 0 1 0 3.5 0a1.75 1.75 0 1 0 -3.5 0M139.5 312.9a1.75 1.75 0 1 0 3.5 0a1.75 1.75 0 1 0 -3.5 0M141.2 316.1a1.75 1.75 0 1 0 3.5 0a1.75 1.75 0 1 0 -3.5 0M143 312.6a1.75 1.75 0 1 0 3.5 0a1.75 1.75 0 1 0 -3.5 0M144.8 314.4a1.75 1.75 0 1 0 3.5 0a1.75 1.75 0 1 0 -3.5 0M146.5 314.1a1.75 1.75 0 1 0 3.5 0a1.75 1.75 0 1 0 -3.5 0M148.2 311.7a1.75 1.75 0 1 0 3.5 0a1.75 1.75 0 1 0 -3.5 0M150 312.9a1.75 1.75 0 1 0 3.5 0a1.75 1.75 0 1 0 -3.5 0M151.8 312.8a1.75 1.75 0 1 0 3.5 0a1.75 1.75 0 1 0 -3.5 0M153.5 311.3a1.75 1.75 0 1 0 3.5 0a1.75 1.75 0 1 0 -3.5 0M155.2 309.8a1.75 1.75 0 1 0 3.5 0a1.75 1.75 0 1 0 -3.5 0M157 308.8a1.75 1.75 0 1 0 3.5 0a1.75 1.75 0 1 0 -3.5 0M158.8 305.9a1.75 1.75 0 1 0 3.5 0a1.75 1.75 0 1 0 -3.5 0M160.5 303.3a1.75 1.75 0 1 0 3.5 0a1.75 1.75 0 1 0 -3.5 0M162.2 299.5a1.75 1.75 0 1 0 3.5 0a1.75 1.75 0 1 0 -3.5 0M164 296.2a1.75 1.75 0 1 0 3.5 0a1.75 1.75 0 1 0 -3.5 0M165.8 289.8a1.75 1.75 0 1 0 3.5 0a1.75 1.75 0 1 0 -3.5 0M167.5 285.9a1.75 1.75 0 1 0 3.5 0a1.75 1.75 0 1 0 -3.5 0M169.2 278.4a1.75 1.75 0 1 0 3.5 0a1.75 1.75 0 1 0 -3.5 0M171 271.2a1.75 1.75 0 1 0 3.5 0a1.75 1.75 0 1 0 -3.5 0M172.8 265.8a1.75 1.75 0 1 0 3.5 0a1.75 1.75 0 1 0 -3.5 0M174.5 260.6a1.75 1.75 0 1 0 3.5 0a1.75 1.75 0 1 0 -3.5 0M176.2 254a1.75 1.75 0 1 0 3.5 0a1.75 1.75 0 1 0 -3.5 0M178 247.8a1.75 1.75 0 1 0 3.5 0a1.75 1.75 0 1 0 -3.5 0M179.8 245.9a1.75 1.75 0 1 0 3.5 0a1.75 1.75 0 1 0 -3.5 0M181.5 243.2a1.75 1.75 0 1 0 3.5 0a1.75 1.75 0 1 0 -3.5 0M183.2 243.8a1.75 1.75 0 1 0 3.5 0a1.75 1.75 0 1 0 -3.5 0M185 245.7a1.75 1.75 0 1 0 3.5 0a1.75 1.75 0 1 0 -3.5 0M186.8 246.8a1.75 1.75 0 1 0 3.5 0a1.75 1.75 0 1 0 -3.5 0M188.5 252.6a1.75 1.75 0 1 0 3.5 0a1.75 1.75 0 1 0 -3.5 0M190.2 255.7a1.75 1.75 0 1 0 3.5 0a1.75 1.75 0 1 0 -3.5 0M192 260.9a1.75 1.75 0 1 0 3.5 0a1.75 1.75 0 1 0 -3.5 0M193.8 265.4a1.75 1.75 0 1 0 3.5 0a1.75 1.75 0 1 0 -3.5 0M195.5 270.7a1.75 1.75 0 1 0 3.5 0a1.75 1.75 0 1 0 -3.5 0M197.2 276.5a1.75 1.75 0 1 0 3.5 0a1.75 1.75 0 1 0 -3.5 0M199 283a1.75 1.75 0 1 0 3.5 0a1.75 1.75 0 1 0 -3.5 0M200.8 287.8a1.75 1.75 0 1 0 3.5 0a1.75 1.75 0 1 0 -3.5 0M202.5 289.2a1.75 1.75 0 1 0 3.5 0a1.75 1.75 0 1 0 -3.5 0M204.2 292.7a1.75 1.75 0 1 0 3.5 0a1.75 1.75 0 1 0 -3.5 0M206 293.2a1.75 1.75 0 1 0 3.5 0a1.75 1.75 0 1 0 -3.5 0M207.8 293a1.75 1.75 0 1 0 3.5 0a1.75 1.75 0 1 0 -3.5 0M209.5 295.9a1.75 1.75 0 1 0 3.5 0a1.75 1.75 0 1 0 -3.5 0M211.2 296.9a1.75 1.75 0 1 0 3.5 0a1.75 1.75 0 1 0 -3.5 0M213 296.5a1.75 1.75 0 1 0 3.5 0a1.75 1.75 0 1 0 -3.5 0M214.8 297.6a1.75 1.75 0 1 0 3.5 0a1.75 1.75 0 1 0 -3.5 0M216.5 298.1a1.75 1.75 0 1 0 3.5 0a1.75 1.75 0 1 0 -3.5 0M218.2 296.9a1.75 1.75 0 1 0 3.5 0a1.75 1.75 0 1 0 -3.5 0M220 296.4a1.75 1.75 0 1 0 3.5 0a1.75 1.75 0 1 0 -3.5 0M221.8 297.8a1.75 1.75 0 1 0 3.5 0a1.75 1.75 0 1 0 -3.5 0M223.5 297.9a1.75 1.75 0 1 0 3.5 0a1.75 1.75 0 1 0 -3.5 0M225.2 297.8a1.75 1.75 0 1 0 3.5 0a1.75 1.75 0 1 0 -3.5 0M227 299.1a1.75 1.75 0 1 0 3.5 0a1.75 1.75 0 1 0 -3.5 0M228.8 299.9a1.75 1.75 0 1 0 3.5 0a1.75 1.75 0 1 0 -3.5 0M230.5 297.7a1.75 1.75 0 1 0 3.5 0a1.75 1.75 0 1 0 -3.5 0M232.2 298.8a1.75 1.75 0 1 0 3.5 0a1.75 1.75 0 1 0 -3.5 0M234 298.9a1.75 1.75 0 1 0 3.5 0a1.75 1.75 0 1 0 -3.5 0M235.8 298.5a1.75 1.75 0 1 0 3.5 0a1.75 1.75 0 1 0 -3.5 0M237.5 298.7a1.75 1.75 0 1 0 3.5 0a1.75 1.75 0 1 0 -3.5 0M239.2 297a1.75 1.75 0 1 0 3.5 0a1.75 1.75 0 1 0 -3.5 0M241 297.9a1.75 1.75 0 1 0 3.5 0a1.75 1.75 0 1 0 -3.5 0M242.8 298.6a1.75 1.75 0 1 0 3.5 0a1.75 1.75 0 1 0 -3.5 0M244.5 297.2a1.75 1.75 0 1 0 3.5 0a1.75 1.75 0 1 0 -3.5 0M246.2 295.4a1.75 1.75 0 1 0 3.5 0a1.75 1.75 0 1 0 -3.5 0M248 296.2a1.75 1.75 0 1 0 3.5 0a1.75 1.75 0 1 0 -3.5 0M249.8 296.4a1.75 1.75 0 1 0 3.5 0a1.75 1.75 0 1 0 -3.5 0M251.5 295.1a1.75 1.75 0 1 0 3.5 0a1.75 1.75 0 1 0 -3.5 0M253.2 293.7a1.75 1.75 0 1 0 3.5 0a1.75 1.75 0 1 0 -3.5 0M255 295.3a1.75 1.75 0 1 0 3.5 0a1.75 1.75 0 1 0 -3.5 0" stroke="#454545" stroke-width="0.75" fill="none"/>
<path d="M27.5 349.5 L29.2 351.3 L31 350 L32.8 350.8 L34.5 350.6 L36.2 351.1 L38 350.5 L39.8 350.4 L41.5 349.3 L43.2 348.5 L45 348.6 L46.8 349.1 L48.5 349.3 L50.2 350.1 L52 350.8 L53.8 350.7 L55.5 350.6 L57.2 350.5 L59 350.3 L60.8 350.1 L62.5 349.8 L64.2 349.5 L66 348.9 L67.8 348.1 L69.5 347 L71.2 345.6 L73 343.9 L74.8 342.1 L76.5 340.3 L78.2 338.4 L80 336.6 L81.8 334.9 L83.5 333.1 L85.2 331.4 L87 329.7 L88.8 328.1 L90.5 326.7 L92.2 325.4 L94 324.3 L95.8 323.3 L97.5 322.4 L99.2 321.7 L101 321 L102.8 320.5 L104.5 320 L106.2 319.6 L108 319.2 L109.8 318.8 L111.5 318.5 L113.2 318.3 L115 318 L116.8 317.8 L118.5 317.6 L120.2 317.5 L122 317.3 L123.8 317.2 L125.5 317.1 L127.2 317 L129 316.9 L130.8 316.8 L132.5 316.7 L134.2 316.6 L136 316.6 L137.8 316.5 L139.5 316.4 L141.2 316.3 L143 316.3 L144.8 316.2 L146.5 316.1 L148.2 316.1 L150 316 L151.8 315.9 L153.5 315.8 L155.2 315.7 L157 315.6 L158.8 315.5 L160.5 315.3 L162.2 315.2 L164 314.9 L165.8 314.7 L167.5 314.4 L169.2 314 L171 313.5 L172.8 312.9 L174.5 312.3 L176.2 311.5 L178 310.7 L179.8 309.8 L181.5 308.9 L183.2 307.9 L185 307 L186.8 306.1 L188.5 305.2 L190.2 304.4 L192 303.7 L193.8 303 L195.5 302.4 L197.2 301.9 L199 301.5 L200.8 301.2 L202.5 300.9 L204.2 300.7 L206 300.5 L207.8 300.3 L209.5 300.2 L211.2 300.1 L213 300 L214.8 299.9 L216.5 299.7 L218.2 299.3 L220 298.3 L221.8 297.5 L223.5 297.9 L225.2 297.9 L227 297.8 L228.8 299 L230.5 299.6 L232.2 297.8 L234 298.7 L235.8 298.8 L237.5 298.4 L239.2 298.5 L241 297.1 L242.8 297.8 L244.5 298.3 L246.2 297.1 L248 295.5 L249.8 296.1 L251.5 296.2 L253.2 295 L255 293.8 L256.8 295.1" stroke="#f0a21e" stroke-width="1.6" fill="none" stroke-linejoin="round"/>
<path d="M72.9 203.8V356.6" stroke="#52cac2" stroke-width="1.3" stroke-dasharray="1.9 1.3"/>
<path d="M84 203.8V356.6" stroke="#3434ee" stroke-width="1.3" stroke-dasharray="1.9 1.3"/>
<path d="M97.6 203.8V356.6" stroke="#c83ce8" stroke-width="1.3" stroke-dasharray="1.9 1.3"/>
<path d="M178.8 203.8V356.6" stroke="#52cac2" stroke-width="1.3" stroke-dasharray="1.9 1.3"/>
<path d="M184.5 203.8V356.6" stroke="#3434ee" stroke-width="1.3" stroke-dasharray="1.9 1.3"/>
<path d="M195.5 203.8V356.6" stroke="#c83ce8" stroke-width="1.3" stroke-dasharray="1.9 1.3"/>
<text x="116.9" y="247.8" font-size="11.0" text-anchor="start" stroke="#1a1a1a" stroke-width="0.3" >Mn-B</text>
<path d="M114.5 243.4L96.3 243.4" stroke="#000" stroke-width="1.45"/>
<path d="M92.6 243.4L96.8 241.1L96.8 245.7Z" fill="#000"/>
<text x="28.6" y="270.7" font-size="11.0" text-anchor="start" stroke="#1a1a1a" stroke-width="0.3" >Mn-Mn</text>
<path d="M49 276.1L63.9 279" stroke="#000" stroke-width="1.45"/>
<path d="M67.5 279.7L62.9 281.2L63.8 276.6Z" fill="#000"/>
<text x="115.8" y="270.7" font-size="11.0" text-anchor="start" stroke="#1a1a1a" stroke-width="0.3" >Mn-O</text>
<path d="M124.1 275.6L112.6 292.8" stroke="#000" stroke-width="1.45"/>
<path d="M110.6 295.9L111 291.1L114.8 293.7Z" fill="#000"/>
<text x="167.1" y="281.3" font-size="11.0" text-anchor="end" stroke="#1a1a1a" stroke-width="0.3" >Mn-Mn</text>
<path d="M152.5 283.8L161.7 288.3" stroke="#000" stroke-width="1.45"/>
<path d="M165 290L160.2 290.2L162.3 286.1Z" fill="#000"/>
<text x="226.7" y="261.3" font-size="11.0" text-anchor="start" stroke="#1a1a1a" stroke-width="0.3" >Mn-B</text>
<path d="M225 258L203 266.2" stroke="#000" stroke-width="1.45"/>
<path d="M199.5 267.5L202.6 263.9L204.2 268.2Z" fill="#000"/>
<text x="231.2" y="286.3" font-size="11.0" text-anchor="start" stroke="#1a1a1a" stroke-width="0.3" >Mn-O</text>
<path d="M228.8 283.2L209.9 283.2" stroke="#000" stroke-width="1.45"/>
<path d="M206.2 283.2L210.4 280.9L210.4 285.6Z" fill="#000"/>
<rect x="310.6" y="8.5" width="232.3" height="150.2" fill="none" stroke="#787878" stroke-width="1"/>
<path d="M313.4 158.8v3.8M313.4 8.5v-3.8M316.9 158.8v1.7M316.9 8.5v-1.7M320.4 158.8v1.7M320.4 8.5v-1.7M323.9 158.8v1.7M323.9 8.5v-1.7M327.4 158.8v1.7M327.4 8.5v-1.7M330.9 158.8v1.7M330.9 8.5v-1.7M334.3 158.8v1.7M334.3 8.5v-1.7M337.8 158.8v1.7M337.8 8.5v-1.7M341.3 158.8v1.7M341.3 8.5v-1.7M344.8 158.8v1.7M344.8 8.5v-1.7M348.3 158.8v3.8M348.3 8.5v-3.8M351.8 158.8v1.7M351.8 8.5v-1.7M355.3 158.8v1.7M355.3 8.5v-1.7M358.8 158.8v1.7M358.8 8.5v-1.7M362.3 158.8v1.7M362.3 8.5v-1.7M365.8 158.8v1.7M365.8 8.5v-1.7M369.3 158.8v1.7M369.3 8.5v-1.7M372.8 158.8v1.7M372.8 8.5v-1.7M376.2 158.8v1.7M376.2 8.5v-1.7M379.7 158.8v1.7M379.7 8.5v-1.7M383.2 158.8v3.8M383.2 8.5v-3.8M386.7 158.8v1.7M386.7 8.5v-1.7M390.2 158.8v1.7M390.2 8.5v-1.7M393.7 158.8v1.7M393.7 8.5v-1.7M397.2 158.8v1.7M397.2 8.5v-1.7M400.7 158.8v1.7M400.7 8.5v-1.7M404.2 158.8v1.7M404.2 8.5v-1.7M407.7 158.8v1.7M407.7 8.5v-1.7M411.2 158.8v1.7M411.2 8.5v-1.7M414.7 158.8v1.7M414.7 8.5v-1.7M418.1 158.8v3.8M418.1 8.5v-3.8M421.6 158.8v1.7M421.6 8.5v-1.7M425.1 158.8v1.7M425.1 8.5v-1.7M428.6 158.8v1.7M428.6 8.5v-1.7M432.1 158.8v1.7M432.1 8.5v-1.7M435.6 158.8v1.7M435.6 8.5v-1.7M439.1 158.8v1.7M439.1 8.5v-1.7M442.6 158.8v1.7M442.6 8.5v-1.7M446.1 158.8v1.7M446.1 8.5v-1.7M449.6 158.8v1.7M449.6 8.5v-1.7M453.1 158.8v3.8M453.1 8.5v-3.8M456.6 158.8v1.7M456.6 8.5v-1.7M460 158.8v1.7M460 8.5v-1.7M463.5 158.8v1.7M463.5 8.5v-1.7M467 158.8v1.7M467 8.5v-1.7M470.5 158.8v1.7M470.5 8.5v-1.7M474 158.8v1.7M474 8.5v-1.7M477.5 158.8v1.7M477.5 8.5v-1.7M481 158.8v1.7M481 8.5v-1.7M484.5 158.8v1.7M484.5 8.5v-1.7M488 158.8v3.8M488 8.5v-3.8M491.5 158.8v1.7M491.5 8.5v-1.7M495 158.8v1.7M495 8.5v-1.7M498.5 158.8v1.7M498.5 8.5v-1.7M501.9 158.8v1.7M501.9 8.5v-1.7M505.4 158.8v1.7M505.4 8.5v-1.7M508.9 158.8v1.7M508.9 8.5v-1.7M512.4 158.8v1.7M512.4 8.5v-1.7M515.9 158.8v1.7M515.9 8.5v-1.7M519.4 158.8v1.7M519.4 8.5v-1.7M522.9 158.8v3.8M522.9 8.5v-3.8M526.4 158.8v1.7M526.4 8.5v-1.7M529.9 158.8v1.7M529.9 8.5v-1.7M533.4 158.8v1.7M533.4 8.5v-1.7M536.9 158.8v1.7M536.9 8.5v-1.7M540.4 158.8v1.7M540.4 8.5v-1.7" stroke="#787878" stroke-width="0.9" fill="none"/>
<text x="313.4" y="176.9" font-size="12.2" text-anchor="middle" stroke="#1a1a1a" stroke-width="0.3" >188</text>
<text x="348.3" y="176.9" font-size="12.2" text-anchor="middle" stroke="#1a1a1a" stroke-width="0.3" >190</text>
<text x="383.2" y="176.9" font-size="12.2" text-anchor="middle" stroke="#1a1a1a" stroke-width="0.3" >192</text>
<text x="418.1" y="176.9" font-size="12.2" text-anchor="middle" stroke="#1a1a1a" stroke-width="0.3" >194</text>
<text x="453.1" y="176.9" font-size="12.2" text-anchor="middle" stroke="#1a1a1a" stroke-width="0.3" >196</text>
<text x="488" y="176.9" font-size="12.2" text-anchor="middle" stroke="#1a1a1a" stroke-width="0.3" >198</text>
<text x="522.9" y="176.9" font-size="12.2" text-anchor="middle" stroke="#1a1a1a" stroke-width="0.3" >200</text>
<text x="426.8" y="194.3" font-size="12.9" text-anchor="middle" stroke="#1a1a1a" stroke-width="0.3" >Binding energy (eV)</text>
<text x="0" y="0" font-size="12.9" text-anchor="middle" stroke="#1a1a1a" stroke-width="0.3" transform="translate(296.4 82.3) rotate(-90)">Intensity (a.u.)</text>
<text x="313" y="23" font-size="13.2" text-anchor="start" stroke="#1a1a1a" stroke-width="0.3" >(b)</text>
<text x="534.1" y="23.8" font-size="13.1" text-anchor="end" stroke="#1a1a1a" stroke-width="0.3" >B 1s</text>
<path d="M312 148.9 L312.2 148.9 L312.5 148.9 L312.8 148.9 L313 148.9 L313.2 148.9 L313.5 148.8 L313.8 148.8 L314 148.8 L314.2 148.8 L314.5 148.8 L314.8 148.8 L315 148.8 L315.2 148.8 L315.5 148.8 L315.8 148.8 L316 148.7 L316.2 148.7 L316.5 148.7 L316.8 148.7 L317 148.7 L317.2 148.7 L317.5 148.7 L317.8 148.7 L318 148.7 L318.2 148.6 L318.5 148.6 L318.8 148.6 L319 148.6 L319.2 148.6 L319.5 148.6 L319.8 148.6 L320 148.6 L320.2 148.6 L320.5 148.6 L320.8 148.5 L321 148.5 L321.2 148.5 L321.5 148.5 L321.8 148.5 L322 148.5 L322.2 148.5 L322.5 148.5 L322.8 148.5 L323 148.4 L323.2 148.4 L323.5 148.4 L323.8 148.4 L324 148.4 L324.2 148.4 L324.5 148.4 L324.8 148.4 L325 148.3 L325.2 148.3 L325.5 148.3 L325.8 148.3 L326 148.3 L326.2 148.3 L326.5 148.3 L326.8 148.3 L327 148.2 L327.2 148.2 L327.5 148.2 L327.8 148.2 L328 148.2 L328.2 148.2 L328.5 148.2 L328.8 148.1 L329 148.1 L329.2 148.1 L329.5 148.1 L329.8 148.1 L330 148.1 L330.2 148.1 L330.5 148 L330.8 148 L331 148 L331.2 148 L331.5 148 L331.8 148 L332 147.9 L332.2 147.9 L332.5 147.9 L332.8 147.9 L333 147.9 L333.2 147.8 L333.5 147.8 L333.8 147.8 L334 147.8 L334.2 147.8 L334.5 147.7 L334.8 147.7 L335 147.7 L335.2 147.7 L335.5 147.6 L335.8 147.6 L336 147.6 L336.2 147.6 L336.5 147.5 L336.8 147.5 L337 147.5 L337.2 147.5 L337.5 147.4 L337.8 147.4 L338 147.4 L338.2 147.3 L338.5 147.3 L338.8 147.2 L339 147.2 L339.2 147.2 L339.5 147.1 L339.8 147.1 L340 147 L340.2 147 L340.5 146.9 L340.8 146.9 L341 146.8 L341.2 146.8 L341.5 146.7 L341.8 146.7 L342 146.6 L342.2 146.6 L342.5 146.5 L342.8 146.4 L343 146.4 L343.2 146.3 L343.5 146.2 L343.8 146.1 L344 146.1 L344.2 146 L344.5 145.9 L344.8 145.8 L345 145.7 L345.2 145.6 L345.5 145.5 L345.8 145.4 L346 145.3 L346.2 145.2 L346.5 145.1 L346.8 144.9 L347 144.8 L347.2 144.7 L347.5 144.5 L347.8 144.4 L348 144.2 L348.2 144.1 L348.5 143.9 L348.8 143.8 L349 143.6 L349.2 143.4 L349.5 143.3 L349.8 143.1 L350 142.9 L350.2 142.7 L350.5 142.5 L350.8 142.3 L351 142.1 L351.2 141.8 L351.5 141.6 L351.8 141.4 L352 141.1 L352.2 140.9 L352.5 140.6 L352.8 140.3 L353 140.1 L353.2 139.8 L353.5 139.5 L353.8 139.2 L354 138.9 L354.2 138.6 L354.5 138.2 L354.8 137.9 L355 137.6 L355.2 137.2 L355.5 136.9 L355.8 136.5 L356 136.1 L356.2 135.7 L356.5 135.3 L356.8 135 L357 134.5 L357.2 134.1 L357.5 133.7 L357.8 133.3 L358 132.8 L358.2 132.4 L358.5 131.9 L358.8 131.5 L359 131 L359.2 130.5 L359.5 130 L359.8 129.5 L360 129 L360.2 128.5 L360.5 128 L360.8 127.5 L361 126.9 L361.2 126.4 L361.5 125.9 L361.8 125.3 L362 124.8 L362.2 124.2 L362.5 123.6 L362.8 123.1 L363 122.5 L363.2 121.9 L363.5 121.4 L363.8 120.8 L364 120.2 L364.2 119.6 L364.5 119 L364.8 118.4 L365 117.9 L365.2 117.3 L365.5 116.7 L365.8 116.1 L366 115.5 L366.2 114.9 L366.5 114.3 L366.8 113.8 L367 113.2 L367.2 112.6 L367.5 112.1 L367.8 111.5 L368 111 L368.2 110.4 L368.5 109.9 L368.8 109.3 L369 108.8 L369.2 108.3 L369.5 107.8 L369.8 107.3 L370 106.8 L370.2 106.3 L370.5 105.9 L370.8 105.4 L371 105 L371.2 104.6 L371.5 104.2 L371.8 103.8 L372 103.4 L372.2 103.1 L372.5 102.7 L372.8 102.4 L373 102.1 L373.2 101.8 L373.5 101.6 L373.8 101.3 L374 101.1 L374.2 100.9 L374.5 100.7 L374.8 100.5 L375 100.4 L375.2 100.3 L375.5 100.2 L375.8 100.1 L376 100 L376.2 100 L376.5 100 L376.8 100 L377 100 L377.2 100.1 L377.5 100.2 L377.8 100.3 L378 100.4 L378.2 100.5 L378.5 100.7 L378.8 100.9 L379 101.1 L379.2 101.3 L379.5 101.6 L379.8 101.8 L380 102.1 L380.2 102.4 L380.5 102.7 L380.8 103.1 L381 103.4 L381.2 103.8 L381.5 104.2 L381.8 104.6 L382 105 L382.2 105.4 L382.5 105.9 L382.8 106.4 L383 106.8 L383.2 107.3 L383.5 107.8 L383.8 108.3 L384 108.8 L384.2 109.3 L384.5 109.9 L384.8 110.4 L385 111 L385.2 111.5 L385.5 112.1 L385.8 112.7 L386 113.2 L386.2 113.8 L386.5 114.4 L386.8 115 L387 115.5 L387.2 116.1 L387.5 116.7 L387.8 117.3 L388 117.9 L388.2 118.5 L388.5 119.1 L388.8 119.7 L389 120.2 L389.2 120.8 L389.5 121.4 L389.8 122 L390 122.6 L390.2 123.1 L390.5 123.7 L390.8 124.3 L391 124.8 L391.2 125.4 L391.5 125.9 L391.8 126.5 L392 127 L392.2 127.5 L392.5 128.1 L392.8 128.6 L393 129.1 L393.2 129.6 L393.5 130.1 L393.8 130.6 L394 131.1 L394.2 131.5 L394.5 132 L394.8 132.4 L395 132.9 L395.2 133.3 L395.5 133.8 L395.8 134.2 L396 134.6 L396.2 135 L396.5 135.4 L396.8 135.8 L397 136.2 L397.2 136.6 L397.5 136.9 L397.8 137.3 L398 137.6 L398.2 138 L398.5 138.3 L398.8 138.6 L399 138.9 L399.2 139.2 L399.5 139.5 L399.8 139.8 L400 140.1 L400.2 140.3 L400.5 140.6 L400.8 140.9 L401 141.1 L401.2 141.4 L401.5 141.6 L401.8 141.8 L402 142 L402.2 142.2 L402.5 142.4 L402.8 142.6 L403 142.8 L403.2 143 L403.5 143.2 L403.8 143.4 L404 143.5 L404.2 143.7 L404.5 143.8 L404.8 144 L405 144.1 L405.2 144.3 L405.5 144.4 L405.8 144.5 L406 144.6 L406.2 144.8 L406.5 144.9 L406.8 145 L407 145.1 L407.2 145.2 L407.5 145.3 L407.8 145.4 L408 145.5 L408.2 145.5 L408.5 145.6 L408.8 145.7 L409 145.8 L409.2 145.8 L409.5 145.9 L409.8 146 L410 146 L410.2 146.1 L410.5 146.1 L410.8 146.2 L411 146.2 L411.2 146.3 L411.5 146.3 L411.8 146.4 L412 146.4 L412.2 146.5 L412.5 146.5 L412.8 146.5 L413 146.6 L413.2 146.6 L413.5 146.6 L413.8 146.7 L414 146.7 L414.2 146.7 L414.5 146.7 L414.8 146.8 L415 146.8 L415.2 146.8 L415.5 146.8 L415.8 146.8 L416 146.9 L416.2 146.9 L416.5 146.9 L416.8 146.9 L417 146.9 L417.2 146.9 L417.5 146.9 L417.8 147 L418 147 L418.2 147 L418.5 147 L418.8 147 L419 147 L419.2 147 L419.5 147 L419.8 147 L420 147 L420.2 147 L420.5 147 L420.8 147.1 L421 147.1 L421.2 147.1 L421.5 147.1 L421.8 147.1 L422 147.1 L422.2 147.1 L422.5 147.1 L422.8 147.1 L423 147.1 L423.2 147.1 L423.5 147.1 L423.8 147.1 L424 147.1 L424.2 147.1 L424.5 147.1 L424.8 147.1 L425 147.1 L425.2 147.1 L425.5 147.1 L425.8 147.1 L426 147.1 L426.2 147.1 L426.5 147.1 L426.8 147.1 L427 147.1 L427.2 147.1 L427.5 147.1 L427.8 147.1 L428 147.1 L428.2 147.1 L428.5 147.1 L428.8 147.1 L429 147.1 L429.2 147.1 L429.5 147.1 L429.8 147.1 L430 147.1 L430.2 147.1 L430.5 147.1 L430.8 147.1 L431 147.1 L431.2 147.1 L431.5 147.1 L431.8 147.1 L432 147.1 L432.2 147.1 L432.5 147.1 L432.8 147.1 L433 147.1 L433.2 147.1 L433.5 147 L433.8 147 L434 147 L434.2 147 L434.5 147 L434.8 147 L435 147 L435.2 147 L435.5 147 L435.8 147 L436 147 L436.2 147 L436.5 147 L436.8 147 L437 147 L437.2 147 L437.5 147 L437.8 147 L438 147 L438.2 147 L438.5 147 L438.8 147 L439 147 L439.2 147 L439.5 147 L439.8 147 L440 147 L440.2 147 L440.5 147 L440.8 147 L441 147 L441.2 146.9 L441.5 146.9 L441.8 146.9 L442 146.9 L442.2 146.9 L442.5 146.9 L442.8 146.9 L443 146.9 L443.2 146.9 L443.5 146.9 L443.8 146.9 L444 146.9 L444.2 146.9 L444.5 146.9 L444.8 146.9 L445 146.9 L445.2 146.9 L445.5 146.9 L445.8 146.9 L446 146.9 L446.2 146.9 L446.5 146.9 L446.8 146.9 L447 146.9 L447.2 146.8 L447.5 146.8 L447.8 146.8 L448 146.8 L448.2 146.8 L448.5 146.8 L448.8 146.8 L449 146.8 L449.2 146.8 L449.5 146.8 L449.8 146.8 L450 146.8 L450.2 146.8 L450.5 146.8 L450.8 146.8 L451 146.8 L451.2 146.8 L451.5 146.8 L451.8 146.8 L452 146.8 L452.2 146.8 L452.5 146.8 L452.8 146.7 L453 146.7 L453.2 146.7 L453.5 146.7 L453.8 146.7 L454 146.7 L454.2 146.7 L454.5 146.7 L454.8 146.7 L455 146.7 L455.2 146.7 L455.5 146.7 L455.8 146.7 L456 146.7 L456.2 146.7 L456.5 146.7 L456.8 146.7 L457 146.7 L457.2 146.7 L457.5 146.7 L457.8 146.6 L458 146.6 L458.2 146.6 L458.5 146.6 L458.8 146.6 L459 146.6 L459.2 146.6 L459.5 146.6 L459.8 146.6 L460 146.6 L460.2 146.6 L460.5 146.6 L460.8 146.6 L461 146.6 L461.2 146.6 L461.5 146.6 L461.8 146.6 L462 146.6 L462.2 146.6 L462.5 146.6 L462.8 146.5 L463 146.5 L463.2 146.5 L463.5 146.5 L463.8 146.5 L464 146.5 L464.2 146.5 L464.5 146.5 L464.8 146.5 L465 146.5 L465.2 146.5 L465.5 146.5 L465.8 146.5 L466 146.5 L466.2 146.5 L466.5 146.5 L466.8 146.5 L467 146.5 L467.2 146.5 L467.5 146.4 L467.8 146.4 L468 146.4 L468.2 146.4 L468.5 146.4 L468.8 146.4 L469 146.4 L469.2 146.4 L469.5 146.4 L469.8 146.4 L470 146.4 L470.2 146.4 L470.5 146.4 L470.8 146.4 L471 146.4 L471.2 146.4 L471.5 146.4 L471.8 146.4 L472 146.3 L472.2 146.3 L472.5 146.3 L472.8 146.3 L473 146.3 L473.2 146.3 L473.5 146.3 L473.8 146.3 L474 146.3 L474.2 146.3 L474.5 146.3 L474.8 146.3 L475 146.3 L475.2 146.3 L475.5 146.3 L475.8 146.3 L476 146.3 L476.2 146.3 L476.5 146.3 L476.8 146.2 L477 146.2 L477.2 146.2 L477.5 146.2 L477.8 146.2 L478 146.2 L478.2 146.2 L478.5 146.2 L478.8 146.2 L479 146.2 L479.2 146.2 L479.5 146.2 L479.8 146.2 L480 146.2 L480.2 146.2 L480.5 146.2 L480.8 146.2 L481 146.2 L481.2 146.2 L481.5 146.1 L481.8 146.1 L482 146.1 L482.2 146.1 L482.5 146.1 L482.8 146.1 L483 146.1 L483.2 146.1 L483.5 146.1 L483.8 146.1 L484 146.1 L484.2 146.1 L484.5 146.1 L484.8 146.1 L485 146.1 L485.2 146.1 L485.5 146.1 L485.8 146.1 L486 146.1 L486.2 146 L486.5 146 L486.8 146 L487 146 L487.2 146 L487.5 146 L487.8 146 L488 146 L488.2 146 L488.5 146 L488.8 146 L489 146 L489.2 146 L489.5 146 L489.8 146 L490 146 L490.2 146 L490.5 146 L490.8 146 L491 145.9 L491.2 145.9 L491.5 145.9 L491.8 145.9 L492 145.9 L492.2 145.9 L492.5 145.9 L492.8 145.9 L493 145.9 L493.2 145.9 L493.5 145.9 L493.8 145.9 L494 145.9 L494.2 145.9 L494.5 145.9 L494.8 145.9 L495 145.9 L495.2 145.9 L495.5 145.9 L495.8 145.8 L496 145.8 L496.2 145.8 L496.5 145.8 L496.8 145.8 L497 145.8 L497.2 145.8 L497.5 145.8 L497.8 145.8 L498 145.8 L498.2 145.8 L498.5 145.8 L498.8 145.8 L499 145.8 L499.2 145.8 L499.5 145.8 L499.8 145.8 L500 145.8 L500.2 145.7 L500.5 145.7 L500.8 145.7 L501 145.7 L501.2 145.7 L501.5 145.7 L501.8 145.7 L502 145.7 L502.2 145.7 L502.5 145.7 L502.8 145.7 L503 145.7 L503.2 145.7 L503.5 145.7 L503.8 145.7 L504 145.7 L504.2 145.7 L504.5 145.7 L504.8 145.6 L505 145.6 L505.2 145.6 L505.5 145.6 L505.8 145.6 L506 145.6 L506.2 145.6 L506.5 145.6 L506.8 145.6 L507 145.6 L507.2 145.6 L507.5 145.6 L507.8 145.6 L508 145.6 L508.2 145.6 L508.5 145.6 L508.8 145.6 L509 145.6 L509.2 145.5 L509.5 145.5 L509.8 145.5 L510 145.5 L510.2 145.5 L510.5 145.5 L510.8 145.5 L511 145.5 L511.2 145.5 L511.5 145.5 L511.8 145.5 L512 145.5 L512.2 145.5 L512.5 145.5 L512.8 145.5 L513 145.5 L513.2 145.5 L513.5 145.4 L513.8 145.4 L514 145.4 L514.2 145.4 L514.5 145.4 L514.8 145.4 L515 145.4 L515.2 145.4 L515.5 145.4 L515.8 145.4 L516 145.4 L516.2 145.4 L516.5 145.4 L516.8 145.4 L517 145.4 L517.2 145.4 L517.5 145.4 L517.8 145.3 L518 145.3 L518.2 145.3 L518.5 145.3 L518.8 145.3 L519 145.3 L519.2 145.3 L519.5 145.3 L519.8 145.3 L520 145.3 L520.2 145.3 L520.5 145.3 L520.8 145.3 L521 145.3 L521.2 145.3 L521.5 145.3 L521.8 145.3 L522 145.2 L522.2 145.2 L522.5 145.2 L522.8 145.2 L523 145.2 L523.2 145.2 L523.5 145.2 L523.8 145.2 L524 145.2 L524.2 145.2 L524.5 145.2 L524.8 145.2 L525 145.2 L525.2 145.2 L525.5 145.2 L525.8 145.2 L526 145.1 L526.2 145.1 L526.5 145.1 L526.8 145.1 L527 145.1 L527.2 145.1 L527.5 145.1 L527.8 145.1 L528 145.1 L528.2 145.1 L528.5 145.1 L528.8 145.1 L529 145.1 L529.2 145.1 L529.5 145.1 L529.8 145.1 L530 145 L530.2 145 L530.5 145 L530.8 145 L531 145 L531.2 145 L531.5 145 L531.8 145 L532 145 L532.2 145 L532.5 145 L532.8 145 L533 145 L533.2 145 L533.5 145 L533.8 145 L534 144.9 L534.2 144.9 L534.5 144.9 L534.8 144.9 L535 144.9 L535.2 144.9 L535.5 144.9 L535.8 144.9 L536 144.9 L536.2 144.9 L536.5 144.9 L536.8 144.9 L537 144.9 L537.2 144.9 L537.5 144.9 L537.8 144.8 L538 144.8 L538.2 144.8 L538.5 144.8 L538.8 144.8 L539 144.8 L539.2 144.8 L539.5 144.8 L539.8 144.8 L540 144.8 L540.2 144.8 L540.5 144.8 L540.8 144.8 L541 144.8 L541.2 144.8 L541.5 144.8 L541.8 144.7" stroke="#12a012" stroke-width="1.6" fill="none" stroke-linejoin="round"/>
<path d="M312 148.9 L312.2 148.8 L312.5 148.8 L312.8 148.8 L313 148.8 L313.2 148.8 L313.5 148.8 L313.8 148.8 L314 148.8 L314.2 148.8 L314.5 148.7 L314.8 148.7 L315 148.7 L315.2 148.7 L315.5 148.7 L315.8 148.7 L316 148.7 L316.2 148.7 L316.5 148.7 L316.8 148.6 L317 148.6 L317.2 148.6 L317.5 148.6 L317.8 148.6 L318 148.6 L318.2 148.6 L318.5 148.6 L318.8 148.5 L319 148.5 L319.2 148.5 L319.5 148.5 L319.8 148.5 L320 148.5 L320.2 148.5 L320.5 148.4 L320.8 148.4 L321 148.4 L321.2 148.4 L321.5 148.4 L321.8 148.4 L322 148.4 L322.2 148.3 L322.5 148.3 L322.8 148.3 L323 148.3 L323.2 148.3 L323.5 148.3 L323.8 148.2 L324 148.2 L324.2 148.2 L324.5 148.2 L324.8 148.2 L325 148.2 L325.2 148.1 L325.5 148.1 L325.8 148.1 L326 148.1 L326.2 148.1 L326.5 148 L326.8 148 L327 148 L327.2 148 L327.5 147.9 L327.8 147.9 L328 147.9 L328.2 147.8 L328.5 147.8 L328.8 147.8 L329 147.7 L329.2 147.7 L329.5 147.7 L329.8 147.6 L330 147.6 L330.2 147.5 L330.5 147.5 L330.8 147.5 L331 147.4 L331.2 147.3 L331.5 147.3 L331.8 147.2 L332 147.2 L332.2 147.1 L332.5 147 L332.8 146.9 L333 146.9 L333.2 146.8 L333.5 146.7 L333.8 146.6 L334 146.5 L334.2 146.4 L334.5 146.2 L334.8 146.1 L335 146 L335.2 145.8 L335.5 145.7 L335.8 145.5 L336 145.3 L336.2 145.1 L336.5 144.9 L336.8 144.7 L337 144.5 L337.2 144.3 L337.5 144 L337.8 143.7 L338 143.4 L338.2 143.1 L338.5 142.8 L338.8 142.5 L339 142.1 L339.2 141.8 L339.5 141.4 L339.8 140.9 L340 140.5 L340.2 140 L340.5 139.5 L340.8 139 L341 138.5 L341.2 137.9 L341.5 137.3 L341.8 136.7 L342 136 L342.2 135.3 L342.5 134.6 L342.8 133.9 L343 133.1 L343.2 132.3 L343.5 131.4 L343.8 130.5 L344 129.6 L344.2 128.7 L344.5 127.7 L344.8 126.6 L345 125.6 L345.2 124.4 L345.5 123.3 L345.8 122.1 L346 120.9 L346.2 119.6 L346.5 118.3 L346.8 117 L347 115.6 L347.2 114.2 L347.5 112.8 L347.8 111.3 L348 109.8 L348.2 108.2 L348.5 106.7 L348.8 105 L349 103.4 L349.2 101.7 L349.5 100 L349.8 98.3 L350 96.5 L350.2 94.8 L350.5 93 L350.8 91.2 L351 89.3 L351.2 87.5 L351.5 85.7 L351.8 83.8 L352 81.9 L352.2 80.1 L352.5 78.2 L352.8 76.3 L353 74.5 L353.2 72.6 L353.5 70.8 L353.8 69 L354 67.2 L354.2 65.4 L354.5 63.7 L354.8 61.9 L355 60.2 L355.2 58.6 L355.5 57 L355.8 55.4 L356 53.9 L356.2 52.4 L356.5 51 L356.8 49.7 L357 48.4 L357.2 47.2 L357.5 46 L357.8 44.9 L358 43.9 L358.2 42.9 L358.5 42.1 L358.8 41.3 L359 40.6 L359.2 40 L359.5 39.5 L359.8 39 L360 38.7 L360.2 38.4 L360.5 38.3 L360.8 38.2 L361 38.2 L361.2 38.3 L361.5 38.5 L361.8 38.8 L362 39.2 L362.2 39.7 L362.5 40.3 L362.8 40.9 L363 41.7 L363.2 42.5 L363.5 43.4 L363.8 44.3 L364 45.4 L364.2 46.5 L364.5 47.7 L364.8 49 L365 50.3 L365.2 51.7 L365.5 53.1 L365.8 54.6 L366 56.2 L366.2 57.7 L366.5 59.4 L366.8 61 L367 62.8 L367.2 64.5 L367.5 66.3 L367.8 68 L368 69.9 L368.2 71.7 L368.5 73.5 L368.8 75.4 L369 77.3 L369.2 79.1 L369.5 81 L369.8 82.9 L370 84.7 L370.2 86.6 L370.5 88.4 L370.8 90.3 L371 92.1 L371.2 93.9 L371.5 95.7 L371.8 97.5 L372 99.2 L372.2 100.9 L372.5 102.6 L372.8 104.3 L373 105.9 L373.2 107.5 L373.5 109.1 L373.8 110.6 L374 112.1 L374.2 113.6 L374.5 115 L374.8 116.4 L375 117.8 L375.2 119.1 L375.5 120.4 L375.8 121.6 L376 122.8 L376.2 124 L376.5 125.1 L376.8 126.2 L377 127.3 L377.2 128.3 L377.5 129.2 L377.8 130.2 L378 131.1 L378.2 132 L378.5 132.8 L378.8 133.6 L379 134.4 L379.2 135.1 L379.5 135.8 L379.8 136.5 L380 137.1 L380.2 137.7 L380.5 138.3 L380.8 138.9 L381 139.4 L381.2 139.9 L381.5 140.4 L381.8 140.8 L382 141.2 L382.2 141.6 L382.5 142 L382.8 142.4 L383 142.7 L383.2 143 L383.5 143.4 L383.8 143.6 L384 143.9 L384.2 144.2 L384.5 144.4 L384.8 144.6 L385 144.8 L385.2 145 L385.5 145.2 L385.8 145.4 L386 145.6 L386.2 145.7 L386.5 145.9 L386.8 146 L387 146.1 L387.2 146.2 L387.5 146.3 L387.8 146.4 L388 146.5 L388.2 146.6 L388.5 146.7 L388.8 146.8 L389 146.9 L389.2 146.9 L389.5 147 L389.8 147 L390 147.1 L390.2 147.1 L390.5 147.2 L390.8 147.2 L391 147.3 L391.2 147.3 L391.5 147.3 L391.8 147.4 L392 147.4 L392.2 147.4 L392.5 147.5 L392.8 147.5 L393 147.5 L393.2 147.5 L393.5 147.5 L393.8 147.6 L394 147.6 L394.2 147.6 L394.5 147.6 L394.8 147.6 L395 147.6 L395.2 147.6 L395.5 147.7 L395.8 147.7 L396 147.7 L396.2 147.7 L396.5 147.7 L396.8 147.7 L397 147.7 L397.2 147.7 L397.5 147.7 L397.8 147.7 L398 147.7 L398.2 147.7 L398.5 147.7 L398.8 147.7 L399 147.7 L399.2 147.8 L399.5 147.8 L399.8 147.8 L400 147.8 L400.2 147.8 L400.5 147.8 L400.8 147.8 L401 147.8 L401.2 147.8 L401.5 147.8 L401.8 147.8 L402 147.8 L402.2 147.8 L402.5 147.8 L402.8 147.8 L403 147.8 L403.2 147.8 L403.5 147.8 L403.8 147.8 L404 147.8 L404.2 147.8 L404.5 147.8 L404.8 147.8 L405 147.8 L405.2 147.8 L405.5 147.8 L405.8 147.8 L406 147.8 L406.2 147.8 L406.5 147.8 L406.8 147.8 L407 147.8 L407.2 147.8 L407.5 147.8 L407.8 147.8 L408 147.8 L408.2 147.8 L408.5 147.7 L408.8 147.7 L409 147.7 L409.2 147.7 L409.5 147.7 L409.8 147.7 L410 147.7 L410.2 147.7 L410.5 147.7 L410.8 147.7 L411 147.7 L411.2 147.7 L411.5 147.7 L411.8 147.7 L412 147.7 L412.2 147.7 L412.5 147.7 L412.8 147.7 L413 147.7 L413.2 147.7 L413.5 147.7 L413.8 147.7 L414 147.7 L414.2 147.7 L414.5 147.7 L414.8 147.7 L415 147.7 L415.2 147.7 L415.5 147.7 L415.8 147.7 L416 147.7 L416.2 147.7 L416.5 147.7 L416.8 147.7 L417 147.6 L417.2 147.6 L417.5 147.6 L417.8 147.6 L418 147.6 L418.2 147.6 L418.5 147.6 L418.8 147.6 L419 147.6 L419.2 147.6 L419.5 147.6 L419.8 147.6 L420 147.6 L420.2 147.6 L420.5 147.6 L420.8 147.6 L421 147.6 L421.2 147.6 L421.5 147.6 L421.8 147.6 L422 147.6 L422.2 147.6 L422.5 147.6 L422.8 147.5 L423 147.5 L423.2 147.5 L423.5 147.5 L423.8 147.5 L424 147.5 L424.2 147.5 L424.5 147.5 L424.8 147.5 L425 147.5 L425.2 147.5 L425.5 147.5 L425.8 147.5 L426 147.5 L426.2 147.5 L426.5 147.5 L426.8 147.5 L427 147.5 L427.2 147.5 L427.5 147.5 L427.8 147.5 L428 147.4 L428.2 147.4 L428.5 147.4 L428.8 147.4 L429 147.4 L429.2 147.4 L429.5 147.4 L429.8 147.4 L430 147.4 L430.2 147.4 L430.5 147.4 L430.8 147.4 L431 147.4 L431.2 147.4 L431.5 147.4 L431.8 147.4 L432 147.4 L432.2 147.4 L432.5 147.4 L432.8 147.4 L433 147.3 L433.2 147.3 L433.5 147.3 L433.8 147.3 L434 147.3 L434.2 147.3 L434.5 147.3 L434.8 147.3 L435 147.3 L435.2 147.3 L435.5 147.3 L435.8 147.3 L436 147.3 L436.2 147.3 L436.5 147.3 L436.8 147.3 L437 147.3 L437.2 147.3 L437.5 147.2 L437.8 147.2 L438 147.2 L438.2 147.2 L438.5 147.2 L438.8 147.2 L439 147.2 L439.2 147.2 L439.5 147.2 L439.8 147.2 L440 147.2 L440.2 147.2 L440.5 147.2 L440.8 147.2 L441 147.2 L441.2 147.2 L441.5 147.2 L441.8 147.2 L442 147.1 L442.2 147.1 L442.5 147.1 L442.8 147.1 L443 147.1 L443.2 147.1 L443.5 147.1 L443.8 147.1 L444 147.1 L444.2 147.1 L444.5 147.1 L444.8 147.1 L445 147.1 L445.2 147.1 L445.5 147.1 L445.8 147.1 L446 147.1 L446.2 147.1 L446.5 147 L446.8 147 L447 147 L447.2 147 L447.5 147 L447.8 147 L448 147 L448.2 147 L448.5 147 L448.8 147 L449 147 L449.2 147 L449.5 147 L449.8 147 L450 147 L450.2 147 L450.5 147 L450.8 146.9 L451 146.9 L451.2 146.9 L451.5 146.9 L451.8 146.9 L452 146.9 L452.2 146.9 L452.5 146.9 L452.8 146.9 L453 146.9 L453.2 146.9 L453.5 146.9 L453.8 146.9 L454 146.9 L454.2 146.9 L454.5 146.9 L454.8 146.9 L455 146.8 L455.2 146.8 L455.5 146.8 L455.8 146.8 L456 146.8 L456.2 146.8 L456.5 146.8 L456.8 146.8 L457 146.8 L457.2 146.8 L457.5 146.8 L457.8 146.8 L458 146.8 L458.2 146.8 L458.5 146.8 L458.8 146.8 L459 146.8 L459.2 146.7 L459.5 146.7 L459.8 146.7 L460 146.7 L460.2 146.7 L460.5 146.7 L460.8 146.7 L461 146.7 L461.2 146.7 L461.5 146.7 L461.8 146.7 L462 146.7 L462.2 146.7 L462.5 146.7 L462.8 146.7 L463 146.7 L463.2 146.7 L463.5 146.6 L463.8 146.6 L464 146.6 L464.2 146.6 L464.5 146.6 L464.8 146.6 L465 146.6 L465.2 146.6 L465.5 146.6 L465.8 146.6 L466 146.6 L466.2 146.6 L466.5 146.6 L466.8 146.6 L467 146.6 L467.2 146.6 L467.5 146.5 L467.8 146.5 L468 146.5 L468.2 146.5 L468.5 146.5 L468.8 146.5 L469 146.5 L469.2 146.5 L469.5 146.5 L469.8 146.5 L470 146.5 L470.2 146.5 L470.5 146.5 L470.8 146.5 L471 146.5 L471.2 146.5 L471.5 146.5 L471.8 146.4 L472 146.4 L472.2 146.4 L472.5 146.4 L472.8 146.4 L473 146.4 L473.2 146.4 L473.5 146.4 L473.8 146.4 L474 146.4 L474.2 146.4 L474.5 146.4 L474.8 146.4 L475 146.4 L475.2 146.4 L475.5 146.4 L475.8 146.4 L476 146.4 L476.2 146.3 L476.5 146.3 L476.8 146.3 L477 146.3 L477.2 146.3 L477.5 146.3 L477.8 146.3 L478 146.3 L478.2 146.3 L478.5 146.3 L478.8 146.3 L479 146.3 L479.2 146.3 L479.5 146.3 L479.8 146.3 L480 146.3 L480.2 146.3 L480.5 146.2 L480.8 146.2 L481 146.2 L481.2 146.2 L481.5 146.2 L481.8 146.2 L482 146.2 L482.2 146.2 L482.5 146.2 L482.8 146.2 L483 146.2 L483.2 146.2 L483.5 146.2 L483.8 146.2 L484 146.2 L484.2 146.2 L484.5 146.2 L484.8 146.1 L485 146.1 L485.2 146.1 L485.5 146.1 L485.8 146.1 L486 146.1 L486.2 146.1 L486.5 146.1 L486.8 146.1 L487 146.1 L487.2 146.1 L487.5 146.1 L487.8 146.1 L488 146.1 L488.2 146.1 L488.5 146.1 L488.8 146.1 L489 146.1 L489.2 146 L489.5 146 L489.8 146 L490 146 L490.2 146 L490.5 146 L490.8 146 L491 146 L491.2 146 L491.5 146 L491.8 146 L492 146 L492.2 146 L492.5 146 L492.8 146 L493 146 L493.2 146 L493.5 146 L493.8 145.9 L494 145.9 L494.2 145.9 L494.5 145.9 L494.8 145.9 L495 145.9 L495.2 145.9 L495.5 145.9 L495.8 145.9 L496 145.9 L496.2 145.9 L496.5 145.9 L496.8 145.9 L497 145.9 L497.2 145.9 L497.5 145.9 L497.8 145.9 L498 145.9 L498.2 145.8 L498.5 145.8 L498.8 145.8 L499 145.8 L499.2 145.8 L499.5 145.8 L499.8 145.8 L500 145.8 L500.2 145.8 L500.5 145.8 L500.8 145.8 L501 145.8 L501.2 145.8 L501.5 145.8 L501.8 145.8 L502 145.8 L502.2 145.8 L502.5 145.8 L502.8 145.7 L503 145.7 L503.2 145.7 L503.5 145.7 L503.8 145.7 L504 145.7 L504.2 145.7 L504.5 145.7 L504.8 145.7 L505 145.7 L505.2 145.7 L505.5 145.7 L505.8 145.7 L506 145.7 L506.2 145.7 L506.5 145.7 L506.8 145.7 L507 145.6 L507.2 145.6 L507.5 145.6 L507.8 145.6 L508 145.6 L508.2 145.6 L508.5 145.6 L508.8 145.6 L509 145.6 L509.2 145.6 L509.5 145.6 L509.8 145.6 L510 145.6 L510.2 145.6 L510.5 145.6 L510.8 145.6 L511 145.6 L511.2 145.5 L511.5 145.5 L511.8 145.5 L512 145.5 L512.2 145.5 L512.5 145.5 L512.8 145.5 L513 145.5 L513.2 145.5 L513.5 145.5 L513.8 145.5 L514 145.5 L514.2 145.5 L514.5 145.5 L514.8 145.5 L515 145.5 L515.2 145.4 L515.5 145.4 L515.8 145.4 L516 145.4 L516.2 145.4 L516.5 145.4 L516.8 145.4 L517 145.4 L517.2 145.4 L517.5 145.4 L517.8 145.4 L518 145.4 L518.2 145.4 L518.5 145.4 L518.8 145.4 L519 145.4 L519.2 145.4 L519.5 145.3 L519.8 145.3 L520 145.3 L520.2 145.3 L520.5 145.3 L520.8 145.3 L521 145.3 L521.2 145.3 L521.5 145.3 L521.8 145.3 L522 145.3 L522.2 145.3 L522.5 145.3 L522.8 145.3 L523 145.3 L523.2 145.3 L523.5 145.2 L523.8 145.2 L524 145.2 L524.2 145.2 L524.5 145.2 L524.8 145.2 L525 145.2 L525.2 145.2 L525.5 145.2 L525.8 145.2 L526 145.2 L526.2 145.2 L526.5 145.2 L526.8 145.2 L527 145.2 L527.2 145.1 L527.5 145.1 L527.8 145.1 L528 145.1 L528.2 145.1 L528.5 145.1 L528.8 145.1 L529 145.1 L529.2 145.1 L529.5 145.1 L529.8 145.1 L530 145.1 L530.2 145.1 L530.5 145.1 L530.8 145.1 L531 145.1 L531.2 145 L531.5 145 L531.8 145 L532 145 L532.2 145 L532.5 145 L532.8 145 L533 145 L533.2 145 L533.5 145 L533.8 145 L534 145 L534.2 145 L534.5 145 L534.8 145 L535 145 L535.2 144.9 L535.5 144.9 L535.8 144.9 L536 144.9 L536.2 144.9 L536.5 144.9 L536.8 144.9 L537 144.9 L537.2 144.9 L537.5 144.9 L537.8 144.9 L538 144.9 L538.2 144.9 L538.5 144.9 L538.8 144.9 L539 144.8 L539.2 144.8 L539.5 144.8 L539.8 144.8 L540 144.8 L540.2 144.8 L540.5 144.8 L540.8 144.8 L541 144.8 L541.2 144.8 L541.5 144.8 L541.8 144.8" stroke="#1414f0" stroke-width="1.6" fill="none" stroke-linejoin="round"/>
<path d="M312 149.3 L312.2 149.3 L312.5 149.3 L312.8 149.3 L313 149.3 L313.2 149.2 L313.5 149.2 L313.8 149.2 L314 149.2 L314.2 149.2 L314.5 149.2 L314.8 149.2 L315 149.2 L315.2 149.2 L315.5 149.2 L315.8 149.2 L316 149.2 L316.2 149.2 L316.5 149.2 L316.8 149.2 L317 149.1 L317.2 149.1 L317.5 149.1 L317.8 149.1 L318 149.1 L318.2 149.1 L318.5 149.1 L318.8 149.1 L319 149.1 L319.2 149.1 L319.5 149.1 L319.8 149.1 L320 149.1 L320.2 149.1 L320.5 149.1 L320.8 149 L321 149 L321.2 149 L321.5 149 L321.8 149 L322 149 L322.2 149 L322.5 149 L322.8 149 L323 149 L323.2 149 L323.5 149 L323.8 149 L324 149 L324.2 149 L324.5 148.9 L324.8 148.9 L325 148.9 L325.2 148.9 L325.5 148.9 L325.8 148.9 L326 148.9 L326.2 148.9 L326.5 148.9 L326.8 148.9 L327 148.9 L327.2 148.9 L327.5 148.9 L327.8 148.9 L328 148.9 L328.2 148.8 L328.5 148.8 L328.8 148.8 L329 148.8 L329.2 148.8 L329.5 148.8 L329.8 148.8 L330 148.8 L330.2 148.8 L330.5 148.8 L330.8 148.8 L331 148.8 L331.2 148.8 L331.5 148.8 L331.8 148.8 L332 148.7 L332.2 148.7 L332.5 148.7 L332.8 148.7 L333 148.7 L333.2 148.7 L333.5 148.7 L333.8 148.7 L334 148.7 L334.2 148.7 L334.5 148.7 L334.8 148.7 L335 148.7 L335.2 148.7 L335.5 148.7 L335.8 148.7 L336 148.6 L336.2 148.6 L336.5 148.6 L336.8 148.6 L337 148.6 L337.2 148.6 L337.5 148.6 L337.8 148.6 L338 148.6 L338.2 148.6 L338.5 148.6 L338.8 148.6 L339 148.6 L339.2 148.6 L339.5 148.6 L339.8 148.6 L340 148.5 L340.2 148.5 L340.5 148.5 L340.8 148.5 L341 148.5 L341.2 148.5 L341.5 148.5 L341.8 148.5 L342 148.5 L342.2 148.5 L342.5 148.5 L342.8 148.5 L343 148.5 L343.2 148.5 L343.5 148.5 L343.8 148.5 L344 148.5 L344.2 148.5 L344.5 148.5 L344.8 148.4 L345 148.4 L345.2 148.4 L345.5 148.4 L345.8 148.4 L346 148.4 L346.2 148.4 L346.5 148.4 L346.8 148.4 L347 148.4 L347.2 148.4 L347.5 148.4 L347.8 148.4 L348 148.4 L348.2 148.4 L348.5 148.4 L348.8 148.4 L349 148.4 L349.2 148.4 L349.5 148.4 L349.8 148.4 L350 148.4 L350.2 148.4 L350.5 148.4 L350.8 148.4 L351 148.4 L351.2 148.4 L351.5 148.4 L351.8 148.4 L352 148.4 L352.2 148.4 L352.5 148.4 L352.8 148.4 L353 148.4 L353.2 148.4 L353.5 148.4 L353.8 148.4 L354 148.4 L354.2 148.4 L354.5 148.4 L354.8 148.4 L355 148.4 L355.2 148.4 L355.5 148.4 L355.8 148.4 L356 148.4 L356.2 148.4 L356.5 148.4 L356.8 148.4 L357 148.4 L357.2 148.4 L357.5 148.4 L357.8 148.4 L358 148.4 L358.2 148.5 L358.5 148.5 L358.8 148.5 L359 148.5 L359.2 148.5 L359.5 148.5 L359.8 148.5 L360 148.5 L360.2 148.5 L360.5 148.5 L360.8 148.5 L361 148.5 L361.2 148.5 L361.5 148.5 L361.8 148.5 L362 148.5 L362.2 148.5 L362.5 148.5 L362.8 148.5 L363 148.6 L363.2 148.6 L363.5 148.6 L363.8 148.6 L364 148.6 L364.2 148.6 L364.5 148.6 L364.8 148.6 L365 148.6 L365.2 148.6 L365.5 148.6 L365.8 148.6 L366 148.6 L366.2 148.6 L366.5 148.6 L366.8 148.6 L367 148.6 L367.2 148.6 L367.5 148.6 L367.8 148.7 L368 148.7 L368.2 148.7 L368.5 148.7 L368.8 148.7 L369 148.7 L369.2 148.7 L369.5 148.7 L369.8 148.7 L370 148.7 L370.2 148.7 L370.5 148.7 L370.8 148.7 L371 148.7 L371.2 148.7 L371.5 148.7 L371.8 148.7 L372 148.7 L372.2 148.7 L372.5 148.7 L372.8 148.7 L373 148.7 L373.2 148.7 L373.5 148.7 L373.8 148.7 L374 148.7 L374.2 148.7 L374.5 148.7 L374.8 148.7 L375 148.7 L375.2 148.7 L375.5 148.7 L375.8 148.7 L376 148.7 L376.2 148.7 L376.5 148.7 L376.8 148.7 L377 148.7 L377.2 148.7 L377.5 148.7 L377.8 148.7 L378 148.7 L378.2 148.7 L378.5 148.7 L378.8 148.7 L379 148.7 L379.2 148.7 L379.5 148.7 L379.8 148.7 L380 148.7 L380.2 148.7 L380.5 148.7 L380.8 148.7 L381 148.7 L381.2 148.7 L381.5 148.7 L381.8 148.7 L382 148.7 L382.2 148.7 L382.5 148.7 L382.8 148.7 L383 148.7 L383.2 148.7 L383.5 148.7 L383.8 148.7 L384 148.7 L384.2 148.7 L384.5 148.7 L384.8 148.7 L385 148.7 L385.2 148.7 L385.5 148.7 L385.8 148.7 L386 148.7 L386.2 148.7 L386.5 148.7 L386.8 148.7 L387 148.7 L387.2 148.6 L387.5 148.6 L387.8 148.6 L388 148.6 L388.2 148.6 L388.5 148.6 L388.8 148.6 L389 148.6 L389.2 148.6 L389.5 148.6 L389.8 148.6 L390 148.6 L390.2 148.6 L390.5 148.6 L390.8 148.6 L391 148.6 L391.2 148.6 L391.5 148.6 L391.8 148.6 L392 148.6 L392.2 148.6 L392.5 148.6 L392.8 148.6 L393 148.6 L393.2 148.5 L393.5 148.5 L393.8 148.5 L394 148.5 L394.2 148.5 L394.5 148.5 L394.8 148.5 L395 148.5 L395.2 148.5 L395.5 148.5 L395.8 148.5 L396 148.5 L396.2 148.5 L396.5 148.5 L396.8 148.5 L397 148.5 L397.2 148.5 L397.5 148.5 L397.8 148.5 L398 148.4 L398.2 148.4 L398.5 148.4 L398.8 148.4 L399 148.4 L399.2 148.4 L399.5 148.4 L399.8 148.4 L400 148.4 L400.2 148.4 L400.5 148.4 L400.8 148.4 L401 148.4 L401.2 148.4 L401.5 148.4 L401.8 148.4 L402 148.4 L402.2 148.3 L402.5 148.3 L402.8 148.3 L403 148.3 L403.2 148.3 L403.5 148.3 L403.8 148.3 L404 148.3 L404.2 148.3 L404.5 148.3 L404.8 148.3 L405 148.3 L405.2 148.3 L405.5 148.3 L405.8 148.3 L406 148.3 L406.2 148.2 L406.5 148.2 L406.8 148.2 L407 148.2 L407.2 148.2 L407.5 148.2 L407.8 148.2 L408 148.2 L408.2 148.2 L408.5 148.2 L408.8 148.2 L409 148.2 L409.2 148.2 L409.5 148.2 L409.8 148.2 L410 148.2 L410.2 148.1 L410.5 148.1 L410.8 148.1 L411 148.1 L411.2 148.1 L411.5 148.1 L411.8 148.1 L412 148.1 L412.2 148.1 L412.5 148.1 L412.8 148.1 L413 148.1 L413.2 148.1 L413.5 148.1 L413.8 148.1 L414 148 L414.2 148 L414.5 148 L414.8 148 L415 148 L415.2 148 L415.5 148 L415.8 148 L416 148 L416.2 148 L416.5 148 L416.8 148 L417 148 L417.2 148 L417.5 148 L417.8 147.9 L418 147.9 L418.2 147.9 L418.5 147.9 L418.8 147.9 L419 147.9 L419.2 147.9 L419.5 147.9 L419.8 147.9 L420 147.9 L420.2 147.9 L420.5 147.9 L420.8 147.9 L421 147.9 L421.2 147.9 L421.5 147.8 L421.8 147.8 L422 147.8 L422.2 147.8 L422.5 147.8 L422.8 147.8 L423 147.8 L423.2 147.8 L423.5 147.8 L423.8 147.8 L424 147.8 L424.2 147.8 L424.5 147.8 L424.8 147.8 L425 147.8 L425.2 147.7 L425.5 147.7 L425.8 147.7 L426 147.7 L426.2 147.7 L426.5 147.7 L426.8 147.7 L427 147.7 L427.2 147.7 L427.5 147.7 L427.8 147.7 L428 147.7 L428.2 147.7 L428.5 147.7 L428.8 147.7 L429 147.6 L429.2 147.6 L429.5 147.6 L429.8 147.6 L430 147.6 L430.2 147.6 L430.5 147.6 L430.8 147.6 L431 147.6 L431.2 147.6 L431.5 147.6 L431.8 147.6 L432 147.6 L432.2 147.6 L432.5 147.6 L432.8 147.6 L433 147.5 L433.2 147.5 L433.5 147.5 L433.8 147.5 L434 147.5 L434.2 147.5 L434.5 147.5 L434.8 147.5 L435 147.5 L435.2 147.5 L435.5 147.5 L435.8 147.5 L436 147.5 L436.2 147.5 L436.5 147.5 L436.8 147.4 L437 147.4 L437.2 147.4 L437.5 147.4 L437.8 147.4 L438 147.4 L438.2 147.4 L438.5 147.4 L438.8 147.4 L439 147.4 L439.2 147.4 L439.5 147.4 L439.8 147.4 L440 147.4 L440.2 147.4 L440.5 147.3 L440.8 147.3 L441 147.3 L441.2 147.3 L441.5 147.3 L441.8 147.3 L442 147.3 L442.2 147.3 L442.5 147.3 L442.8 147.3 L443 147.3 L443.2 147.3 L443.5 147.3 L443.8 147.3 L444 147.3 L444.2 147.2 L444.5 147.2 L444.8 147.2 L445 147.2 L445.2 147.2 L445.5 147.2 L445.8 147.2 L446 147.2 L446.2 147.2 L446.5 147.2 L446.8 147.2 L447 147.2 L447.2 147.2 L447.5 147.2 L447.8 147.2 L448 147.1 L448.2 147.1 L448.5 147.1 L448.8 147.1 L449 147.1 L449.2 147.1 L449.5 147.1 L449.8 147.1 L450 147.1 L450.2 147.1 L450.5 147.1 L450.8 147.1 L451 147.1 L451.2 147.1 L451.5 147.1 L451.8 147 L452 147 L452.2 147 L452.5 147 L452.8 147 L453 147 L453.2 147 L453.5 147 L453.8 147 L454 147 L454.2 147 L454.5 147 L454.8 147 L455 147 L455.2 147 L455.5 146.9 L455.8 146.9 L456 146.9 L456.2 146.9 L456.5 146.9 L456.8 146.9 L457 146.9 L457.2 146.9 L457.5 146.9 L457.8 146.9 L458 146.9 L458.2 146.9 L458.5 146.9 L458.8 146.9 L459 146.9 L459.2 146.9 L459.5 146.8 L459.8 146.8 L460 146.8 L460.2 146.8 L460.5 146.8 L460.8 146.8 L461 146.8 L461.2 146.8 L461.5 146.8 L461.8 146.8 L462 146.8 L462.2 146.8 L462.5 146.8 L462.8 146.8 L463 146.8 L463.2 146.7 L463.5 146.7 L463.8 146.7 L464 146.7 L464.2 146.7 L464.5 146.7 L464.8 146.7 L465 146.7 L465.2 146.7 L465.5 146.7 L465.8 146.7 L466 146.7 L466.2 146.7 L466.5 146.7 L466.8 146.7 L467 146.7 L467.2 146.6 L467.5 146.6 L467.8 146.6 L468 146.6 L468.2 146.6 L468.5 146.6 L468.8 146.6 L469 146.6 L469.2 146.6 L469.5 146.6 L469.8 146.6 L470 146.6 L470.2 146.6 L470.5 146.6 L470.8 146.6 L471 146.6 L471.2 146.5 L471.5 146.5 L471.8 146.5 L472 146.5 L472.2 146.5 L472.5 146.5 L472.8 146.5 L473 146.5 L473.2 146.5 L473.5 146.5 L473.8 146.5 L474 146.5 L474.2 146.5 L474.5 146.5 L474.8 146.5 L475 146.5 L475.2 146.4 L475.5 146.4 L475.8 146.4 L476 146.4 L476.2 146.4 L476.5 146.4 L476.8 146.4 L477 146.4 L477.2 146.4 L477.5 146.4 L477.8 146.4 L478 146.4 L478.2 146.4 L478.5 146.4 L478.8 146.4 L479 146.4 L479.2 146.3 L479.5 146.3 L479.8 146.3 L480 146.3 L480.2 146.3 L480.5 146.3 L480.8 146.3 L481 146.3 L481.2 146.3 L481.5 146.3 L481.8 146.3 L482 146.3 L482.2 146.3 L482.5 146.3 L482.8 146.3 L483 146.3 L483.2 146.3 L483.5 146.2 L483.8 146.2 L484 146.2 L484.2 146.2 L484.5 146.2 L484.8 146.2 L485 146.2 L485.2 146.2 L485.5 146.2 L485.8 146.2 L486 146.2 L486.2 146.2 L486.5 146.2 L486.8 146.2 L487 146.2 L487.2 146.2 L487.5 146.2 L487.8 146.1 L488 146.1 L488.2 146.1 L488.5 146.1 L488.8 146.1 L489 146.1 L489.2 146.1 L489.5 146.1 L489.8 146.1 L490 146.1 L490.2 146.1 L490.5 146.1 L490.8 146.1 L491 146.1 L491.2 146.1 L491.5 146.1 L491.8 146.1 L492 146 L492.2 146 L492.5 146 L492.8 146 L493 146 L493.2 146 L493.5 146 L493.8 146 L494 146 L494.2 146 L494.5 146 L494.8 146 L495 146 L495.2 146 L495.5 146 L495.8 146 L496 146 L496.2 145.9 L496.5 145.9 L496.8 145.9 L497 145.9 L497.2 145.9 L497.5 145.9 L497.8 145.9 L498 145.9 L498.2 145.9 L498.5 145.9 L498.8 145.9 L499 145.9 L499.2 145.9 L499.5 145.9 L499.8 145.9 L500 145.9 L500.2 145.9 L500.5 145.8 L500.8 145.8 L501 145.8 L501.2 145.8 L501.5 145.8 L501.8 145.8 L502 145.8 L502.2 145.8 L502.5 145.8 L502.8 145.8 L503 145.8 L503.2 145.8 L503.5 145.8 L503.8 145.8 L504 145.8 L504.2 145.8 L504.5 145.8 L504.8 145.7 L505 145.7 L505.2 145.7 L505.5 145.7 L505.8 145.7 L506 145.7 L506.2 145.7 L506.5 145.7 L506.8 145.7 L507 145.7 L507.2 145.7 L507.5 145.7 L507.8 145.7 L508 145.7 L508.2 145.7 L508.5 145.7 L508.8 145.7 L509 145.6 L509.2 145.6 L509.5 145.6 L509.8 145.6 L510 145.6 L510.2 145.6 L510.5 145.6 L510.8 145.6 L511 145.6 L511.2 145.6 L511.5 145.6 L511.8 145.6 L512 145.6 L512.2 145.6 L512.5 145.6 L512.8 145.6 L513 145.5 L513.2 145.5 L513.5 145.5 L513.8 145.5 L514 145.5 L514.2 145.5 L514.5 145.5 L514.8 145.5 L515 145.5 L515.2 145.5 L515.5 145.5 L515.8 145.5 L516 145.5 L516.2 145.5 L516.5 145.5 L516.8 145.5 L517 145.4 L517.2 145.4 L517.5 145.4 L517.8 145.4 L518 145.4 L518.2 145.4 L518.5 145.4 L518.8 145.4 L519 145.4 L519.2 145.4 L519.5 145.4 L519.8 145.4 L520 145.4 L520.2 145.4 L520.5 145.4 L520.8 145.4 L521 145.3 L521.2 145.3 L521.5 145.3 L521.8 145.3 L522 145.3 L522.2 145.3 L522.5 145.3 L522.8 145.3 L523 145.3 L523.2 145.3 L523.5 145.3 L523.8 145.3 L524 145.3 L524.2 145.3 L524.5 145.3 L524.8 145.3 L525 145.2 L525.2 145.2 L525.5 145.2 L525.8 145.2 L526 145.2 L526.2 145.2 L526.5 145.2 L526.8 145.2 L527 145.2 L527.2 145.2 L527.5 145.2 L527.8 145.2 L528 145.2 L528.2 145.2 L528.5 145.2 L528.8 145.1 L529 145.1 L529.2 145.1 L529.5 145.1 L529.8 145.1 L530 145.1 L530.2 145.1 L530.5 145.1 L530.8 145.1 L531 145.1 L531.2 145.1 L531.5 145.1 L531.8 145.1 L532 145.1 L532.2 145.1 L532.5 145.1 L532.8 145 L533 145 L533.2 145 L533.5 145 L533.8 145 L534 145 L534.2 145 L534.5 145 L534.8 145 L535 145 L535.2 145 L535.5 145 L535.8 145 L536 145 L536.2 145 L536.5 144.9 L536.8 144.9 L537 144.9 L537.2 144.9 L537.5 144.9 L537.8 144.9 L538 144.9 L538.2 144.9 L538.5 144.9 L538.8 144.9 L539 144.9 L539.2 144.9 L539.5 144.9 L539.8 144.9 L540 144.9 L540.2 144.8 L540.5 144.8 L540.8 144.8 L541 144.8 L541.2 144.8 L541.5 144.8 L541.8 144.8" stroke="#f0a21e" stroke-width="1.6" fill="none" stroke-linejoin="round"/>
<path d="M312 148.4 L312.2 148.4 L312.5 148.4 L312.8 148.3 L313 148.3 L313.2 148.3 L313.5 148.3 L313.8 148.3 L314 148.3 L314.2 148.3 L314.5 148.2 L314.8 148.2 L315 148.2 L315.2 148.2 L315.5 148.2 L315.8 148.2 L316 148.2 L316.2 148.1 L316.5 148.1 L316.8 148.1 L317 148.1 L317.2 148.1 L317.5 148.1 L317.8 148 L318 148 L318.2 148 L318.5 148 L318.8 148 L319 148 L319.2 147.9 L319.5 147.9 L319.8 147.9 L320 147.9 L320.2 147.9 L320.5 147.8 L320.8 147.8 L321 147.8 L321.2 147.8 L321.5 147.8 L321.8 147.8 L322 147.7 L322.2 147.7 L322.5 147.7 L322.8 147.7 L323 147.6 L323.2 147.6 L323.5 147.6 L323.8 147.6 L324 147.6 L324.2 147.5 L324.5 147.5 L324.8 147.5 L325 147.5 L325.2 147.4 L325.5 147.4 L325.8 147.4 L326 147.4 L326.2 147.3 L326.5 147.3 L326.8 147.3 L327 147.2 L327.2 147.2 L327.5 147.2 L327.8 147.1 L328 147.1 L328.2 147.1 L328.5 147 L328.8 147 L329 146.9 L329.2 146.9 L329.5 146.9 L329.8 146.8 L330 146.8 L330.2 146.7 L330.5 146.6 L330.8 146.6 L331 146.5 L331.2 146.5 L331.5 146.4 L331.8 146.3 L332 146.2 L332.2 146.2 L332.5 146.1 L332.8 146 L333 145.9 L333.2 145.8 L333.5 145.7 L333.8 145.6 L334 145.4 L334.2 145.3 L334.5 145.2 L334.8 145 L335 144.9 L335.2 144.7 L335.5 144.5 L335.8 144.3 L336 144.1 L336.2 143.9 L336.5 143.7 L336.8 143.5 L337 143.2 L337.2 143 L337.5 142.7 L337.8 142.4 L338 142.1 L338.2 141.8 L338.5 141.4 L338.8 141 L339 140.6 L339.2 140.2 L339.5 139.8 L339.8 139.3 L340 138.9 L340.2 138.4 L340.5 137.8 L340.8 137.3 L341 136.7 L341.2 136.1 L341.5 135.4 L341.8 134.7 L342 134 L342.2 133.3 L342.5 132.5 L342.8 131.7 L343 130.8 L343.2 129.9 L343.5 129 L343.8 128.1 L344 127.1 L344.2 126 L344.5 124.9 L344.8 123.8 L345 122.7 L345.2 121.5 L345.5 120.2 L345.8 118.9 L346 117.6 L346.2 116.2 L346.5 114.8 L346.8 113.4 L347 111.9 L347.2 110.3 L347.5 108.8 L347.8 107.1 L348 105.5 L348.2 103.8 L348.5 102.1 L348.8 100.3 L349 98.5 L349.2 96.6 L349.5 94.7 L349.8 92.8 L350 90.9 L350.2 88.9 L350.5 86.9 L350.8 84.9 L351 82.9 L351.2 80.8 L351.5 78.7 L351.8 76.6 L352 74.5 L352.2 72.4 L352.5 70.3 L352.8 68.1 L353 66 L353.2 63.9 L353.5 61.7 L353.8 59.6 L354 57.5 L354.2 55.4 L354.5 53.3 L354.8 51.3 L355 49.3 L355.2 47.3 L355.5 45.3 L355.8 43.3 L356 41.5 L356.2 39.6 L356.5 37.8 L356.8 36 L357 34.3 L357.2 32.7 L357.5 31.1 L357.8 29.6 L358 28.1 L358.2 26.7 L358.5 25.4 L358.8 24.1 L359 23 L359.2 21.9 L359.5 20.8 L359.8 19.9 L360 19.1 L360.2 18.3 L360.5 17.6 L360.8 17 L361 16.5 L361.2 16.1 L361.5 15.7 L361.8 15.5 L362 15.3 L362.2 15.2 L362.5 15.2 L362.8 15.3 L363 15.4 L363.2 15.7 L363.5 16 L363.8 16.4 L364 16.8 L364.2 17.4 L364.5 18 L364.8 18.6 L365 19.4 L365.2 20.2 L365.5 21 L365.8 21.9 L366 22.9 L366.2 23.9 L366.5 24.9 L366.8 26 L367 27.1 L367.2 28.3 L367.5 29.5 L367.8 30.7 L368 32 L368.2 33.2 L368.5 34.5 L368.8 35.9 L369 37.2 L369.2 38.6 L369.5 39.9 L369.8 41.3 L370 42.7 L370.2 44 L370.5 45.4 L370.8 46.8 L371 48.2 L371.2 49.6 L371.5 51 L371.8 52.4 L372 53.7 L372.2 55.1 L372.5 56.4 L372.8 57.8 L373 59.1 L373.2 60.4 L373.5 61.7 L373.8 63 L374 64.3 L374.2 65.5 L374.5 66.8 L374.8 68 L375 69.2 L375.2 70.4 L375.5 71.6 L375.8 72.8 L376 73.9 L376.2 75 L376.5 76.2 L376.8 77.3 L377 78.3 L377.2 79.4 L377.5 80.5 L377.8 81.5 L378 82.5 L378.2 83.5 L378.5 84.5 L378.8 85.5 L379 86.5 L379.2 87.5 L379.5 88.4 L379.8 89.3 L380 90.3 L380.2 91.2 L380.5 92.1 L380.8 93 L381 93.9 L381.2 94.7 L381.5 95.6 L381.8 96.5 L382 97.3 L382.2 98.1 L382.5 99 L382.8 99.8 L383 100.6 L383.2 101.4 L383.5 102.2 L383.8 103 L384 103.8 L384.2 104.6 L384.5 105.4 L384.8 106.1 L385 106.9 L385.2 107.6 L385.5 108.4 L385.8 109.1 L386 109.9 L386.2 110.6 L386.5 111.3 L386.8 112 L387 112.7 L387.2 113.4 L387.5 114.1 L387.8 114.8 L388 115.5 L388.2 116.2 L388.5 116.9 L388.8 117.5 L389 118.2 L389.2 118.9 L389.5 119.5 L389.8 120.1 L390 120.8 L390.2 121.4 L390.5 122 L390.8 122.6 L391 123.2 L391.2 123.8 L391.5 124.4 L391.8 125 L392 125.6 L392.2 126.1 L392.5 126.7 L392.8 127.2 L393 127.7 L393.2 128.3 L393.5 128.8 L393.8 129.3 L394 129.8 L394.2 130.3 L394.5 130.8 L394.8 131.3 L395 131.7 L395.2 132.2 L395.5 132.6 L395.8 133.1 L396 133.5 L396.2 133.9 L396.5 134.3 L396.8 134.7 L397 135.1 L397.2 135.5 L397.5 135.9 L397.8 136.2 L398 136.6 L398.2 136.9 L398.5 137.3 L398.8 137.6 L399 137.9 L399.2 138.2 L399.5 138.5 L399.8 138.8 L400 139.1 L400.2 139.4 L400.5 139.6 L400.8 139.9 L401 140.2 L401.2 140.4 L401.5 140.6 L401.8 140.9 L402 141.1 L402.2 141.3 L402.5 141.5 L402.8 141.7 L403 141.9 L403.2 142.1 L403.5 142.3 L403.8 142.5 L404 142.6 L404.2 142.8 L404.5 143 L404.8 143.1 L405 143.2 L405.2 143.4 L405.5 143.5 L405.8 143.7 L406 143.8 L406.2 143.9 L406.5 144 L406.8 144.1 L407 144.2 L407.2 144.3 L407.5 144.4 L407.8 144.5 L408 144.6 L408.2 144.7 L408.5 144.8 L408.8 144.9 L409 144.9 L409.2 145 L409.5 145.1 L409.8 145.1 L410 145.2 L410.2 145.3 L410.5 145.3 L410.8 145.4 L411 145.4 L411.2 145.5 L411.5 145.5 L411.8 145.6 L412 145.6 L412.2 145.6 L412.5 145.7 L412.8 145.7 L413 145.8 L413.2 145.8 L413.5 145.8 L413.8 145.8 L414 145.9 L414.2 145.9 L414.5 145.9 L414.8 146 L415 146 L415.2 146 L415.5 146 L415.8 146 L416 146.1 L416.2 146.1 L416.5 146.1 L416.8 146.1 L417 146.1 L417.2 146.1 L417.5 146.1 L417.8 146.1 L418 146.2 L418.2 146.2 L418.5 146.2 L418.8 146.2 L419 146.2 L419.2 146.2 L419.5 146.2 L419.8 146.2 L420 146.2 L420.2 146.2 L420.5 146.2 L420.8 146.2 L421 146.2 L421.2 146.2 L421.5 146.2 L421.8 146.2 L422 146.2 L422.2 146.2 L422.5 146.2 L422.8 146.3 L423 146.3 L423.2 146.3 L423.5 146.3 L423.8 146.3 L424 146.3 L424.2 146.3 L424.5 146.2 L424.8 146.2 L425 146.2 L425.2 146.2 L425.5 146.2 L425.8 146.2 L426 146.2 L426.2 146.2 L426.5 146.2 L426.8 146.2 L427 146.2 L427.2 146.2 L427.5 146.2 L427.8 146.2 L428 146.2 L428.2 146.2 L428.5 146.2 L428.8 146.2 L429 146.2 L429.2 146.2 L429.5 146.2 L429.8 146.2 L430 146.2 L430.2 146.2 L430.5 146.2 L430.8 146.2 L431 146.1 L431.2 146.1 L431.5 146.1 L431.8 146.1 L432 146.1 L432.2 146.1 L432.5 146.1 L432.8 146.1 L433 146.1 L433.2 146.1 L433.5 146.1 L433.8 146.1 L434 146.1 L434.2 146.1 L434.5 146 L434.8 146 L435 146 L435.2 146 L435.5 146 L435.8 146 L436 146 L436.2 146 L436.5 146 L436.8 146 L437 145.9 L437.2 145.9 L437.5 145.9 L437.8 145.9 L438 145.9 L438.2 145.9 L438.5 145.9 L438.8 145.9 L439 145.9 L439.2 145.8 L439.5 145.8 L439.8 145.8 L440 145.8 L440.2 145.8 L440.5 145.8 L440.8 145.8 L441 145.8 L441.2 145.7 L441.5 145.7 L441.8 145.7 L442 145.7 L442.2 145.7 L442.5 145.7 L442.8 145.7 L443 145.6 L443.2 145.6 L443.5 145.6 L443.8 145.6 L444 145.6 L444.2 145.6 L444.5 145.5 L444.8 145.5 L445 145.5 L445.2 145.5 L445.5 145.5 L445.8 145.5 L446 145.4 L446.2 145.4 L446.5 145.4 L446.8 145.4 L447 145.4 L447.2 145.3 L447.5 145.3 L447.8 145.3 L448 145.3 L448.2 145.3 L448.5 145.2 L448.8 145.2 L449 145.2 L449.2 145.2 L449.5 145.1 L449.8 145.1 L450 145.1 L450.2 145.1 L450.5 145 L450.8 145 L451 145 L451.2 145 L451.5 144.9 L451.8 144.9 L452 144.9 L452.2 144.9 L452.5 144.8 L452.8 144.8 L453 144.8 L453.2 144.7 L453.5 144.7 L453.8 144.7 L454 144.7 L454.2 144.6 L454.5 144.6 L454.8 144.6 L455 144.5 L455.2 144.5 L455.5 144.5 L455.8 144.4 L456 144.4 L456.2 144.4 L456.5 144.3 L456.8 144.3 L457 144.2 L457.2 144.2 L457.5 144.2 L457.8 144.1 L458 144.1 L458.2 144.1 L458.5 144 L458.8 144 L459 143.9 L459.2 143.9 L459.5 143.9 L459.8 143.8 L460 143.8 L460.2 143.7 L460.5 143.7 L460.8 143.6 L461 143.6 L461.2 143.5 L461.5 143.5 L461.8 143.5 L462 143.4 L462.2 143.4 L462.5 143.3 L462.8 143.3 L463 143.2 L463.2 143.2 L463.5 143.1 L463.8 143.1 L464 143 L464.2 143 L464.5 142.9 L464.8 142.9 L465 142.8 L465.2 142.7 L465.5 142.7 L465.8 142.6 L466 142.6 L466.2 142.5 L466.5 142.5 L466.8 142.4 L467 142.3 L467.2 142.3 L467.5 142.2 L467.8 142.2 L468 142.1 L468.2 142 L468.5 142 L468.8 141.9 L469 141.9 L469.2 141.8 L469.5 141.7 L469.8 141.7 L470 141.6 L470.2 141.5 L470.5 141.5 L470.8 141.4 L471 141.3 L471.2 141.3 L471.5 141.2 L471.8 141.1 L472 141 L472.2 141 L472.5 140.9 L472.8 140.8 L473 140.8 L473.2 140.7 L473.5 140.6 L473.8 140.5 L474 140.5 L474.2 140.4 L474.5 140.3 L474.8 140.3 L475 140.2 L475.2 140.1 L475.5 140 L475.8 140 L476 139.9 L476.2 139.8 L476.5 139.7 L476.8 139.7 L477 139.6 L477.2 139.5 L477.5 139.4 L477.8 139.3 L478 139.3 L478.2 139.2 L478.5 139.1 L478.8 139 L479 139 L479.2 138.9 L479.5 138.8 L479.8 138.7 L480 138.7 L480.2 138.6 L480.5 138.5 L480.8 138.4 L481 138.3 L481.2 138.3 L481.5 138.2 L481.8 138.1 L482 138 L482.2 138 L482.5 137.9 L482.8 137.8 L483 137.8 L483.2 137.7 L483.5 137.6 L483.8 137.5 L484 137.5 L484.2 137.4 L484.5 137.3 L484.8 137.3 L485 137.2 L485.2 137.1 L485.5 137.1 L485.8 137 L486 137 L486.2 136.9 L486.5 136.8 L486.8 136.8 L487 136.7 L487.2 136.7 L487.5 136.6 L487.8 136.6 L488 136.5 L488.2 136.5 L488.5 136.4 L488.8 136.4 L489 136.3 L489.2 136.3 L489.5 136.2 L489.8 136.2 L490 136.2 L490.2 136.1 L490.5 136.1 L490.8 136 L491 136 L491.2 136 L491.5 136 L491.8 135.9 L492 135.9 L492.2 135.9 L492.5 135.9 L492.8 135.9 L493 135.8 L493.2 135.8 L493.5 135.8 L493.8 135.8 L494 135.8 L494.2 135.8 L494.5 135.8 L494.8 135.8 L495 135.8 L495.2 135.8 L495.5 135.8 L495.8 135.8 L496 135.8 L496.2 135.8 L496.5 135.9 L496.8 135.9 L497 135.9 L497.2 135.9 L497.5 135.9 L497.8 136 L498 136 L498.2 136 L498.5 136 L498.8 136.1 L499 136.1 L499.2 136.1 L499.5 136.2 L499.8 136.2 L500 136.3 L500.2 136.3 L500.5 136.3 L500.8 136.4 L501 136.4 L501.2 136.5 L501.5 136.5 L501.8 136.6 L502 136.6 L502.2 136.7 L502.5 136.7 L502.8 136.8 L503 136.8 L503.2 136.9 L503.5 137 L503.8 137 L504 137.1 L504.2 137.1 L504.5 137.2 L504.8 137.2 L505 137.3 L505.2 137.4 L505.5 137.4 L505.8 137.5 L506 137.6 L506.2 137.6 L506.5 137.7 L506.8 137.7 L507 137.8 L507.2 137.9 L507.5 137.9 L507.8 138 L508 138.1 L508.2 138.1 L508.5 138.2 L508.8 138.3 L509 138.3 L509.2 138.4 L509.5 138.5 L509.8 138.5 L510 138.6 L510.2 138.7 L510.5 138.7 L510.8 138.8 L511 138.9 L511.2 138.9 L511.5 139 L511.8 139.1 L512 139.1 L512.2 139.2 L512.5 139.3 L512.8 139.3 L513 139.4 L513.2 139.5 L513.5 139.5 L513.8 139.6 L514 139.6 L514.2 139.7 L514.5 139.8 L514.8 139.8 L515 139.9 L515.2 139.9 L515.5 140 L515.8 140.1 L516 140.1 L516.2 140.2 L516.5 140.2 L516.8 140.3 L517 140.4 L517.2 140.4 L517.5 140.5 L517.8 140.5 L518 140.6 L518.2 140.6 L518.5 140.7 L518.8 140.7 L519 140.8 L519.2 140.9 L519.5 140.9 L519.8 141 L520 141 L520.2 141.1 L520.5 141.1 L520.8 141.2 L521 141.2 L521.2 141.3 L521.5 141.3 L521.8 141.3 L522 141.4 L522.2 141.4 L522.5 141.5 L522.8 141.5 L523 141.6 L523.2 141.6 L523.5 141.7 L523.8 141.7 L524 141.7 L524.2 141.8 L524.5 141.8 L524.8 141.9 L525 141.9 L525.2 141.9 L525.5 142 L525.8 142 L526 142.1 L526.2 142.1 L526.5 142.1 L526.8 142.2 L527 142.2 L527.2 142.2 L527.5 142.3 L527.8 142.3 L528 142.3 L528.2 142.4 L528.5 142.4 L528.8 142.4 L529 142.5 L529.2 142.5 L529.5 142.5 L529.8 142.5 L530 142.6 L530.2 142.6 L530.5 142.6 L530.8 142.7 L531 142.7 L531.2 142.7 L531.5 142.7 L531.8 142.8 L532 142.8 L532.2 142.8 L532.5 142.8 L532.8 142.9 L533 142.9 L533.2 142.9 L533.5 142.9 L533.8 142.9 L534 143 L534.2 143 L534.5 143 L534.8 143 L535 143 L535.2 143.1 L535.5 143.1 L535.8 143.1 L536 143.1 L536.2 143.1 L536.5 143.1 L536.8 143.2 L537 143.2 L537.2 143.2 L537.5 143.2 L537.8 143.2 L538 143.2 L538.2 143.2 L538.5 143.3 L538.8 143.3 L539 143.3 L539.2 143.3 L539.5 143.3 L539.8 143.3 L540 143.3 L540.2 143.3 L540.5 143.4 L540.8 143.4 L541 143.4 L541.2 143.4 L541.5 143.4 L541.8 143.4" stroke="#f01010" stroke-width="1.6" fill="none" stroke-linejoin="round"/>
<path d="M310.6 145.1a1.85 1.85 0 1 0 3.7 0a1.85 1.85 0 1 0 -3.7 0M313.1 149.5a1.85 1.85 0 1 0 3.7 0a1.85 1.85 0 1 0 -3.7 0M315.6 148a1.85 1.85 0 1 0 3.7 0a1.85 1.85 0 1 0 -3.7 0M318.1 144.8a1.85 1.85 0 1 0 3.7 0a1.85 1.85 0 1 0 -3.7 0M320.6 150.9a1.85 1.85 0 1 0 3.7 0a1.85 1.85 0 1 0 -3.7 0M323.1 148.4a1.85 1.85 0 1 0 3.7 0a1.85 1.85 0 1 0 -3.7 0M325.6 144.1a1.85 1.85 0 1 0 3.7 0a1.85 1.85 0 1 0 -3.7 0M328.1 148.3a1.85 1.85 0 1 0 3.7 0a1.85 1.85 0 1 0 -3.7 0M330.6 144.9a1.85 1.85 0 1 0 3.7 0a1.85 1.85 0 1 0 -3.7 0M333.1 140.2a1.85 1.85 0 1 0 3.7 0a1.85 1.85 0 1 0 -3.7 0M335.6 140.9a1.85 1.85 0 1 0 3.7 0a1.85 1.85 0 1 0 -3.7 0M338.1 139.5a1.85 1.85 0 1 0 3.7 0a1.85 1.85 0 1 0 -3.7 0M340.6 134.1a1.85 1.85 0 1 0 3.7 0a1.85 1.85 0 1 0 -3.7 0M343.1 123.1a1.85 1.85 0 1 0 3.7 0a1.85 1.85 0 1 0 -3.7 0M345.6 108.9a1.85 1.85 0 1 0 3.7 0a1.85 1.85 0 1 0 -3.7 0M348.1 92.1a1.85 1.85 0 1 0 3.7 0a1.85 1.85 0 1 0 -3.7 0M350.6 69.7a1.85 1.85 0 1 0 3.7 0a1.85 1.85 0 1 0 -3.7 0M353.1 52.3a1.85 1.85 0 1 0 3.7 0a1.85 1.85 0 1 0 -3.7 0M355.6 31.5a1.85 1.85 0 1 0 3.7 0a1.85 1.85 0 1 0 -3.7 0M358.1 19.8a1.85 1.85 0 1 0 3.7 0a1.85 1.85 0 1 0 -3.7 0M360.6 16.6a1.85 1.85 0 1 0 3.7 0a1.85 1.85 0 1 0 -3.7 0M363.1 16.6a1.85 1.85 0 1 0 3.7 0a1.85 1.85 0 1 0 -3.7 0M365.6 27.6a1.85 1.85 0 1 0 3.7 0a1.85 1.85 0 1 0 -3.7 0M368.1 46.6a1.85 1.85 0 1 0 3.7 0a1.85 1.85 0 1 0 -3.7 0M370.6 57.3a1.85 1.85 0 1 0 3.7 0a1.85 1.85 0 1 0 -3.7 0M373.1 68.5a1.85 1.85 0 1 0 3.7 0a1.85 1.85 0 1 0 -3.7 0M375.6 81.3a1.85 1.85 0 1 0 3.7 0a1.85 1.85 0 1 0 -3.7 0M378.1 89a1.85 1.85 0 1 0 3.7 0a1.85 1.85 0 1 0 -3.7 0M380.6 99.7a1.85 1.85 0 1 0 3.7 0a1.85 1.85 0 1 0 -3.7 0M383.1 105.1a1.85 1.85 0 1 0 3.7 0a1.85 1.85 0 1 0 -3.7 0M385.6 114.9a1.85 1.85 0 1 0 3.7 0a1.85 1.85 0 1 0 -3.7 0M388.1 116.7a1.85 1.85 0 1 0 3.7 0a1.85 1.85 0 1 0 -3.7 0M390.6 130.1a1.85 1.85 0 1 0 3.7 0a1.85 1.85 0 1 0 -3.7 0M393.1 130.4a1.85 1.85 0 1 0 3.7 0a1.85 1.85 0 1 0 -3.7 0M395.6 131.7a1.85 1.85 0 1 0 3.7 0a1.85 1.85 0 1 0 -3.7 0M398.1 138.5a1.85 1.85 0 1 0 3.7 0a1.85 1.85 0 1 0 -3.7 0M400.6 140.6a1.85 1.85 0 1 0 3.7 0a1.85 1.85 0 1 0 -3.7 0M403.1 143.6a1.85 1.85 0 1 0 3.7 0a1.85 1.85 0 1 0 -3.7 0M405.6 141.4a1.85 1.85 0 1 0 3.7 0a1.85 1.85 0 1 0 -3.7 0M408.1 146.2a1.85 1.85 0 1 0 3.7 0a1.85 1.85 0 1 0 -3.7 0M410.6 150.4a1.85 1.85 0 1 0 3.7 0a1.85 1.85 0 1 0 -3.7 0M413.1 142.6a1.85 1.85 0 1 0 3.7 0a1.85 1.85 0 1 0 -3.7 0M415.6 147a1.85 1.85 0 1 0 3.7 0a1.85 1.85 0 1 0 -3.7 0M418.1 145.4a1.85 1.85 0 1 0 3.7 0a1.85 1.85 0 1 0 -3.7 0M420.6 146.8a1.85 1.85 0 1 0 3.7 0a1.85 1.85 0 1 0 -3.7 0M423.1 141.6a1.85 1.85 0 1 0 3.7 0a1.85 1.85 0 1 0 -3.7 0M425.6 143.2a1.85 1.85 0 1 0 3.7 0a1.85 1.85 0 1 0 -3.7 0M428.1 147.4a1.85 1.85 0 1 0 3.7 0a1.85 1.85 0 1 0 -3.7 0M430.6 146a1.85 1.85 0 1 0 3.7 0a1.85 1.85 0 1 0 -3.7 0M433.1 150.3a1.85 1.85 0 1 0 3.7 0a1.85 1.85 0 1 0 -3.7 0M435.6 144.1a1.85 1.85 0 1 0 3.7 0a1.85 1.85 0 1 0 -3.7 0M438.1 146.3a1.85 1.85 0 1 0 3.7 0a1.85 1.85 0 1 0 -3.7 0M440.6 150.4a1.85 1.85 0 1 0 3.7 0a1.85 1.85 0 1 0 -3.7 0M443.1 143.5a1.85 1.85 0 1 0 3.7 0a1.85 1.85 0 1 0 -3.7 0M445.6 143a1.85 1.85 0 1 0 3.7 0a1.85 1.85 0 1 0 -3.7 0M448.1 145a1.85 1.85 0 1 0 3.7 0a1.85 1.85 0 1 0 -3.7 0M450.6 144.7a1.85 1.85 0 1 0 3.7 0a1.85 1.85 0 1 0 -3.7 0M453.1 146.7a1.85 1.85 0 1 0 3.7 0a1.85 1.85 0 1 0 -3.7 0M455.6 144.5a1.85 1.85 0 1 0 3.7 0a1.85 1.85 0 1 0 -3.7 0M458.1 141.8a1.85 1.85 0 1 0 3.7 0a1.85 1.85 0 1 0 -3.7 0M460.6 143.9a1.85 1.85 0 1 0 3.7 0a1.85 1.85 0 1 0 -3.7 0M463.1 147.5a1.85 1.85 0 1 0 3.7 0a1.85 1.85 0 1 0 -3.7 0M465.6 145.5a1.85 1.85 0 1 0 3.7 0a1.85 1.85 0 1 0 -3.7 0M468.1 136.9a1.85 1.85 0 1 0 3.7 0a1.85 1.85 0 1 0 -3.7 0M470.6 140.5a1.85 1.85 0 1 0 3.7 0a1.85 1.85 0 1 0 -3.7 0M473.1 137.9a1.85 1.85 0 1 0 3.7 0a1.85 1.85 0 1 0 -3.7 0M475.6 141a1.85 1.85 0 1 0 3.7 0a1.85 1.85 0 1 0 -3.7 0M478.1 138.2a1.85 1.85 0 1 0 3.7 0a1.85 1.85 0 1 0 -3.7 0M480.6 142.6a1.85 1.85 0 1 0 3.7 0a1.85 1.85 0 1 0 -3.7 0M483.1 139.6a1.85 1.85 0 1 0 3.7 0a1.85 1.85 0 1 0 -3.7 0M485.6 138.9a1.85 1.85 0 1 0 3.7 0a1.85 1.85 0 1 0 -3.7 0M488.1 136.6a1.85 1.85 0 1 0 3.7 0a1.85 1.85 0 1 0 -3.7 0M490.6 135.8a1.85 1.85 0 1 0 3.7 0a1.85 1.85 0 1 0 -3.7 0M493.1 136.7a1.85 1.85 0 1 0 3.7 0a1.85 1.85 0 1 0 -3.7 0M495.6 139.3a1.85 1.85 0 1 0 3.7 0a1.85 1.85 0 1 0 -3.7 0M498.1 137.6a1.85 1.85 0 1 0 3.7 0a1.85 1.85 0 1 0 -3.7 0M500.6 135.8a1.85 1.85 0 1 0 3.7 0a1.85 1.85 0 1 0 -3.7 0M503.1 140.6a1.85 1.85 0 1 0 3.7 0a1.85 1.85 0 1 0 -3.7 0M505.6 138.4a1.85 1.85 0 1 0 3.7 0a1.85 1.85 0 1 0 -3.7 0M508.1 138.4a1.85 1.85 0 1 0 3.7 0a1.85 1.85 0 1 0 -3.7 0M510.6 137.2a1.85 1.85 0 1 0 3.7 0a1.85 1.85 0 1 0 -3.7 0M513.1 138.4a1.85 1.85 0 1 0 3.7 0a1.85 1.85 0 1 0 -3.7 0M515.6 138.8a1.85 1.85 0 1 0 3.7 0a1.85 1.85 0 1 0 -3.7 0M518.1 136.3a1.85 1.85 0 1 0 3.7 0a1.85 1.85 0 1 0 -3.7 0M520.6 144.1a1.85 1.85 0 1 0 3.7 0a1.85 1.85 0 1 0 -3.7 0M523.1 143.4a1.85 1.85 0 1 0 3.7 0a1.85 1.85 0 1 0 -3.7 0M525.6 141.7a1.85 1.85 0 1 0 3.7 0a1.85 1.85 0 1 0 -3.7 0M528.1 145.3a1.85 1.85 0 1 0 3.7 0a1.85 1.85 0 1 0 -3.7 0M530.6 144a1.85 1.85 0 1 0 3.7 0a1.85 1.85 0 1 0 -3.7 0M533.1 144a1.85 1.85 0 1 0 3.7 0a1.85 1.85 0 1 0 -3.7 0M535.6 138.5a1.85 1.85 0 1 0 3.7 0a1.85 1.85 0 1 0 -3.7 0M538.1 142.7a1.85 1.85 0 1 0 3.7 0a1.85 1.85 0 1 0 -3.7 0" stroke="#555555" stroke-width="0.75" fill="none"/>
<path d="M361.5 9V158.2" stroke="#3434ee" stroke-width="1.3" stroke-dasharray="1.9 1.3"/>
<path d="M377.5 9V158.2" stroke="#2cb42c" stroke-width="1.3" stroke-dasharray="1.9 1.3"/>
<path d="M495 9V158.2" stroke="#c83ce8" stroke-width="1.3" stroke-dasharray="1.9 1.3"/>
<text x="316.1" y="48.2" font-size="11.0" text-anchor="start" stroke="#1a1a1a" stroke-width="0.3" >B-B</text>
<path d="M339.1 44.8L349.7 44.8" stroke="#000" stroke-width="1.45"/>
<path d="M353.4 44.8L349.2 47.1L349.2 42.5Z" fill="#000"/>
<text x="411" y="106.8" font-size="11.0" text-anchor="start" stroke="#1a1a1a" stroke-width="0.3" >B-Mn</text>
<path d="M408.9 102.6L389.7 102.6" stroke="#000" stroke-width="1.45"/>
<path d="M386 102.6L390.2 100.3L390.2 104.9Z" fill="#000"/>
<text x="513.5" y="126.9" font-size="11.0" text-anchor="start" stroke="#1a1a1a" stroke-width="0.3" >B-O</text>
<path d="M512 124.1L502.9 127.7" stroke="#000" stroke-width="1.45"/>
<path d="M499.5 129.1L502.5 125.4L504.3 129.7Z" fill="#000"/>
<rect x="313.3" y="204.3" width="232.4" height="152" fill="none" stroke="#787878" stroke-width="1"/>
<path d="M316.1 356.3v3.8M316.1 204.3v-3.8M319.3 356.3v1.7M319.3 204.3v-1.7M322.6 356.3v1.7M322.6 204.3v-1.7M325.8 356.3v1.7M325.8 204.3v-1.7M329.1 356.3v1.7M329.1 204.3v-1.7M332.3 356.3v2.6M332.3 204.3v-2.6M335.6 356.3v1.7M335.6 204.3v-1.7M338.8 356.3v1.7M338.8 204.3v-1.7M342 356.3v1.7M342 204.3v-1.7M345.3 356.3v1.7M345.3 204.3v-1.7M348.5 356.3v2.6M348.5 204.3v-2.6M351.8 356.3v1.7M351.8 204.3v-1.7M355 356.3v1.7M355 204.3v-1.7M358.2 356.3v1.7M358.2 204.3v-1.7M361.5 356.3v1.7M361.5 204.3v-1.7M364.7 356.3v2.6M364.7 204.3v-2.6M368 356.3v1.7M368 204.3v-1.7M371.2 356.3v1.7M371.2 204.3v-1.7M374.5 356.3v1.7M374.5 204.3v-1.7M377.7 356.3v1.7M377.7 204.3v-1.7M380.9 356.3v3.8M380.9 204.3v-3.8M384.2 356.3v1.7M384.2 204.3v-1.7M387.4 356.3v1.7M387.4 204.3v-1.7M390.7 356.3v1.7M390.7 204.3v-1.7M393.9 356.3v1.7M393.9 204.3v-1.7M397.2 356.3v2.6M397.2 204.3v-2.6M400.4 356.3v1.7M400.4 204.3v-1.7M403.6 356.3v1.7M403.6 204.3v-1.7M406.9 356.3v1.7M406.9 204.3v-1.7M410.1 356.3v1.7M410.1 204.3v-1.7M413.4 356.3v2.6M413.4 204.3v-2.6M416.6 356.3v1.7M416.6 204.3v-1.7M419.8 356.3v1.7M419.8 204.3v-1.7M423.1 356.3v1.7M423.1 204.3v-1.7M426.3 356.3v1.7M426.3 204.3v-1.7M429.6 356.3v2.6M429.6 204.3v-2.6M432.8 356.3v1.7M432.8 204.3v-1.7M436.1 356.3v1.7M436.1 204.3v-1.7M439.3 356.3v1.7M439.3 204.3v-1.7M442.5 356.3v1.7M442.5 204.3v-1.7M445.8 356.3v3.8M445.8 204.3v-3.8M449 356.3v1.7M449 204.3v-1.7M452.3 356.3v1.7M452.3 204.3v-1.7M455.5 356.3v1.7M455.5 204.3v-1.7M458.7 356.3v1.7M458.7 204.3v-1.7M462 356.3v2.6M462 204.3v-2.6M465.2 356.3v1.7M465.2 204.3v-1.7M468.5 356.3v1.7M468.5 204.3v-1.7M471.7 356.3v1.7M471.7 204.3v-1.7M475 356.3v1.7M475 204.3v-1.7M478.2 356.3v2.6M478.2 204.3v-2.6M481.4 356.3v1.7M481.4 204.3v-1.7M484.7 356.3v1.7M484.7 204.3v-1.7M487.9 356.3v1.7M487.9 204.3v-1.7M491.2 356.3v1.7M491.2 204.3v-1.7M494.4 356.3v2.6M494.4 204.3v-2.6M497.7 356.3v1.7M497.7 204.3v-1.7M500.9 356.3v1.7M500.9 204.3v-1.7M504.1 356.3v1.7M504.1 204.3v-1.7M507.4 356.3v1.7M507.4 204.3v-1.7M510.6 356.3v3.8M510.6 204.3v-3.8M513.9 356.3v1.7M513.9 204.3v-1.7M517.1 356.3v1.7M517.1 204.3v-1.7M520.3 356.3v1.7M520.3 204.3v-1.7M523.6 356.3v1.7M523.6 204.3v-1.7M526.8 356.3v2.6M526.8 204.3v-2.6M530.1 356.3v1.7M530.1 204.3v-1.7M533.3 356.3v1.7M533.3 204.3v-1.7M536.6 356.3v1.7M536.6 204.3v-1.7M539.8 356.3v1.7M539.8 204.3v-1.7M543 356.3v2.6M543 204.3v-2.6" stroke="#787878" stroke-width="0.9" fill="none"/>
<text x="316.1" y="374.5" font-size="12.2" text-anchor="middle" stroke="#1a1a1a" stroke-width="0.3" >188</text>
<text x="380.9" y="374.5" font-size="12.2" text-anchor="middle" stroke="#1a1a1a" stroke-width="0.3" >192</text>
<text x="445.8" y="374.5" font-size="12.2" text-anchor="middle" stroke="#1a1a1a" stroke-width="0.3" >196</text>
<text x="510.6" y="374.5" font-size="12.2" text-anchor="middle" stroke="#1a1a1a" stroke-width="0.3" >200</text>
<text x="429.5" y="391.7" font-size="12.9" text-anchor="middle" stroke="#1a1a1a" stroke-width="0.3" >Binding energy (eV)</text>
<text x="0" y="0" font-size="12.9" text-anchor="middle" stroke="#1a1a1a" stroke-width="0.3" transform="translate(297.6 282.5) rotate(-90)">Intensity (a.u.)</text>
<text x="318" y="218.6" font-size="13.2" text-anchor="start" stroke="#1a1a1a" stroke-width="0.3" >(d)</text>
<text x="538.8" y="220.3" font-size="13.1" text-anchor="end" stroke="#1a1a1a" stroke-width="0.3" >B 1s</text>
<path d="M315 347.3 L315.2 347.3 L315.5 347.3 L315.8 347.3 L316 347.2 L316.2 347.2 L316.5 347.2 L316.8 347.2 L317 347.2 L317.2 347.2 L317.5 347.2 L317.8 347.2 L318 347.2 L318.2 347.2 L318.5 347.2 L318.8 347.2 L319 347.2 L319.2 347.1 L319.5 347.1 L319.8 347.1 L320 347.1 L320.2 347.1 L320.5 347.1 L320.8 347.1 L321 347.1 L321.2 347.1 L321.5 347.1 L321.8 347.1 L322 347.1 L322.2 347.1 L322.5 347 L322.8 347 L323 347 L323.2 347 L323.5 347 L323.8 347 L324 347 L324.2 347 L324.5 347 L324.8 347 L325 347 L325.2 347 L325.5 347 L325.8 347 L326 346.9 L326.2 346.9 L326.5 346.9 L326.8 346.9 L327 346.9 L327.2 346.9 L327.5 346.9 L327.8 346.9 L328 346.9 L328.2 346.9 L328.5 346.9 L328.8 346.9 L329 346.9 L329.2 346.8 L329.5 346.8 L329.8 346.8 L330 346.8 L330.2 346.8 L330.5 346.8 L330.8 346.8 L331 346.8 L331.2 346.8 L331.5 346.8 L331.8 346.8 L332 346.8 L332.2 346.8 L332.5 346.7 L332.8 346.7 L333 346.7 L333.2 346.7 L333.5 346.7 L333.8 346.7 L334 346.7 L334.2 346.7 L334.5 346.7 L334.8 346.7 L335 346.7 L335.2 346.7 L335.5 346.7 L335.8 346.7 L336 346.6 L336.2 346.6 L336.5 346.6 L336.8 346.6 L337 346.6 L337.2 346.6 L337.5 346.6 L337.8 346.6 L338 346.6 L338.2 346.6 L338.5 346.6 L338.8 346.6 L339 346.6 L339.2 346.5 L339.5 346.5 L339.8 346.5 L340 346.5 L340.2 346.5 L340.5 346.5 L340.8 346.5 L341 346.5 L341.2 346.5 L341.5 346.5 L341.8 346.5 L342 346.5 L342.2 346.5 L342.5 346.4 L342.8 346.4 L343 346.4 L343.2 346.4 L343.5 346.4 L343.8 346.4 L344 346.4 L344.2 346.4 L344.5 346.4 L344.8 346.4 L345 346.4 L345.2 346.4 L345.5 346.4 L345.8 346.3 L346 346.3 L346.2 346.3 L346.5 346.3 L346.8 346.3 L347 346.3 L347.2 346.3 L347.5 346.3 L347.8 346.3 L348 346.3 L348.2 346.3 L348.5 346.3 L348.8 346.3 L349 346.3 L349.2 346.2 L349.5 346.2 L349.8 346.2 L350 346.2 L350.2 346.2 L350.5 346.2 L350.8 346.2 L351 346.2 L351.2 346.2 L351.5 346.2 L351.8 346.2 L352 346.2 L352.2 346.2 L352.5 346.2 L352.8 346.1 L353 346.1 L353.2 346.1 L353.5 346.1 L353.8 346.1 L354 346.1 L354.2 346.1 L354.5 346.1 L354.8 346.1 L355 346.1 L355.2 346.1 L355.5 346.1 L355.8 346 L356 346 L356.2 346 L356.5 346 L356.8 346 L357 346 L357.2 346 L357.5 346 L357.8 345.9 L358 345.9 L358.2 345.9 L358.5 345.9 L358.8 345.9 L359 345.9 L359.2 345.8 L359.5 345.8 L359.8 345.8 L360 345.8 L360.2 345.7 L360.5 345.7 L360.8 345.7 L361 345.6 L361.2 345.6 L361.5 345.5 L361.8 345.5 L362 345.4 L362.2 345.4 L362.5 345.3 L362.8 345.3 L363 345.2 L363.2 345.1 L363.5 345 L363.8 344.9 L364 344.9 L364.2 344.8 L364.5 344.7 L364.8 344.5 L365 344.4 L365.2 344.3 L365.5 344.2 L365.8 344 L366 343.9 L366.2 343.7 L366.5 343.5 L366.8 343.4 L367 343.2 L367.2 343 L367.5 342.8 L367.8 342.5 L368 342.3 L368.2 342 L368.5 341.8 L368.8 341.5 L369 341.2 L369.2 340.9 L369.5 340.6 L369.8 340.2 L370 339.9 L370.2 339.5 L370.5 339.1 L370.8 338.7 L371 338.3 L371.2 337.9 L371.5 337.4 L371.8 337 L372 336.5 L372.2 336 L372.5 335.5 L372.8 335 L373 334.4 L373.2 333.9 L373.5 333.3 L373.8 332.7 L374 332.1 L374.2 331.5 L374.5 330.9 L374.8 330.2 L375 329.6 L375.2 328.9 L375.5 328.2 L375.8 327.5 L376 326.8 L376.2 326.1 L376.5 325.4 L376.8 324.7 L377 324 L377.2 323.3 L377.5 322.5 L377.8 321.8 L378 321.1 L378.2 320.3 L378.5 319.6 L378.8 318.9 L379 318.2 L379.2 317.5 L379.5 316.8 L379.8 316.1 L380 315.4 L380.2 314.8 L380.5 314.1 L380.8 313.5 L381 312.9 L381.2 312.3 L381.5 311.7 L381.8 311.2 L382 310.6 L382.2 310.1 L382.5 309.7 L382.8 309.2 L383 308.8 L383.2 308.4 L383.5 308.1 L383.8 307.7 L384 307.4 L384.2 307.2 L384.5 306.9 L384.8 306.8 L385 306.6 L385.2 306.5 L385.5 306.4 L385.8 306.4 L386 306.4 L386.2 306.4 L386.5 306.4 L386.8 306.5 L387 306.7 L387.2 306.9 L387.5 307.1 L387.8 307.3 L388 307.6 L388.2 307.9 L388.5 308.2 L388.8 308.6 L389 309 L389.2 309.5 L389.5 309.9 L389.8 310.4 L390 310.9 L390.2 311.5 L390.5 312.1 L390.8 312.6 L391 313.2 L391.2 313.9 L391.5 314.5 L391.8 315.2 L392 315.9 L392.2 316.6 L392.5 317.3 L392.8 318 L393 318.7 L393.2 319.4 L393.5 320.2 L393.8 320.9 L394 321.6 L394.2 322.4 L394.5 323.1 L394.8 323.9 L395 324.6 L395.2 325.3 L395.5 326.1 L395.8 326.8 L396 327.5 L396.2 328.2 L396.5 328.9 L396.8 329.6 L397 330.3 L397.2 331 L397.5 331.6 L397.8 332.2 L398 332.9 L398.2 333.5 L398.5 334.1 L398.8 334.7 L399 335.2 L399.2 335.8 L399.5 336.3 L399.8 336.9 L400 337.4 L400.2 337.8 L400.5 338.3 L400.8 338.8 L401 339.2 L401.2 339.6 L401.5 340 L401.8 340.4 L402 340.8 L402.2 341.2 L402.5 341.5 L402.8 341.8 L403 342.1 L403.2 342.4 L403.5 342.7 L403.8 343 L404 343.3 L404.2 343.5 L404.5 343.7 L404.8 343.9 L405 344.2 L405.2 344.3 L405.5 344.5 L405.8 344.7 L406 344.9 L406.2 345 L406.5 345.2 L406.8 345.3 L407 345.4 L407.2 345.5 L407.5 345.7 L407.8 345.8 L408 345.9 L408.2 345.9 L408.5 346 L408.8 346.1 L409 346.2 L409.2 346.2 L409.5 346.3 L409.8 346.4 L410 346.4 L410.2 346.5 L410.5 346.5 L410.8 346.5 L411 346.6 L411.2 346.6 L411.5 346.6 L411.8 346.7 L412 346.7 L412.2 346.7 L412.5 346.7 L412.8 346.7 L413 346.8 L413.2 346.8 L413.5 346.8 L413.8 346.8 L414 346.8 L414.2 346.8 L414.5 346.8 L414.8 346.8 L415 346.8 L415.2 346.8 L415.5 346.8 L415.8 346.8 L416 346.8 L416.2 346.8 L416.5 346.8 L416.8 346.8 L417 346.8 L417.2 346.8 L417.5 346.8 L417.8 346.8 L418 346.8 L418.2 346.8 L418.5 346.8 L418.8 346.8 L419 346.8 L419.2 346.8 L419.5 346.8 L419.8 346.8 L420 346.8 L420.2 346.8 L420.5 346.8 L420.8 346.8 L421 346.8 L421.2 346.7 L421.5 346.7 L421.8 346.7 L422 346.7 L422.2 346.7 L422.5 346.7 L422.8 346.7 L423 346.7 L423.2 346.7 L423.5 346.7 L423.8 346.7 L424 346.7 L424.2 346.7 L424.5 346.7 L424.8 346.7 L425 346.7 L425.2 346.6 L425.5 346.6 L425.8 346.6 L426 346.6 L426.2 346.6 L426.5 346.6 L426.8 346.6 L427 346.6 L427.2 346.6 L427.5 346.6 L427.8 346.6 L428 346.6 L428.2 346.6 L428.5 346.6 L428.8 346.5 L429 346.5 L429.2 346.5 L429.5 346.5 L429.8 346.5 L430 346.5 L430.2 346.5 L430.5 346.5 L430.8 346.5 L431 346.5 L431.2 346.5 L431.5 346.5 L431.8 346.5 L432 346.5 L432.2 346.4 L432.5 346.4 L432.8 346.4 L433 346.4 L433.2 346.4 L433.5 346.4 L433.8 346.4 L434 346.4 L434.2 346.4 L434.5 346.4 L434.8 346.4 L435 346.4 L435.2 346.4 L435.5 346.4 L435.8 346.3 L436 346.3 L436.2 346.3 L436.5 346.3 L436.8 346.3 L437 346.3 L437.2 346.3 L437.5 346.3 L437.8 346.3 L438 346.3 L438.2 346.3 L438.5 346.3 L438.8 346.3 L439 346.3 L439.2 346.2 L439.5 346.2 L439.8 346.2 L440 346.2 L440.2 346.2 L440.5 346.2 L440.8 346.2 L441 346.2 L441.2 346.2 L441.5 346.2 L441.8 346.2 L442 346.2 L442.2 346.2 L442.5 346.2 L442.8 346.1 L443 346.1 L443.2 346.1 L443.5 346.1 L443.8 346.1 L444 346.1 L444.2 346.1 L444.5 346.1 L444.8 346.1 L445 346.1 L445.2 346.1 L445.5 346.1 L445.8 346.1 L446 346.1 L446.2 346 L446.5 346 L446.8 346 L447 346 L447.2 346 L447.5 346 L447.8 346 L448 346 L448.2 346 L448.5 346 L448.8 346 L449 346 L449.2 346 L449.5 346 L449.8 346 L450 345.9 L450.2 345.9 L450.5 345.9 L450.8 345.9 L451 345.9 L451.2 345.9 L451.5 345.9 L451.8 345.9 L452 345.9 L452.2 345.9 L452.5 345.9 L452.8 345.9 L453 345.9 L453.2 345.9 L453.5 345.8 L453.8 345.8 L454 345.8 L454.2 345.8 L454.5 345.8 L454.8 345.8 L455 345.8 L455.2 345.8 L455.5 345.8 L455.8 345.8 L456 345.8 L456.2 345.8 L456.5 345.8 L456.8 345.8 L457 345.8 L457.2 345.7 L457.5 345.7 L457.8 345.7 L458 345.7 L458.2 345.7 L458.5 345.7 L458.8 345.7 L459 345.7 L459.2 345.7 L459.5 345.7 L459.8 345.7 L460 345.7 L460.2 345.7 L460.5 345.7 L460.8 345.7 L461 345.7 L461.2 345.7 L461.5 345.6 L461.8 345.6 L462 345.6 L462.2 345.6 L462.5 345.6 L462.8 345.6 L463 345.6 L463.2 345.6 L463.5 345.6 L463.8 345.6 L464 345.6 L464.2 345.6 L464.5 345.6 L464.8 345.6 L465 345.6 L465.2 345.6 L465.5 345.6 L465.8 345.6 L466 345.6 L466.2 345.6 L466.5 345.6 L466.8 345.6 L467 345.6 L467.2 345.6 L467.5 345.5 L467.8 345.5 L468 345.5 L468.2 345.5 L468.5 345.5 L468.8 345.5 L469 345.5 L469.2 345.5 L469.5 345.5 L469.8 345.5 L470 345.5 L470.2 345.5 L470.5 345.5 L470.8 345.5 L471 345.5 L471.2 345.5 L471.5 345.5 L471.8 345.5 L472 345.5 L472.2 345.5 L472.5 345.5 L472.8 345.5 L473 345.5 L473.2 345.5 L473.5 345.5 L473.8 345.5 L474 345.5 L474.2 345.5 L474.5 345.5 L474.8 345.5 L475 345.5 L475.2 345.5 L475.5 345.5 L475.8 345.5 L476 345.5 L476.2 345.5 L476.5 345.5 L476.8 345.5 L477 345.5 L477.2 345.5 L477.5 345.5 L477.8 345.5 L478 345.5 L478.2 345.5 L478.5 345.5 L478.8 345.5 L479 345.5 L479.2 345.5 L479.5 345.5 L479.8 345.5 L480 345.5 L480.2 345.5 L480.5 345.5 L480.8 345.5 L481 345.5 L481.2 345.5 L481.5 345.5 L481.8 345.5 L482 345.5 L482.2 345.5 L482.5 345.5 L482.8 345.5 L483 345.5 L483.2 345.5 L483.5 345.5 L483.8 345.5 L484 345.5 L484.2 345.5 L484.5 345.5 L484.8 345.5 L485 345.5 L485.2 345.5 L485.5 345.5 L485.8 345.4 L486 345.4 L486.2 345.4 L486.5 345.4 L486.8 345.4 L487 345.4 L487.2 345.4 L487.5 345.4 L487.8 345.4 L488 345.4 L488.2 345.4 L488.5 345.4 L488.8 345.4 L489 345.4 L489.2 345.4 L489.5 345.4 L489.8 345.4 L490 345.4 L490.2 345.4 L490.5 345.4 L490.8 345.4 L491 345.4 L491.2 345.4 L491.5 345.4 L491.8 345.4 L492 345.3 L492.2 345.3 L492.5 345.3 L492.8 345.3 L493 345.3 L493.2 345.3 L493.5 345.3 L493.8 345.3 L494 345.3 L494.2 345.3 L494.5 345.3 L494.8 345.3 L495 345.3 L495.2 345.3 L495.5 345.3 L495.8 345.3 L496 345.3 L496.2 345.3 L496.5 345.3 L496.8 345.3 L497 345.3 L497.2 345.3 L497.5 345.3 L497.8 345.3 L498 345.3 L498.2 345.3 L498.5 345.3 L498.8 345.3 L499 345.2 L499.2 345.2 L499.5 345.2 L499.8 345.2 L500 345.2 L500.2 345.2 L500.5 345.2 L500.8 345.2 L501 345.2 L501.2 345.2 L501.5 345.2 L501.8 345.2 L502 345.2 L502.2 345.2 L502.5 345.2 L502.8 345.2 L503 345.2 L503.2 345.2 L503.5 345.2 L503.8 345.2 L504 345.2 L504.2 345.2 L504.5 345.2 L504.8 345.2 L505 345.2 L505.2 345.2 L505.5 345.2 L505.8 345.2 L506 345.2 L506.2 345.1 L506.5 345.1 L506.8 345.1 L507 345.1 L507.2 345.1 L507.5 345.1 L507.8 345.1 L508 345.1 L508.2 345.1 L508.5 345.1 L508.8 345.1 L509 345.1 L509.2 345.1 L509.5 345.1 L509.8 345.1 L510 345.1 L510.2 345.1 L510.5 345.1 L510.8 345.1 L511 345.1 L511.2 345.1 L511.5 345.1 L511.8 345.1 L512 345 L512.2 345 L512.5 345 L512.8 345 L513 345 L513.2 345 L513.5 345 L513.8 345 L514 345 L514.2 345 L514.5 345 L514.8 345 L515 345 L515.2 345 L515.5 345 L515.8 345 L516 345 L516.2 345 L516.5 345 L516.8 344.9 L517 344.9 L517.2 344.9 L517.5 344.9 L517.8 344.9 L518 344.9 L518.2 344.9 L518.5 344.9 L518.8 344.9 L519 344.9 L519.2 344.9 L519.5 344.9 L519.8 344.9 L520 344.9 L520.2 344.9 L520.5 344.9 L520.8 344.8 L521 344.8 L521.2 344.8 L521.5 344.8 L521.8 344.8 L522 344.8 L522.2 344.8 L522.5 344.8 L522.8 344.8 L523 344.8 L523.2 344.8 L523.5 344.8 L523.8 344.8 L524 344.8 L524.2 344.8 L524.5 344.8 L524.8 344.7 L525 344.7 L525.2 344.7 L525.5 344.7 L525.8 344.7 L526 344.7 L526.2 344.7 L526.5 344.7 L526.8 344.7 L527 344.7 L527.2 344.7 L527.5 344.7 L527.8 344.7 L528 344.7 L528.2 344.7 L528.5 344.6 L528.8 344.6 L529 344.6 L529.2 344.6 L529.5 344.6 L529.8 344.6 L530 344.6 L530.2 344.6 L530.5 344.6 L530.8 344.6 L531 344.6 L531.2 344.6 L531.5 344.6 L531.8 344.6 L532 344.5 L532.2 344.5 L532.5 344.5 L532.8 344.5 L533 344.5 L533.2 344.5 L533.5 344.5 L533.8 344.5 L534 344.5 L534.2 344.5 L534.5 344.5 L534.8 344.5 L535 344.5 L535.2 344.5 L535.5 344.4 L535.8 344.4 L536 344.4 L536.2 344.4 L536.5 344.4 L536.8 344.4 L537 344.4 L537.2 344.4 L537.5 344.4 L537.8 344.4 L538 344.4 L538.2 344.4 L538.5 344.4 L538.8 344.4 L539 344.3 L539.2 344.3 L539.5 344.3 L539.8 344.3 L540 344.3 L540.2 344.3 L540.5 344.3 L540.8 344.3 L541 344.3 L541.2 344.3 L541.5 344.3 L541.8 344.3 L542 344.3 L542.2 344.3 L542.5 344.2 L542.8 344.2 L543 344.2 L543.2 344.2 L543.5 344.2 L543.8 344.2" stroke="#12a012" stroke-width="1.6" fill="none" stroke-linejoin="round"/>
<path d="M315 347.2 L315.2 347.2 L315.5 347.2 L315.8 347.2 L316 347.2 L316.2 347.2 L316.5 347.2 L316.8 347.2 L317 347.2 L317.2 347.2 L317.5 347.2 L317.8 347.2 L318 347.1 L318.2 347.1 L318.5 347.1 L318.8 347.1 L319 347.1 L319.2 347.1 L319.5 347.1 L319.8 347.1 L320 347.1 L320.2 347.1 L320.5 347.1 L320.8 347.1 L321 347.1 L321.2 347.1 L321.5 347 L321.8 347 L322 347 L322.2 347 L322.5 347 L322.8 347 L323 347 L323.2 347 L323.5 347 L323.8 347 L324 347 L324.2 347 L324.5 347 L324.8 346.9 L325 346.9 L325.2 346.9 L325.5 346.9 L325.8 346.9 L326 346.9 L326.2 346.9 L326.5 346.9 L326.8 346.9 L327 346.9 L327.2 346.9 L327.5 346.9 L327.8 346.9 L328 346.8 L328.2 346.8 L328.5 346.8 L328.8 346.8 L329 346.8 L329.2 346.8 L329.5 346.8 L329.8 346.8 L330 346.8 L330.2 346.8 L330.5 346.8 L330.8 346.8 L331 346.8 L331.2 346.7 L331.5 346.7 L331.8 346.7 L332 346.7 L332.2 346.7 L332.5 346.7 L332.8 346.7 L333 346.7 L333.2 346.7 L333.5 346.7 L333.8 346.7 L334 346.7 L334.2 346.7 L334.5 346.6 L334.8 346.6 L335 346.6 L335.2 346.6 L335.5 346.6 L335.8 346.6 L336 346.6 L336.2 346.6 L336.5 346.6 L336.8 346.6 L337 346.6 L337.2 346.6 L337.5 346.6 L337.8 346.5 L338 346.5 L338.2 346.5 L338.5 346.5 L338.8 346.5 L339 346.5 L339.2 346.5 L339.5 346.5 L339.8 346.5 L340 346.5 L340.2 346.5 L340.5 346.5 L340.8 346.5 L341 346.5 L341.2 346.4 L341.5 346.4 L341.8 346.4 L342 346.4 L342.2 346.4 L342.5 346.4 L342.8 346.4 L343 346.4 L343.2 346.4 L343.5 346.4 L343.8 346.4 L344 346.4 L344.2 346.4 L344.5 346.3 L344.8 346.3 L345 346.3 L345.2 346.3 L345.5 346.3 L345.8 346.3 L346 346.3 L346.2 346.3 L346.5 346.3 L346.8 346.3 L347 346.3 L347.2 346.3 L347.5 346.3 L347.8 346.3 L348 346.2 L348.2 346.2 L348.5 346.2 L348.8 346.2 L349 346.2 L349.2 346.2 L349.5 346.2 L349.8 346.2 L350 346.2 L350.2 346.2 L350.5 346.2 L350.8 346.2 L351 346.2 L351.2 346.2 L351.5 346.2 L351.8 346.1 L352 346.1 L352.2 346.1 L352.5 346.1 L352.8 346.1 L353 346.1 L353.2 346.1 L353.5 346.1 L353.8 346.1 L354 346.1 L354.2 346.1 L354.5 346.1 L354.8 346.1 L355 346.1 L355.2 346.1 L355.5 346.1 L355.8 346.1 L356 346.1 L356.2 346.1 L356.5 346.1 L356.8 346.1 L357 346.1 L357.2 346 L357.5 346 L357.8 346 L358 346 L358.2 346 L358.5 346 L358.8 346 L359 346 L359.2 346 L359.5 346 L359.8 346 L360 346 L360.2 346 L360.5 346 L360.8 346 L361 346 L361.2 346 L361.5 346.1 L361.8 346.1 L362 346.1 L362.2 346.1 L362.5 346.1 L362.8 346.1 L363 346.1 L363.2 346.1 L363.5 346.1 L363.8 346.1 L364 346.1 L364.2 346.1 L364.5 346.1 L364.8 346.1 L365 346.1 L365.2 346.1 L365.5 346.1 L365.8 346.2 L366 346.2 L366.2 346.2 L366.5 346.2 L366.8 346.2 L367 346.2 L367.2 346.2 L367.5 346.2 L367.8 346.2 L368 346.3 L368.2 346.3 L368.5 346.3 L368.8 346.3 L369 346.3 L369.2 346.3 L369.5 346.3 L369.8 346.3 L370 346.4 L370.2 346.4 L370.5 346.4 L370.8 346.4 L371 346.4 L371.2 346.4 L371.5 346.5 L371.8 346.5 L372 346.5 L372.2 346.5 L372.5 346.5 L372.8 346.5 L373 346.6 L373.2 346.6 L373.5 346.6 L373.8 346.6 L374 346.6 L374.2 346.6 L374.5 346.6 L374.8 346.7 L375 346.7 L375.2 346.7 L375.5 346.7 L375.8 346.7 L376 346.7 L376.2 346.8 L376.5 346.8 L376.8 346.8 L377 346.8 L377.2 346.8 L377.5 346.8 L377.8 346.9 L378 346.9 L378.2 346.9 L378.5 346.9 L378.8 346.9 L379 346.9 L379.2 346.9 L379.5 347 L379.8 347 L380 347 L380.2 347 L380.5 347 L380.8 347 L381 347 L381.2 347.1 L381.5 347.1 L381.8 347.1 L382 347.1 L382.2 347.1 L382.5 347.1 L382.8 347.1 L383 347.1 L383.2 347.1 L383.5 347.2 L383.8 347.2 L384 347.2 L384.2 347.2 L384.5 347.2 L384.8 347.2 L385 347.2 L385.2 347.2 L385.5 347.2 L385.8 347.2 L386 347.2 L386.2 347.2 L386.5 347.2 L386.8 347.3 L387 347.3 L387.2 347.3 L387.5 347.3 L387.8 347.3 L388 347.3 L388.2 347.3 L388.5 347.3 L388.8 347.3 L389 347.3 L389.2 347.3 L389.5 347.3 L389.8 347.3 L390 347.3 L390.2 347.3 L390.5 347.3 L390.8 347.3 L391 347.3 L391.2 347.3 L391.5 347.3 L391.8 347.3 L392 347.3 L392.2 347.3 L392.5 347.3 L392.8 347.3 L393 347.3 L393.2 347.3 L393.5 347.3 L393.8 347.3 L394 347.3 L394.2 347.3 L394.5 347.3 L394.8 347.3 L395 347.3 L395.2 347.3 L395.5 347.3 L395.8 347.3 L396 347.3 L396.2 347.3 L396.5 347.3 L396.8 347.3 L397 347.3 L397.2 347.2 L397.5 347.2 L397.8 347.2 L398 347.2 L398.2 347.2 L398.5 347.2 L398.8 347.2 L399 347.2 L399.2 347.2 L399.5 347.2 L399.8 347.2 L400 347.2 L400.2 347.2 L400.5 347.2 L400.8 347.2 L401 347.2 L401.2 347.1 L401.5 347.1 L401.8 347.1 L402 347.1 L402.2 347.1 L402.5 347.1 L402.8 347.1 L403 347.1 L403.2 347.1 L403.5 347.1 L403.8 347.1 L404 347.1 L404.2 347.1 L404.5 347 L404.8 347 L405 347 L405.2 347 L405.5 347 L405.8 347 L406 347 L406.2 347 L406.5 347 L406.8 347 L407 347 L407.2 347 L407.5 346.9 L407.8 346.9 L408 346.9 L408.2 346.9 L408.5 346.9 L408.8 346.9 L409 346.9 L409.2 346.9 L409.5 346.9 L409.8 346.9 L410 346.9 L410.2 346.8 L410.5 346.8 L410.8 346.8 L411 346.8 L411.2 346.8 L411.5 346.8 L411.8 346.8 L412 346.8 L412.2 346.8 L412.5 346.8 L412.8 346.8 L413 346.7 L413.2 346.7 L413.5 346.7 L413.8 346.7 L414 346.7 L414.2 346.7 L414.5 346.7 L414.8 346.7 L415 346.7 L415.2 346.7 L415.5 346.6 L415.8 346.6 L416 346.6 L416.2 346.6 L416.5 346.6 L416.8 346.6 L417 346.6 L417.2 346.6 L417.5 346.6 L417.8 346.6 L418 346.5 L418.2 346.5 L418.5 346.5 L418.8 346.5 L419 346.5 L419.2 346.5 L419.5 346.5 L419.8 346.5 L420 346.5 L420.2 346.4 L420.5 346.4 L420.8 346.4 L421 346.4 L421.2 346.4 L421.5 346.4 L421.8 346.4 L422 346.4 L422.2 346.4 L422.5 346.4 L422.8 346.3 L423 346.3 L423.2 346.3 L423.5 346.3 L423.8 346.3 L424 346.3 L424.2 346.3 L424.5 346.3 L424.8 346.2 L425 346.2 L425.2 346.2 L425.5 346.2 L425.8 346.2 L426 346.2 L426.2 346.2 L426.5 346.2 L426.8 346.2 L427 346.1 L427.2 346.1 L427.5 346.1 L427.8 346.1 L428 346.1 L428.2 346.1 L428.5 346.1 L428.8 346.1 L429 346 L429.2 346 L429.5 346 L429.8 346 L430 346 L430.2 346 L430.5 346 L430.8 345.9 L431 345.9 L431.2 345.9 L431.5 345.9 L431.8 345.9 L432 345.9 L432.2 345.9 L432.5 345.9 L432.8 345.8 L433 345.8 L433.2 345.8 L433.5 345.8 L433.8 345.8 L434 345.8 L434.2 345.7 L434.5 345.7 L434.8 345.7 L435 345.7 L435.2 345.7 L435.5 345.7 L435.8 345.7 L436 345.6 L436.2 345.6 L436.5 345.6 L436.8 345.6 L437 345.6 L437.2 345.6 L437.5 345.5 L437.8 345.5 L438 345.5 L438.2 345.5 L438.5 345.5 L438.8 345.4 L439 345.4 L439.2 345.4 L439.5 345.4 L439.8 345.4 L440 345.4 L440.2 345.3 L440.5 345.3 L440.8 345.3 L441 345.3 L441.2 345.3 L441.5 345.2 L441.8 345.2 L442 345.2 L442.2 345.2 L442.5 345.1 L442.8 345.1 L443 345.1 L443.2 345.1 L443.5 345.1 L443.8 345 L444 345 L444.2 345 L444.5 345 L444.8 344.9 L445 344.9 L445.2 344.9 L445.5 344.8 L445.8 344.8 L446 344.8 L446.2 344.8 L446.5 344.7 L446.8 344.7 L447 344.7 L447.2 344.6 L447.5 344.6 L447.8 344.6 L448 344.5 L448.2 344.5 L448.5 344.5 L448.8 344.4 L449 344.4 L449.2 344.3 L449.5 344.3 L449.8 344.2 L450 344.2 L450.2 344.2 L450.5 344.1 L450.8 344 L451 344 L451.2 343.9 L451.5 343.9 L451.8 343.8 L452 343.8 L452.2 343.7 L452.5 343.6 L452.8 343.5 L453 343.5 L453.2 343.4 L453.5 343.3 L453.8 343.2 L454 343.1 L454.2 343 L454.5 342.9 L454.8 342.8 L455 342.7 L455.2 342.5 L455.5 342.4 L455.8 342.3 L456 342.1 L456.2 342 L456.5 341.8 L456.8 341.6 L457 341.5 L457.2 341.3 L457.5 341.1 L457.8 340.8 L458 340.6 L458.2 340.4 L458.5 340.1 L458.8 339.9 L459 339.6 L459.2 339.3 L459.5 339 L459.8 338.7 L460 338.4 L460.2 338 L460.5 337.7 L460.8 337.3 L461 336.9 L461.2 336.5 L461.5 336.1 L461.8 335.6 L462 335.2 L462.2 334.7 L462.5 334.2 L462.8 333.7 L463 333.1 L463.2 332.6 L463.5 332 L463.8 331.4 L464 330.8 L464.2 330.2 L464.5 329.6 L464.8 328.9 L465 328.3 L465.2 327.6 L465.5 326.9 L465.8 326.2 L466 325.5 L466.2 324.8 L466.5 324 L466.8 323.3 L467 322.5 L467.2 321.8 L467.5 321 L467.8 320.2 L468 319.5 L468.2 318.7 L468.5 318 L468.8 317.2 L469 316.5 L469.2 315.7 L469.5 315 L469.8 314.3 L470 313.6 L470.2 312.9 L470.5 312.3 L470.8 311.7 L471 311.1 L471.2 310.5 L471.5 310 L471.8 309.5 L472 309.1 L472.2 308.7 L472.5 308.4 L472.8 308.1 L473 307.8 L473.2 307.6 L473.5 307.5 L473.8 307.4 L474 307.4 L474.2 307.4 L474.5 307.5 L474.8 307.6 L475 307.8 L475.2 308.1 L475.5 308.4 L475.8 308.7 L476 309.1 L476.2 309.5 L476.5 310 L476.8 310.5 L477 311.1 L477.2 311.7 L477.5 312.3 L477.8 312.9 L478 313.6 L478.2 314.3 L478.5 315 L478.8 315.7 L479 316.4 L479.2 317.2 L479.5 317.9 L479.8 318.7 L480 319.4 L480.2 320.2 L480.5 321 L480.8 321.7 L481 322.5 L481.2 323.2 L481.5 324 L481.8 324.7 L482 325.4 L482.2 326.1 L482.5 326.8 L482.8 327.5 L483 328.2 L483.2 328.8 L483.5 329.5 L483.8 330.1 L484 330.7 L484.2 331.3 L484.5 331.9 L484.8 332.4 L485 333 L485.2 333.5 L485.5 334 L485.8 334.5 L486 335 L486.2 335.4 L486.5 335.8 L486.8 336.3 L487 336.7 L487.2 337 L487.5 337.4 L487.8 337.8 L488 338.1 L488.2 338.4 L488.5 338.7 L488.8 339 L489 339.3 L489.2 339.6 L489.5 339.8 L489.8 340 L490 340.3 L490.2 340.5 L490.5 340.7 L490.8 340.9 L491 341.1 L491.2 341.2 L491.5 341.4 L491.8 341.5 L492 341.7 L492.2 341.8 L492.5 342 L492.8 342.1 L493 342.2 L493.2 342.3 L493.5 342.4 L493.8 342.5 L494 342.6 L494.2 342.7 L494.5 342.7 L494.8 342.8 L495 342.9 L495.2 343 L495.5 343 L495.8 343.1 L496 343.1 L496.2 343.2 L496.5 343.3 L496.8 343.3 L497 343.3 L497.2 343.4 L497.5 343.4 L497.8 343.5 L498 343.5 L498.2 343.5 L498.5 343.6 L498.8 343.6 L499 343.6 L499.2 343.7 L499.5 343.7 L499.8 343.7 L500 343.8 L500.2 343.8 L500.5 343.8 L500.8 343.8 L501 343.8 L501.2 343.9 L501.5 343.9 L501.8 343.9 L502 343.9 L502.2 343.9 L502.5 344 L502.8 344 L503 344 L503.2 344 L503.5 344 L503.8 344 L504 344.1 L504.2 344.1 L504.5 344.1 L504.8 344.1 L505 344.1 L505.2 344.1 L505.5 344.1 L505.8 344.1 L506 344.2 L506.2 344.2 L506.5 344.2 L506.8 344.2 L507 344.2 L507.2 344.2 L507.5 344.2 L507.8 344.2 L508 344.2 L508.2 344.2 L508.5 344.3 L508.8 344.3 L509 344.3 L509.2 344.3 L509.5 344.3 L509.8 344.3 L510 344.3 L510.2 344.3 L510.5 344.3 L510.8 344.3 L511 344.3 L511.2 344.3 L511.5 344.3 L511.8 344.3 L512 344.3 L512.2 344.3 L512.5 344.3 L512.8 344.3 L513 344.3 L513.2 344.3 L513.5 344.4 L513.8 344.4 L514 344.4 L514.2 344.4 L514.5 344.4 L514.8 344.4 L515 344.4 L515.2 344.4 L515.5 344.4 L515.8 344.4 L516 344.4 L516.2 344.4 L516.5 344.4 L516.8 344.4 L517 344.4 L517.2 344.4 L517.5 344.4 L517.8 344.4 L518 344.4 L518.2 344.4 L518.5 344.4 L518.8 344.4 L519 344.4 L519.2 344.4 L519.5 344.4 L519.8 344.4 L520 344.4 L520.2 344.4 L520.5 344.4 L520.8 344.4 L521 344.4 L521.2 344.4 L521.5 344.4 L521.8 344.4 L522 344.4 L522.2 344.4 L522.5 344.4 L522.8 344.4 L523 344.4 L523.2 344.4 L523.5 344.3 L523.8 344.3 L524 344.3 L524.2 344.3 L524.5 344.3 L524.8 344.3 L525 344.3 L525.2 344.3 L525.5 344.3 L525.8 344.3 L526 344.3 L526.2 344.3 L526.5 344.3 L526.8 344.3 L527 344.3 L527.2 344.3 L527.5 344.3 L527.8 344.3 L528 344.3 L528.2 344.3 L528.5 344.3 L528.8 344.3 L529 344.3 L529.2 344.3 L529.5 344.3 L529.8 344.3 L530 344.3 L530.2 344.3 L530.5 344.3 L530.8 344.3 L531 344.2 L531.2 344.2 L531.5 344.2 L531.8 344.2 L532 344.2 L532.2 344.2 L532.5 344.2 L532.8 344.2 L533 344.2 L533.2 344.2 L533.5 344.2 L533.8 344.2 L534 344.2 L534.2 344.2 L534.5 344.2 L534.8 344.2 L535 344.2 L535.2 344.2 L535.5 344.2 L535.8 344.2 L536 344.2 L536.2 344.2 L536.5 344.1 L536.8 344.1 L537 344.1 L537.2 344.1 L537.5 344.1 L537.8 344.1 L538 344.1 L538.2 344.1 L538.5 344.1 L538.8 344.1 L539 344.1 L539.2 344.1 L539.5 344.1 L539.8 344.1 L540 344.1 L540.2 344.1 L540.5 344.1 L540.8 344.1 L541 344.1 L541.2 344 L541.5 344 L541.8 344 L542 344 L542.2 344 L542.5 344 L542.8 344 L543 344 L543.2 344 L543.5 344 L543.8 344" stroke="#8434e8" stroke-width="1.6" fill="none" stroke-linejoin="round"/>
<path d="M315 347.2 L315.2 347.2 L315.5 347.2 L315.8 347.2 L316 347.2 L316.2 347.2 L316.5 347.2 L316.8 347.2 L317 347.2 L317.2 347.1 L317.5 347.1 L317.8 347.1 L318 347.1 L318.2 347.1 L318.5 347.1 L318.8 347.1 L319 347.1 L319.2 347.1 L319.5 347.1 L319.8 347.1 L320 347.1 L320.2 347.1 L320.5 347 L320.8 347 L321 347 L321.2 347 L321.5 347 L321.8 347 L322 347 L322.2 347 L322.5 347 L322.8 347 L323 347 L323.2 347 L323.5 347 L323.8 346.9 L324 346.9 L324.2 346.9 L324.5 346.9 L324.8 346.9 L325 346.9 L325.2 346.9 L325.5 346.9 L325.8 346.9 L326 346.9 L326.2 346.9 L326.5 346.9 L326.8 346.9 L327 346.8 L327.2 346.8 L327.5 346.8 L327.8 346.8 L328 346.8 L328.2 346.8 L328.5 346.8 L328.8 346.8 L329 346.8 L329.2 346.8 L329.5 346.8 L329.8 346.8 L330 346.8 L330.2 346.7 L330.5 346.7 L330.8 346.7 L331 346.7 L331.2 346.7 L331.5 346.7 L331.8 346.7 L332 346.7 L332.2 346.7 L332.5 346.7 L332.8 346.7 L333 346.7 L333.2 346.7 L333.5 346.6 L333.8 346.6 L334 346.6 L334.2 346.6 L334.5 346.6 L334.8 346.6 L335 346.6 L335.2 346.6 L335.5 346.6 L335.8 346.6 L336 346.6 L336.2 346.6 L336.5 346.6 L336.8 346.5 L337 346.5 L337.2 346.5 L337.5 346.5 L337.8 346.5 L338 346.5 L338.2 346.5 L338.5 346.5 L338.8 346.5 L339 346.5 L339.2 346.5 L339.5 346.5 L339.8 346.5 L340 346.4 L340.2 346.4 L340.5 346.4 L340.8 346.4 L341 346.4 L341.2 346.4 L341.5 346.4 L341.8 346.4 L342 346.4 L342.2 346.4 L342.5 346.4 L342.8 346.4 L343 346.4 L343.2 346.3 L343.5 346.3 L343.8 346.3 L344 346.3 L344.2 346.3 L344.5 346.3 L344.8 346.3 L345 346.3 L345.2 346.3 L345.5 346.3 L345.8 346.3 L346 346.3 L346.2 346.3 L346.5 346.3 L346.8 346.2 L347 346.2 L347.2 346.2 L347.5 346.2 L347.8 346.2 L348 346.2 L348.2 346.2 L348.5 346.2 L348.8 346.2 L349 346.2 L349.2 346.2 L349.5 346.2 L349.8 346.2 L350 346.2 L350.2 346.1 L350.5 346.1 L350.8 346.1 L351 346.1 L351.2 346.1 L351.5 346.1 L351.8 346.1 L352 346.1 L352.2 346.1 L352.5 346.1 L352.8 346.1 L353 346.1 L353.2 346.1 L353.5 346.1 L353.8 346.1 L354 346.1 L354.2 346.1 L354.5 346 L354.8 346 L355 346 L355.2 346 L355.5 346 L355.8 346 L356 346 L356.2 346 L356.5 346 L356.8 346 L357 346 L357.2 346 L357.5 346 L357.8 346 L358 346 L358.2 346 L358.5 346 L358.8 346 L359 346 L359.2 346 L359.5 346 L359.8 346 L360 346 L360.2 346 L360.5 346 L360.8 346 L361 346 L361.2 346 L361.5 346 L361.8 346 L362 346 L362.2 346 L362.5 346 L362.8 346 L363 346 L363.2 346 L363.5 346 L363.8 346.1 L364 346.1 L364.2 346.1 L364.5 346.1 L364.8 346.1 L365 346.1 L365.2 346.1 L365.5 346.1 L365.8 346.1 L366 346.1 L366.2 346.1 L366.5 346.1 L366.8 346.2 L367 346.2 L367.2 346.2 L367.5 346.2 L367.8 346.2 L368 346.2 L368.2 346.2 L368.5 346.2 L368.8 346.2 L369 346.3 L369.2 346.3 L369.5 346.3 L369.8 346.3 L370 346.3 L370.2 346.3 L370.5 346.3 L370.8 346.4 L371 346.4 L371.2 346.4 L371.5 346.4 L371.8 346.4 L372 346.4 L372.2 346.5 L372.5 346.5 L372.8 346.5 L373 346.5 L373.2 346.5 L373.5 346.5 L373.8 346.6 L374 346.6 L374.2 346.6 L374.5 346.6 L374.8 346.6 L375 346.6 L375.2 346.7 L375.5 346.7 L375.8 346.7 L376 346.7 L376.2 346.7 L376.5 346.7 L376.8 346.8 L377 346.8 L377.2 346.8 L377.5 346.8 L377.8 346.8 L378 346.8 L378.2 346.8 L378.5 346.9 L378.8 346.9 L379 346.9 L379.2 346.9 L379.5 346.9 L379.8 346.9 L380 346.9 L380.2 347 L380.5 347 L380.8 347 L381 347 L381.2 347 L381.5 347 L381.8 347 L382 347 L382.2 347.1 L382.5 347.1 L382.8 347.1 L383 347.1 L383.2 347.1 L383.5 347.1 L383.8 347.1 L384 347.1 L384.2 347.1 L384.5 347.1 L384.8 347.2 L385 347.2 L385.2 347.2 L385.5 347.2 L385.8 347.2 L386 347.2 L386.2 347.2 L386.5 347.2 L386.8 347.2 L387 347.2 L387.2 347.2 L387.5 347.2 L387.8 347.2 L388 347.2 L388.2 347.2 L388.5 347.2 L388.8 347.2 L389 347.2 L389.2 347.2 L389.5 347.3 L389.8 347.3 L390 347.3 L390.2 347.3 L390.5 347.3 L390.8 347.3 L391 347.3 L391.2 347.3 L391.5 347.3 L391.8 347.3 L392 347.3 L392.2 347.3 L392.5 347.3 L392.8 347.3 L393 347.3 L393.2 347.3 L393.5 347.3 L393.8 347.3 L394 347.3 L394.2 347.2 L394.5 347.2 L394.8 347.2 L395 347.2 L395.2 347.2 L395.5 347.2 L395.8 347.2 L396 347.2 L396.2 347.2 L396.5 347.2 L396.8 347.2 L397 347.2 L397.2 347.2 L397.5 347.2 L397.8 347.2 L398 347.2 L398.2 347.2 L398.5 347.2 L398.8 347.2 L399 347.2 L399.2 347.2 L399.5 347.2 L399.8 347.1 L400 347.1 L400.2 347.1 L400.5 347.1 L400.8 347.1 L401 347.1 L401.2 347.1 L401.5 347.1 L401.8 347.1 L402 347.1 L402.2 347.1 L402.5 347.1 L402.8 347.1 L403 347.1 L403.2 347 L403.5 347 L403.8 347 L404 347 L404.2 347 L404.5 347 L404.8 347 L405 347 L405.2 347 L405.5 347 L405.8 347 L406 347 L406.2 347 L406.5 346.9 L406.8 346.9 L407 346.9 L407.2 346.9 L407.5 346.9 L407.8 346.9 L408 346.9 L408.2 346.9 L408.5 346.9 L408.8 346.9 L409 346.9 L409.2 346.9 L409.5 346.8 L409.8 346.8 L410 346.8 L410.2 346.8 L410.5 346.8 L410.8 346.8 L411 346.8 L411.2 346.8 L411.5 346.8 L411.8 346.8 L412 346.8 L412.2 346.7 L412.5 346.7 L412.8 346.7 L413 346.7 L413.2 346.7 L413.5 346.7 L413.8 346.7 L414 346.7 L414.2 346.7 L414.5 346.7 L414.8 346.7 L415 346.6 L415.2 346.6 L415.5 346.6 L415.8 346.6 L416 346.6 L416.2 346.6 L416.5 346.6 L416.8 346.6 L417 346.6 L417.2 346.6 L417.5 346.6 L417.8 346.5 L418 346.5 L418.2 346.5 L418.5 346.5 L418.8 346.5 L419 346.5 L419.2 346.5 L419.5 346.5 L419.8 346.5 L420 346.5 L420.2 346.5 L420.5 346.4 L420.8 346.4 L421 346.4 L421.2 346.4 L421.5 346.4 L421.8 346.4 L422 346.4 L422.2 346.4 L422.5 346.4 L422.8 346.4 L423 346.3 L423.2 346.3 L423.5 346.3 L423.8 346.3 L424 346.3 L424.2 346.3 L424.5 346.3 L424.8 346.3 L425 346.3 L425.2 346.3 L425.5 346.2 L425.8 346.2 L426 346.2 L426.2 346.2 L426.5 346.2 L426.8 346.2 L427 346.2 L427.2 346.2 L427.5 346.2 L427.8 346.2 L428 346.1 L428.2 346.1 L428.5 346.1 L428.8 346.1 L429 346.1 L429.2 346.1 L429.5 346.1 L429.8 346.1 L430 346.1 L430.2 346.1 L430.5 346 L430.8 346 L431 346 L431.2 346 L431.5 346 L431.8 346 L432 346 L432.2 346 L432.5 346 L432.8 345.9 L433 345.9 L433.2 345.9 L433.5 345.9 L433.8 345.9 L434 345.9 L434.2 345.9 L434.5 345.9 L434.8 345.9 L435 345.8 L435.2 345.8 L435.5 345.8 L435.8 345.8 L436 345.8 L436.2 345.8 L436.5 345.8 L436.8 345.8 L437 345.8 L437.2 345.7 L437.5 345.7 L437.8 345.7 L438 345.7 L438.2 345.7 L438.5 345.7 L438.8 345.7 L439 345.7 L439.2 345.6 L439.5 345.6 L439.8 345.6 L440 345.6 L440.2 345.6 L440.5 345.6 L440.8 345.6 L441 345.6 L441.2 345.6 L441.5 345.5 L441.8 345.5 L442 345.5 L442.2 345.5 L442.5 345.5 L442.8 345.5 L443 345.5 L443.2 345.4 L443.5 345.4 L443.8 345.4 L444 345.4 L444.2 345.4 L444.5 345.4 L444.8 345.4 L445 345.4 L445.2 345.3 L445.5 345.3 L445.8 345.3 L446 345.3 L446.2 345.3 L446.5 345.3 L446.8 345.3 L447 345.2 L447.2 345.2 L447.5 345.2 L447.8 345.2 L448 345.2 L448.2 345.2 L448.5 345.2 L448.8 345.1 L449 345.1 L449.2 345.1 L449.5 345.1 L449.8 345.1 L450 345.1 L450.2 345.1 L450.5 345 L450.8 345 L451 345 L451.2 345 L451.5 345 L451.8 345 L452 344.9 L452.2 344.9 L452.5 344.9 L452.8 344.9 L453 344.9 L453.2 344.9 L453.5 344.8 L453.8 344.8 L454 344.8 L454.2 344.8 L454.5 344.8 L454.8 344.8 L455 344.7 L455.2 344.7 L455.5 344.7 L455.8 344.7 L456 344.7 L456.2 344.7 L456.5 344.6 L456.8 344.6 L457 344.6 L457.2 344.6 L457.5 344.6 L457.8 344.5 L458 344.5 L458.2 344.5 L458.5 344.5 L458.8 344.5 L459 344.4 L459.2 344.4 L459.5 344.4 L459.8 344.4 L460 344.3 L460.2 344.3 L460.5 344.3 L460.8 344.3 L461 344.3 L461.2 344.2 L461.5 344.2 L461.8 344.2 L462 344.2 L462.2 344.1 L462.5 344.1 L462.8 344.1 L463 344.1 L463.2 344 L463.5 344 L463.8 344 L464 343.9 L464.2 343.9 L464.5 343.9 L464.8 343.9 L465 343.8 L465.2 343.8 L465.5 343.8 L465.8 343.7 L466 343.7 L466.2 343.7 L466.5 343.6 L466.8 343.6 L467 343.6 L467.2 343.5 L467.5 343.5 L467.8 343.5 L468 343.4 L468.2 343.4 L468.5 343.3 L468.8 343.3 L469 343.2 L469.2 343.2 L469.5 343.2 L469.8 343.1 L470 343.1 L470.2 343 L470.5 343 L470.8 342.9 L471 342.9 L471.2 342.8 L471.5 342.8 L471.8 342.7 L472 342.6 L472.2 342.6 L472.5 342.5 L472.8 342.5 L473 342.4 L473.2 342.3 L473.5 342.2 L473.8 342.2 L474 342.1 L474.2 342 L474.5 342 L474.8 341.9 L475 341.8 L475.2 341.7 L475.5 341.6 L475.8 341.5 L476 341.4 L476.2 341.3 L476.5 341.2 L476.8 341.1 L477 341 L477.2 340.9 L477.5 340.8 L477.8 340.7 L478 340.6 L478.2 340.5 L478.5 340.4 L478.8 340.3 L479 340.1 L479.2 340 L479.5 339.9 L479.8 339.7 L480 339.6 L480.2 339.5 L480.5 339.3 L480.8 339.2 L481 339 L481.2 338.9 L481.5 338.7 L481.8 338.5 L482 338.4 L482.2 338.2 L482.5 338 L482.8 337.9 L483 337.7 L483.2 337.5 L483.5 337.3 L483.8 337.1 L484 336.9 L484.2 336.7 L484.5 336.5 L484.8 336.3 L485 336.1 L485.2 335.9 L485.5 335.7 L485.8 335.5 L486 335.3 L486.2 335.1 L486.5 334.8 L486.8 334.6 L487 334.4 L487.2 334.1 L487.5 333.9 L487.8 333.7 L488 333.4 L488.2 333.2 L488.5 333 L488.8 332.7 L489 332.5 L489.2 332.2 L489.5 332 L489.8 331.7 L490 331.5 L490.2 331.2 L490.5 331 L490.8 330.7 L491 330.4 L491.2 330.2 L491.5 329.9 L491.8 329.7 L492 329.4 L492.2 329.2 L492.5 328.9 L492.8 328.7 L493 328.4 L493.2 328.2 L493.5 327.9 L493.8 327.7 L494 327.5 L494.2 327.2 L494.5 327 L494.8 326.8 L495 326.5 L495.2 326.3 L495.5 326.1 L495.8 325.9 L496 325.7 L496.2 325.5 L496.5 325.3 L496.8 325.2 L497 325 L497.2 324.8 L497.5 324.7 L497.8 324.5 L498 324.4 L498.2 324.3 L498.5 324.2 L498.8 324.1 L499 324 L499.2 323.9 L499.5 323.8 L499.8 323.8 L500 323.7 L500.2 323.7 L500.5 323.7 L500.8 323.7 L501 323.7 L501.2 323.7 L501.5 323.7 L501.8 323.7 L502 323.8 L502.2 323.8 L502.5 323.9 L502.8 324 L503 324.1 L503.2 324.2 L503.5 324.3 L503.8 324.4 L504 324.5 L504.2 324.7 L504.5 324.8 L504.8 325 L505 325.2 L505.2 325.3 L505.5 325.5 L505.8 325.7 L506 325.9 L506.2 326.1 L506.5 326.3 L506.8 326.5 L507 326.7 L507.2 326.9 L507.5 327.2 L507.8 327.4 L508 327.6 L508.2 327.9 L508.5 328.1 L508.8 328.3 L509 328.6 L509.2 328.8 L509.5 329.1 L509.8 329.3 L510 329.6 L510.2 329.8 L510.5 330.1 L510.8 330.3 L511 330.5 L511.2 330.8 L511.5 331 L511.8 331.3 L512 331.5 L512.2 331.8 L512.5 332 L512.8 332.2 L513 332.5 L513.2 332.7 L513.5 332.9 L513.8 333.2 L514 333.4 L514.2 333.6 L514.5 333.9 L514.8 334.1 L515 334.3 L515.2 334.5 L515.5 334.7 L515.8 334.9 L516 335.1 L516.2 335.3 L516.5 335.5 L516.8 335.7 L517 335.9 L517.2 336.1 L517.5 336.3 L517.8 336.5 L518 336.7 L518.2 336.8 L518.5 337 L518.8 337.2 L519 337.4 L519.2 337.5 L519.5 337.7 L519.8 337.8 L520 338 L520.2 338.1 L520.5 338.3 L520.8 338.4 L521 338.6 L521.2 338.7 L521.5 338.9 L521.8 339 L522 339.1 L522.2 339.2 L522.5 339.4 L522.8 339.5 L523 339.6 L523.2 339.7 L523.5 339.8 L523.8 339.9 L524 340 L524.2 340.1 L524.5 340.2 L524.8 340.3 L525 340.4 L525.2 340.5 L525.5 340.6 L525.8 340.7 L526 340.8 L526.2 340.8 L526.5 340.9 L526.8 341 L527 341.1 L527.2 341.1 L527.5 341.2 L527.8 341.3 L528 341.3 L528.2 341.4 L528.5 341.5 L528.8 341.5 L529 341.6 L529.2 341.6 L529.5 341.7 L529.8 341.8 L530 341.8 L530.2 341.9 L530.5 341.9 L530.8 341.9 L531 342 L531.2 342 L531.5 342.1 L531.8 342.1 L532 342.1 L532.2 342.2 L532.5 342.2 L532.8 342.3 L533 342.3 L533.2 342.3 L533.5 342.4 L533.8 342.4 L534 342.4 L534.2 342.4 L534.5 342.5 L534.8 342.5 L535 342.5 L535.2 342.5 L535.5 342.6 L535.8 342.6 L536 342.6 L536.2 342.6 L536.5 342.6 L536.8 342.7 L537 342.7 L537.2 342.7 L537.5 342.7 L537.8 342.7 L538 342.8 L538.2 342.8 L538.5 342.8 L538.8 342.8 L539 342.8 L539.2 342.8 L539.5 342.8 L539.8 342.9 L540 342.9 L540.2 342.9 L540.5 342.9 L540.8 342.9 L541 342.9 L541.2 342.9 L541.5 342.9 L541.8 342.9 L542 342.9 L542.2 343 L542.5 343 L542.8 343 L543 343 L543.2 343 L543.5 343 L543.8 343" stroke="#18c4c4" stroke-width="1.6" fill="none" stroke-linejoin="round"/>
<path d="M315 347 L315.2 347 L315.5 347 L315.8 347 L316 347 L316.2 347 L316.5 347 L316.8 346.9 L317 346.9 L317.2 346.9 L317.5 346.9 L317.8 346.9 L318 346.9 L318.2 346.9 L318.5 346.9 L318.8 346.9 L319 346.9 L319.2 346.8 L319.5 346.8 L319.8 346.8 L320 346.8 L320.2 346.8 L320.5 346.8 L320.8 346.8 L321 346.8 L321.2 346.8 L321.5 346.8 L321.8 346.7 L322 346.7 L322.2 346.7 L322.5 346.7 L322.8 346.7 L323 346.7 L323.2 346.7 L323.5 346.7 L323.8 346.7 L324 346.6 L324.2 346.6 L324.5 346.6 L324.8 346.6 L325 346.6 L325.2 346.6 L325.5 346.6 L325.8 346.6 L326 346.6 L326.2 346.5 L326.5 346.5 L326.8 346.5 L327 346.5 L327.2 346.5 L327.5 346.5 L327.8 346.5 L328 346.5 L328.2 346.4 L328.5 346.4 L328.8 346.4 L329 346.4 L329.2 346.4 L329.5 346.4 L329.8 346.4 L330 346.4 L330.2 346.3 L330.5 346.3 L330.8 346.3 L331 346.3 L331.2 346.3 L331.5 346.3 L331.8 346.3 L332 346.3 L332.2 346.2 L332.5 346.2 L332.8 346.2 L333 346.2 L333.2 346.2 L333.5 346.2 L333.8 346.2 L334 346.1 L334.2 346.1 L334.5 346.1 L334.8 346.1 L335 346.1 L335.2 346.1 L335.5 346 L335.8 346 L336 346 L336.2 346 L336.5 346 L336.8 345.9 L337 345.9 L337.2 345.9 L337.5 345.9 L337.8 345.9 L338 345.8 L338.2 345.8 L338.5 345.8 L338.8 345.8 L339 345.7 L339.2 345.7 L339.5 345.7 L339.8 345.6 L340 345.6 L340.2 345.6 L340.5 345.5 L340.8 345.5 L341 345.4 L341.2 345.4 L341.5 345.4 L341.8 345.3 L342 345.3 L342.2 345.2 L342.5 345.1 L342.8 345.1 L343 345 L343.2 344.9 L343.5 344.9 L343.8 344.8 L344 344.7 L344.2 344.6 L344.5 344.5 L344.8 344.4 L345 344.3 L345.2 344.2 L345.5 344.1 L345.8 343.9 L346 343.8 L346.2 343.6 L346.5 343.5 L346.8 343.3 L347 343.1 L347.2 342.9 L347.5 342.7 L347.8 342.5 L348 342.3 L348.2 342.1 L348.5 341.8 L348.8 341.5 L349 341.2 L349.2 340.9 L349.5 340.6 L349.8 340.3 L350 339.9 L350.2 339.5 L350.5 339.1 L350.8 338.7 L351 338.2 L351.2 337.7 L351.5 337.2 L351.8 336.7 L352 336.2 L352.2 335.6 L352.5 335 L352.8 334.3 L353 333.7 L353.2 333 L353.5 332.2 L353.8 331.5 L354 330.7 L354.2 329.8 L354.5 329 L354.8 328.1 L355 327.1 L355.2 326.1 L355.5 325.1 L355.8 324.1 L356 323 L356.2 321.8 L356.5 320.6 L356.8 319.4 L357 318.2 L357.2 316.9 L357.5 315.5 L357.8 314.2 L358 312.7 L358.2 311.3 L358.5 309.8 L358.8 308.2 L359 306.7 L359.2 305.1 L359.5 303.4 L359.8 301.7 L360 300 L360.2 298.3 L360.5 296.5 L360.8 294.7 L361 292.8 L361.2 291 L361.5 289.1 L361.8 287.1 L362 285.2 L362.2 283.2 L362.5 281.3 L362.8 279.3 L363 277.3 L363.2 275.3 L363.5 273.3 L363.8 271.3 L364 269.2 L364.2 267.2 L364.5 265.2 L364.8 263.2 L365 261.2 L365.2 259.3 L365.5 257.3 L365.8 255.4 L366 253.5 L366.2 251.6 L366.5 249.8 L366.8 248 L367 246.3 L367.2 244.6 L367.5 242.9 L367.8 241.3 L368 239.7 L368.2 238.3 L368.5 236.8 L368.8 235.5 L369 234.2 L369.2 233 L369.5 231.8 L369.8 230.7 L370 229.7 L370.2 228.8 L370.5 228 L370.8 227.3 L371 226.6 L371.2 226.1 L371.5 225.6 L371.8 225.3 L372 225 L372.2 224.8 L372.5 224.8 L372.8 224.8 L373 224.9 L373.2 225.1 L373.5 225.4 L373.8 225.8 L374 226.3 L374.2 226.9 L374.5 227.6 L374.8 228.3 L375 229.2 L375.2 230.1 L375.5 231.2 L375.8 232.3 L376 233.4 L376.2 234.7 L376.5 236 L376.8 237.4 L377 238.9 L377.2 240.4 L377.5 242 L377.8 243.6 L378 245.3 L378.2 247.1 L378.5 248.8 L378.8 250.7 L379 252.5 L379.2 254.4 L379.5 256.3 L379.8 258.3 L380 260.2 L380.2 262.2 L380.5 264.2 L380.8 266.3 L381 268.3 L381.2 270.3 L381.5 272.4 L381.8 274.4 L382 276.4 L382.2 278.4 L382.5 280.5 L382.8 282.5 L383 284.4 L383.2 286.4 L383.5 288.4 L383.8 290.3 L384 292.2 L384.2 294.1 L384.5 295.9 L384.8 297.8 L385 299.6 L385.2 301.3 L385.5 303 L385.8 304.7 L386 306.4 L386.2 308 L386.5 309.6 L386.8 311.1 L387 312.6 L387.2 314.1 L387.5 315.5 L387.8 316.9 L388 318.2 L388.2 319.5 L388.5 320.8 L388.8 322 L389 323.2 L389.2 324.3 L389.5 325.4 L389.8 326.5 L390 327.5 L390.2 328.5 L390.5 329.4 L390.8 330.3 L391 331.2 L391.2 332 L391.5 332.8 L391.8 333.6 L392 334.3 L392.2 335 L392.5 335.6 L392.8 336.3 L393 336.9 L393.2 337.4 L393.5 338 L393.8 338.5 L394 339 L394.2 339.5 L394.5 339.9 L394.8 340.3 L395 340.7 L395.2 341.1 L395.5 341.5 L395.8 341.8 L396 342.1 L396.2 342.4 L396.5 342.7 L396.8 342.9 L397 343.2 L397.2 343.4 L397.5 343.6 L397.8 343.8 L398 344 L398.2 344.2 L398.5 344.4 L398.8 344.5 L399 344.7 L399.2 344.8 L399.5 344.9 L399.8 345.1 L400 345.2 L400.2 345.3 L400.5 345.4 L400.8 345.5 L401 345.6 L401.2 345.6 L401.5 345.7 L401.8 345.8 L402 345.8 L402.2 345.9 L402.5 345.9 L402.8 346 L403 346 L403.2 346.1 L403.5 346.1 L403.8 346.1 L404 346.2 L404.2 346.2 L404.5 346.2 L404.8 346.3 L405 346.3 L405.2 346.3 L405.5 346.3 L405.8 346.3 L406 346.4 L406.2 346.4 L406.5 346.4 L406.8 346.4 L407 346.4 L407.2 346.4 L407.5 346.4 L407.8 346.4 L408 346.4 L408.2 346.5 L408.5 346.5 L408.8 346.5 L409 346.5 L409.2 346.5 L409.5 346.5 L409.8 346.5 L410 346.5 L410.2 346.5 L410.5 346.5 L410.8 346.5 L411 346.5 L411.2 346.5 L411.5 346.5 L411.8 346.5 L412 346.5 L412.2 346.5 L412.5 346.5 L412.8 346.5 L413 346.5 L413.2 346.5 L413.5 346.5 L413.8 346.5 L414 346.5 L414.2 346.5 L414.5 346.5 L414.8 346.5 L415 346.5 L415.2 346.5 L415.5 346.5 L415.8 346.5 L416 346.5 L416.2 346.5 L416.5 346.5 L416.8 346.5 L417 346.5 L417.2 346.5 L417.5 346.5 L417.8 346.5 L418 346.5 L418.2 346.5 L418.5 346.5 L418.8 346.5 L419 346.4 L419.2 346.4 L419.5 346.4 L419.8 346.4 L420 346.4 L420.2 346.4 L420.5 346.4 L420.8 346.4 L421 346.4 L421.2 346.4 L421.5 346.4 L421.8 346.4 L422 346.4 L422.2 346.4 L422.5 346.4 L422.8 346.4 L423 346.4 L423.2 346.4 L423.5 346.4 L423.8 346.4 L424 346.4 L424.2 346.4 L424.5 346.4 L424.8 346.4 L425 346.4 L425.2 346.4 L425.5 346.3 L425.8 346.3 L426 346.3 L426.2 346.3 L426.5 346.3 L426.8 346.3 L427 346.3 L427.2 346.3 L427.5 346.3 L427.8 346.3 L428 346.3 L428.2 346.3 L428.5 346.3 L428.8 346.3 L429 346.3 L429.2 346.3 L429.5 346.3 L429.8 346.3 L430 346.3 L430.2 346.3 L430.5 346.3 L430.8 346.2 L431 346.2 L431.2 346.2 L431.5 346.2 L431.8 346.2 L432 346.2 L432.2 346.2 L432.5 346.2 L432.8 346.2 L433 346.2 L433.2 346.2 L433.5 346.2 L433.8 346.2 L434 346.2 L434.2 346.2 L434.5 346.2 L434.8 346.2 L435 346.2 L435.2 346.2 L435.5 346.1 L435.8 346.1 L436 346.1 L436.2 346.1 L436.5 346.1 L436.8 346.1 L437 346.1 L437.2 346.1 L437.5 346.1 L437.8 346.1 L438 346.1 L438.2 346.1 L438.5 346.1 L438.8 346.1 L439 346.1 L439.2 346.1 L439.5 346.1 L439.8 346 L440 346 L440.2 346 L440.5 346 L440.8 346 L441 346 L441.2 346 L441.5 346 L441.8 346 L442 346 L442.2 346 L442.5 346 L442.8 346 L443 346 L443.2 346 L443.5 346 L443.8 346 L444 345.9 L444.2 345.9 L444.5 345.9 L444.8 345.9 L445 345.9 L445.2 345.9 L445.5 345.9 L445.8 345.9 L446 345.9 L446.2 345.9 L446.5 345.9 L446.8 345.9 L447 345.9 L447.2 345.9 L447.5 345.9 L447.8 345.9 L448 345.9 L448.2 345.8 L448.5 345.8 L448.8 345.8 L449 345.8 L449.2 345.8 L449.5 345.8 L449.8 345.8 L450 345.8 L450.2 345.8 L450.5 345.8 L450.8 345.8 L451 345.8 L451.2 345.8 L451.5 345.8 L451.8 345.8 L452 345.8 L452.2 345.8 L452.5 345.7 L452.8 345.7 L453 345.7 L453.2 345.7 L453.5 345.7 L453.8 345.7 L454 345.7 L454.2 345.7 L454.5 345.7 L454.8 345.7 L455 345.7 L455.2 345.7 L455.5 345.7 L455.8 345.7 L456 345.7 L456.2 345.7 L456.5 345.6 L456.8 345.6 L457 345.6 L457.2 345.6 L457.5 345.6 L457.8 345.6 L458 345.6 L458.2 345.6 L458.5 345.6 L458.8 345.6 L459 345.6 L459.2 345.6 L459.5 345.6 L459.8 345.6 L460 345.6 L460.2 345.6 L460.5 345.6 L460.8 345.6 L461 345.6 L461.2 345.5 L461.5 345.5 L461.8 345.5 L462 345.5 L462.2 345.5 L462.5 345.5 L462.8 345.5 L463 345.5 L463.2 345.5 L463.5 345.5 L463.8 345.5 L464 345.5 L464.2 345.5 L464.5 345.5 L464.8 345.5 L465 345.5 L465.2 345.5 L465.5 345.5 L465.8 345.5 L466 345.5 L466.2 345.5 L466.5 345.5 L466.8 345.5 L467 345.5 L467.2 345.5 L467.5 345.5 L467.8 345.5 L468 345.5 L468.2 345.4 L468.5 345.4 L468.8 345.4 L469 345.4 L469.2 345.4 L469.5 345.4 L469.8 345.4 L470 345.4 L470.2 345.4 L470.5 345.4 L470.8 345.4 L471 345.4 L471.2 345.4 L471.5 345.4 L471.8 345.4 L472 345.4 L472.2 345.4 L472.5 345.4 L472.8 345.4 L473 345.4 L473.2 345.4 L473.5 345.4 L473.8 345.4 L474 345.4 L474.2 345.4 L474.5 345.4 L474.8 345.4 L475 345.4 L475.2 345.4 L475.5 345.4 L475.8 345.4 L476 345.4 L476.2 345.4 L476.5 345.4 L476.8 345.4 L477 345.4 L477.2 345.4 L477.5 345.4 L477.8 345.4 L478 345.4 L478.2 345.4 L478.5 345.4 L478.8 345.4 L479 345.4 L479.2 345.4 L479.5 345.4 L479.8 345.4 L480 345.4 L480.2 345.4 L480.5 345.4 L480.8 345.4 L481 345.4 L481.2 345.4 L481.5 345.4 L481.8 345.4 L482 345.4 L482.2 345.4 L482.5 345.4 L482.8 345.4 L483 345.4 L483.2 345.4 L483.5 345.4 L483.8 345.4 L484 345.4 L484.2 345.4 L484.5 345.4 L484.8 345.4 L485 345.4 L485.2 345.4 L485.5 345.4 L485.8 345.4 L486 345.4 L486.2 345.4 L486.5 345.4 L486.8 345.4 L487 345.4 L487.2 345.4 L487.5 345.4 L487.8 345.4 L488 345.3 L488.2 345.3 L488.5 345.3 L488.8 345.3 L489 345.3 L489.2 345.3 L489.5 345.3 L489.8 345.3 L490 345.3 L490.2 345.3 L490.5 345.3 L490.8 345.3 L491 345.3 L491.2 345.3 L491.5 345.3 L491.8 345.3 L492 345.3 L492.2 345.3 L492.5 345.3 L492.8 345.3 L493 345.3 L493.2 345.3 L493.5 345.3 L493.8 345.3 L494 345.3 L494.2 345.3 L494.5 345.3 L494.8 345.3 L495 345.2 L495.2 345.2 L495.5 345.2 L495.8 345.2 L496 345.2 L496.2 345.2 L496.5 345.2 L496.8 345.2 L497 345.2 L497.2 345.2 L497.5 345.2 L497.8 345.2 L498 345.2 L498.2 345.2 L498.5 345.2 L498.8 345.2 L499 345.2 L499.2 345.2 L499.5 345.2 L499.8 345.2 L500 345.2 L500.2 345.2 L500.5 345.2 L500.8 345.2 L501 345.2 L501.2 345.2 L501.5 345.2 L501.8 345.2 L502 345.2 L502.2 345.2 L502.5 345.2 L502.8 345.1 L503 345.1 L503.2 345.1 L503.5 345.1 L503.8 345.1 L504 345.1 L504.2 345.1 L504.5 345.1 L504.8 345.1 L505 345.1 L505.2 345.1 L505.5 345.1 L505.8 345.1 L506 345.1 L506.2 345.1 L506.5 345.1 L506.8 345.1 L507 345.1 L507.2 345.1 L507.5 345.1 L507.8 345.1 L508 345.1 L508.2 345.1 L508.5 345.1 L508.8 345.1 L509 345.1 L509.2 345.1 L509.5 345 L509.8 345 L510 345 L510.2 345 L510.5 345 L510.8 345 L511 345 L511.2 345 L511.5 345 L511.8 345 L512 345 L512.2 345 L512.5 345 L512.8 345 L513 345 L513.2 345 L513.5 345 L513.8 345 L514 345 L514.2 345 L514.5 345 L514.8 344.9 L515 344.9 L515.2 344.9 L515.5 344.9 L515.8 344.9 L516 344.9 L516.2 344.9 L516.5 344.9 L516.8 344.9 L517 344.9 L517.2 344.9 L517.5 344.9 L517.8 344.9 L518 344.9 L518.2 344.9 L518.5 344.9 L518.8 344.9 L519 344.9 L519.2 344.8 L519.5 344.8 L519.8 344.8 L520 344.8 L520.2 344.8 L520.5 344.8 L520.8 344.8 L521 344.8 L521.2 344.8 L521.5 344.8 L521.8 344.8 L522 344.8 L522.2 344.8 L522.5 344.8 L522.8 344.8 L523 344.8 L523.2 344.7 L523.5 344.7 L523.8 344.7 L524 344.7 L524.2 344.7 L524.5 344.7 L524.8 344.7 L525 344.7 L525.2 344.7 L525.5 344.7 L525.8 344.7 L526 344.7 L526.2 344.7 L526.5 344.7 L526.8 344.7 L527 344.6 L527.2 344.6 L527.5 344.6 L527.8 344.6 L528 344.6 L528.2 344.6 L528.5 344.6 L528.8 344.6 L529 344.6 L529.2 344.6 L529.5 344.6 L529.8 344.6 L530 344.6 L530.2 344.6 L530.5 344.6 L530.8 344.5 L531 344.5 L531.2 344.5 L531.5 344.5 L531.8 344.5 L532 344.5 L532.2 344.5 L532.5 344.5 L532.8 344.5 L533 344.5 L533.2 344.5 L533.5 344.5 L533.8 344.5 L534 344.5 L534.2 344.4 L534.5 344.4 L534.8 344.4 L535 344.4 L535.2 344.4 L535.5 344.4 L535.8 344.4 L536 344.4 L536.2 344.4 L536.5 344.4 L536.8 344.4 L537 344.4 L537.2 344.4 L537.5 344.4 L537.8 344.4 L538 344.3 L538.2 344.3 L538.5 344.3 L538.8 344.3 L539 344.3 L539.2 344.3 L539.5 344.3 L539.8 344.3 L540 344.3 L540.2 344.3 L540.5 344.3 L540.8 344.3 L541 344.3 L541.2 344.3 L541.5 344.2 L541.8 344.2 L542 344.2 L542.2 344.2 L542.5 344.2 L542.8 344.2 L543 344.2 L543.2 344.2 L543.5 344.2 L543.8 344.2" stroke="#1414f0" stroke-width="1.6" fill="none" stroke-linejoin="round"/>
<path d="M315 347.3 L315.2 347.3 L315.5 347.3 L315.8 347.3 L316 347.3 L316.2 347.2 L316.5 347.2 L316.8 347.2 L317 347.2 L317.2 347.2 L317.5 347.2 L317.8 347.2 L318 347.2 L318.2 347.2 L318.5 347.2 L318.8 347.2 L319 347.2 L319.2 347.2 L319.5 347.1 L319.8 347.1 L320 347.1 L320.2 347.1 L320.5 347.1 L320.8 347.1 L321 347.1 L321.2 347.1 L321.5 347.1 L321.8 347.1 L322 347.1 L322.2 347.1 L322.5 347.1 L322.8 347.1 L323 347 L323.2 347 L323.5 347 L323.8 347 L324 347 L324.2 347 L324.5 347 L324.8 347 L325 347 L325.2 347 L325.5 347 L325.8 347 L326 347 L326.2 346.9 L326.5 346.9 L326.8 346.9 L327 346.9 L327.2 346.9 L327.5 346.9 L327.8 346.9 L328 346.9 L328.2 346.9 L328.5 346.9 L328.8 346.9 L329 346.9 L329.2 346.9 L329.5 346.9 L329.8 346.8 L330 346.8 L330.2 346.8 L330.5 346.8 L330.8 346.8 L331 346.8 L331.2 346.8 L331.5 346.8 L331.8 346.8 L332 346.8 L332.2 346.8 L332.5 346.8 L332.8 346.8 L333 346.7 L333.2 346.7 L333.5 346.7 L333.8 346.7 L334 346.7 L334.2 346.7 L334.5 346.7 L334.8 346.7 L335 346.7 L335.2 346.7 L335.5 346.7 L335.8 346.7 L336 346.7 L336.2 346.7 L336.5 346.6 L336.8 346.6 L337 346.6 L337.2 346.6 L337.5 346.6 L337.8 346.6 L338 346.6 L338.2 346.6 L338.5 346.6 L338.8 346.6 L339 346.6 L339.2 346.6 L339.5 346.6 L339.8 346.5 L340 346.5 L340.2 346.5 L340.5 346.5 L340.8 346.5 L341 346.5 L341.2 346.5 L341.5 346.5 L341.8 346.5 L342 346.5 L342.2 346.5 L342.5 346.5 L342.8 346.5 L343 346.5 L343.2 346.4 L343.5 346.4 L343.8 346.4 L344 346.4 L344.2 346.4 L344.5 346.4 L344.8 346.4 L345 346.4 L345.2 346.4 L345.5 346.4 L345.8 346.4 L346 346.4 L346.2 346.4 L346.5 346.4 L346.8 346.3 L347 346.3 L347.2 346.3 L347.5 346.3 L347.8 346.3 L348 346.3 L348.2 346.3 L348.5 346.3 L348.8 346.3 L349 346.3 L349.2 346.3 L349.5 346.3 L349.8 346.3 L350 346.3 L350.2 346.3 L350.5 346.2 L350.8 346.2 L351 346.2 L351.2 346.2 L351.5 346.2 L351.8 346.2 L352 346.2 L352.2 346.2 L352.5 346.2 L352.8 346.2 L353 346.2 L353.2 346.2 L353.5 346.2 L353.8 346.2 L354 346.2 L354.2 346.2 L354.5 346.2 L354.8 346.2 L355 346.2 L355.2 346.2 L355.5 346.1 L355.8 346.1 L356 346.1 L356.2 346.1 L356.5 346.1 L356.8 346.1 L357 346.1 L357.2 346.1 L357.5 346.1 L357.8 346.1 L358 346.1 L358.2 346.1 L358.5 346.1 L358.8 346.1 L359 346.1 L359.2 346.1 L359.5 346.1 L359.8 346.1 L360 346.1 L360.2 346.1 L360.5 346.1 L360.8 346.1 L361 346.1 L361.2 346.1 L361.5 346.1 L361.8 346.1 L362 346.1 L362.2 346.1 L362.5 346.2 L362.8 346.2 L363 346.2 L363.2 346.2 L363.5 346.2 L363.8 346.2 L364 346.2 L364.2 346.2 L364.5 346.2 L364.8 346.2 L365 346.2 L365.2 346.2 L365.5 346.2 L365.8 346.2 L366 346.3 L366.2 346.3 L366.5 346.3 L366.8 346.3 L367 346.3 L367.2 346.3 L367.5 346.3 L367.8 346.3 L368 346.3 L368.2 346.4 L368.5 346.4 L368.8 346.4 L369 346.4 L369.2 346.4 L369.5 346.4 L369.8 346.4 L370 346.5 L370.2 346.5 L370.5 346.5 L370.8 346.5 L371 346.5 L371.2 346.5 L371.5 346.6 L371.8 346.6 L372 346.6 L372.2 346.6 L372.5 346.6 L372.8 346.6 L373 346.7 L373.2 346.7 L373.5 346.7 L373.8 346.7 L374 346.7 L374.2 346.7 L374.5 346.8 L374.8 346.8 L375 346.8 L375.2 346.8 L375.5 346.8 L375.8 346.8 L376 346.9 L376.2 346.9 L376.5 346.9 L376.8 346.9 L377 346.9 L377.2 346.9 L377.5 347 L377.8 347 L378 347 L378.2 347 L378.5 347 L378.8 347 L379 347.1 L379.2 347.1 L379.5 347.1 L379.8 347.1 L380 347.1 L380.2 347.1 L380.5 347.1 L380.8 347.2 L381 347.2 L381.2 347.2 L381.5 347.2 L381.8 347.2 L382 347.2 L382.2 347.2 L382.5 347.2 L382.8 347.3 L383 347.3 L383.2 347.3 L383.5 347.3 L383.8 347.3 L384 347.3 L384.2 347.3 L384.5 347.3 L384.8 347.3 L385 347.3 L385.2 347.3 L385.5 347.4 L385.8 347.4 L386 347.4 L386.2 347.4 L386.5 347.4 L386.8 347.4 L387 347.4 L387.2 347.4 L387.5 347.4 L387.8 347.4 L388 347.4 L388.2 347.4 L388.5 347.4 L388.8 347.4 L389 347.4 L389.2 347.4 L389.5 347.4 L389.8 347.4 L390 347.5 L390.2 347.5 L390.5 347.5 L390.8 347.5 L391 347.5 L391.2 347.5 L391.5 347.5 L391.8 347.5 L392 347.5 L392.2 347.5 L392.5 347.5 L392.8 347.5 L393 347.5 L393.2 347.5 L393.5 347.5 L393.8 347.5 L394 347.5 L394.2 347.5 L394.5 347.5 L394.8 347.5 L395 347.5 L395.2 347.5 L395.5 347.5 L395.8 347.4 L396 347.4 L396.2 347.4 L396.5 347.4 L396.8 347.4 L397 347.4 L397.2 347.4 L397.5 347.4 L397.8 347.4 L398 347.4 L398.2 347.4 L398.5 347.4 L398.8 347.4 L399 347.4 L399.2 347.4 L399.5 347.4 L399.8 347.4 L400 347.4 L400.2 347.4 L400.5 347.4 L400.8 347.4 L401 347.4 L401.2 347.4 L401.5 347.3 L401.8 347.3 L402 347.3 L402.2 347.3 L402.5 347.3 L402.8 347.3 L403 347.3 L403.2 347.3 L403.5 347.3 L403.8 347.3 L404 347.3 L404.2 347.3 L404.5 347.3 L404.8 347.3 L405 347.3 L405.2 347.2 L405.5 347.2 L405.8 347.2 L406 347.2 L406.2 347.2 L406.5 347.2 L406.8 347.2 L407 347.2 L407.2 347.2 L407.5 347.2 L407.8 347.2 L408 347.2 L408.2 347.2 L408.5 347.2 L408.8 347.2 L409 347.1 L409.2 347.1 L409.5 347.1 L409.8 347.1 L410 347.1 L410.2 347.1 L410.5 347.1 L410.8 347.1 L411 347.1 L411.2 347.1 L411.5 347.1 L411.8 347.1 L412 347.1 L412.2 347.1 L412.5 347 L412.8 347 L413 347 L413.2 347 L413.5 347 L413.8 347 L414 347 L414.2 347 L414.5 347 L414.8 347 L415 347 L415.2 347 L415.5 347 L415.8 346.9 L416 346.9 L416.2 346.9 L416.5 346.9 L416.8 346.9 L417 346.9 L417.2 346.9 L417.5 346.9 L417.8 346.9 L418 346.9 L418.2 346.9 L418.5 346.9 L418.8 346.9 L419 346.9 L419.2 346.8 L419.5 346.8 L419.8 346.8 L420 346.8 L420.2 346.8 L420.5 346.8 L420.8 346.8 L421 346.8 L421.2 346.8 L421.5 346.8 L421.8 346.8 L422 346.8 L422.2 346.8 L422.5 346.8 L422.8 346.7 L423 346.7 L423.2 346.7 L423.5 346.7 L423.8 346.7 L424 346.7 L424.2 346.7 L424.5 346.7 L424.8 346.7 L425 346.7 L425.2 346.7 L425.5 346.7 L425.8 346.7 L426 346.6 L426.2 346.6 L426.5 346.6 L426.8 346.6 L427 346.6 L427.2 346.6 L427.5 346.6 L427.8 346.6 L428 346.6 L428.2 346.6 L428.5 346.6 L428.8 346.6 L429 346.6 L429.2 346.6 L429.5 346.5 L429.8 346.5 L430 346.5 L430.2 346.5 L430.5 346.5 L430.8 346.5 L431 346.5 L431.2 346.5 L431.5 346.5 L431.8 346.5 L432 346.5 L432.2 346.5 L432.5 346.5 L432.8 346.5 L433 346.4 L433.2 346.4 L433.5 346.4 L433.8 346.4 L434 346.4 L434.2 346.4 L434.5 346.4 L434.8 346.4 L435 346.4 L435.2 346.4 L435.5 346.4 L435.8 346.4 L436 346.4 L436.2 346.3 L436.5 346.3 L436.8 346.3 L437 346.3 L437.2 346.3 L437.5 346.3 L437.8 346.3 L438 346.3 L438.2 346.3 L438.5 346.3 L438.8 346.3 L439 346.3 L439.2 346.3 L439.5 346.3 L439.8 346.2 L440 346.2 L440.2 346.2 L440.5 346.2 L440.8 346.2 L441 346.2 L441.2 346.2 L441.5 346.2 L441.8 346.2 L442 346.2 L442.2 346.2 L442.5 346.2 L442.8 346.2 L443 346.2 L443.2 346.1 L443.5 346.1 L443.8 346.1 L444 346.1 L444.2 346.1 L444.5 346.1 L444.8 346.1 L445 346.1 L445.2 346.1 L445.5 346.1 L445.8 346.1 L446 346.1 L446.2 346.1 L446.5 346.1 L446.8 346 L447 346 L447.2 346 L447.5 346 L447.8 346 L448 346 L448.2 346 L448.5 346 L448.8 346 L449 346 L449.2 346 L449.5 346 L449.8 346 L450 346 L450.2 345.9 L450.5 345.9 L450.8 345.9 L451 345.9 L451.2 345.9 L451.5 345.9 L451.8 345.9 L452 345.9 L452.2 345.9 L452.5 345.9 L452.8 345.9 L453 345.9 L453.2 345.9 L453.5 345.9 L453.8 345.9 L454 345.8 L454.2 345.8 L454.5 345.8 L454.8 345.8 L455 345.8 L455.2 345.8 L455.5 345.8 L455.8 345.8 L456 345.8 L456.2 345.8 L456.5 345.8 L456.8 345.8 L457 345.8 L457.2 345.8 L457.5 345.8 L457.8 345.7 L458 345.7 L458.2 345.7 L458.5 345.7 L458.8 345.7 L459 345.7 L459.2 345.7 L459.5 345.7 L459.8 345.7 L460 345.7 L460.2 345.7 L460.5 345.7 L460.8 345.7 L461 345.7 L461.2 345.7 L461.5 345.7 L461.8 345.7 L462 345.6 L462.2 345.6 L462.5 345.6 L462.8 345.6 L463 345.6 L463.2 345.6 L463.5 345.6 L463.8 345.6 L464 345.6 L464.2 345.6 L464.5 345.6 L464.8 345.6 L465 345.6 L465.2 345.6 L465.5 345.6 L465.8 345.6 L466 345.6 L466.2 345.6 L466.5 345.6 L466.8 345.6 L467 345.6 L467.2 345.6 L467.5 345.6 L467.8 345.6 L468 345.6 L468.2 345.5 L468.5 345.5 L468.8 345.5 L469 345.5 L469.2 345.5 L469.5 345.5 L469.8 345.5 L470 345.5 L470.2 345.5 L470.5 345.5 L470.8 345.5 L471 345.5 L471.2 345.5 L471.5 345.5 L471.8 345.5 L472 345.5 L472.2 345.5 L472.5 345.5 L472.8 345.5 L473 345.5 L473.2 345.5 L473.5 345.5 L473.8 345.5 L474 345.5 L474.2 345.5 L474.5 345.5 L474.8 345.5 L475 345.5 L475.2 345.5 L475.5 345.5 L475.8 345.5 L476 345.5 L476.2 345.5 L476.5 345.5 L476.8 345.5 L477 345.5 L477.2 345.5 L477.5 345.5 L477.8 345.5 L478 345.5 L478.2 345.5 L478.5 345.5 L478.8 345.5 L479 345.5 L479.2 345.5 L479.5 345.5 L479.8 345.5 L480 345.5 L480.2 345.5 L480.5 345.5 L480.8 345.5 L481 345.5 L481.2 345.5 L481.5 345.5 L481.8 345.5 L482 345.5 L482.2 345.5 L482.5 345.5 L482.8 345.5 L483 345.5 L483.2 345.5 L483.5 345.5 L483.8 345.5 L484 345.5 L484.2 345.5 L484.5 345.5 L484.8 345.5 L485 345.5 L485.2 345.5 L485.5 345.5 L485.8 345.5 L486 345.4 L486.2 345.4 L486.5 345.4 L486.8 345.4 L487 345.4 L487.2 345.4 L487.5 345.4 L487.8 345.4 L488 345.4 L488.2 345.4 L488.5 345.4 L488.8 345.4 L489 345.4 L489.2 345.4 L489.5 345.4 L489.8 345.4 L490 345.4 L490.2 345.4 L490.5 345.4 L490.8 345.4 L491 345.4 L491.2 345.4 L491.5 345.4 L491.8 345.4 L492 345.4 L492.2 345.3 L492.5 345.3 L492.8 345.3 L493 345.3 L493.2 345.3 L493.5 345.3 L493.8 345.3 L494 345.3 L494.2 345.3 L494.5 345.3 L494.8 345.3 L495 345.3 L495.2 345.3 L495.5 345.3 L495.8 345.3 L496 345.3 L496.2 345.3 L496.5 345.3 L496.8 345.3 L497 345.3 L497.2 345.3 L497.5 345.3 L497.8 345.3 L498 345.3 L498.2 345.3 L498.5 345.3 L498.8 345.3 L499 345.3 L499.2 345.2 L499.5 345.2 L499.8 345.2 L500 345.2 L500.2 345.2 L500.5 345.2 L500.8 345.2 L501 345.2 L501.2 345.2 L501.5 345.2 L501.8 345.2 L502 345.2 L502.2 345.2 L502.5 345.2 L502.8 345.2 L503 345.2 L503.2 345.2 L503.5 345.2 L503.8 345.2 L504 345.2 L504.2 345.2 L504.5 345.2 L504.8 345.2 L505 345.2 L505.2 345.2 L505.5 345.2 L505.8 345.2 L506 345.2 L506.2 345.2 L506.5 345.1 L506.8 345.1 L507 345.1 L507.2 345.1 L507.5 345.1 L507.8 345.1 L508 345.1 L508.2 345.1 L508.5 345.1 L508.8 345.1 L509 345.1 L509.2 345.1 L509.5 345.1 L509.8 345.1 L510 345.1 L510.2 345.1 L510.5 345.1 L510.8 345.1 L511 345.1 L511.2 345.1 L511.5 345.1 L511.8 345.1 L512 345 L512.2 345 L512.5 345 L512.8 345 L513 345 L513.2 345 L513.5 345 L513.8 345 L514 345 L514.2 345 L514.5 345 L514.8 345 L515 345 L515.2 345 L515.5 345 L515.8 345 L516 345 L516.2 345 L516.5 345 L516.8 344.9 L517 344.9 L517.2 344.9 L517.5 344.9 L517.8 344.9 L518 344.9 L518.2 344.9 L518.5 344.9 L518.8 344.9 L519 344.9 L519.2 344.9 L519.5 344.9 L519.8 344.9 L520 344.9 L520.2 344.9 L520.5 344.9 L520.8 344.9 L521 344.8 L521.2 344.8 L521.5 344.8 L521.8 344.8 L522 344.8 L522.2 344.8 L522.5 344.8 L522.8 344.8 L523 344.8 L523.2 344.8 L523.5 344.8 L523.8 344.8 L524 344.8 L524.2 344.8 L524.5 344.8 L524.8 344.7 L525 344.7 L525.2 344.7 L525.5 344.7 L525.8 344.7 L526 344.7 L526.2 344.7 L526.5 344.7 L526.8 344.7 L527 344.7 L527.2 344.7 L527.5 344.7 L527.8 344.7 L528 344.7 L528.2 344.7 L528.5 344.6 L528.8 344.6 L529 344.6 L529.2 344.6 L529.5 344.6 L529.8 344.6 L530 344.6 L530.2 344.6 L530.5 344.6 L530.8 344.6 L531 344.6 L531.2 344.6 L531.5 344.6 L531.8 344.6 L532 344.5 L532.2 344.5 L532.5 344.5 L532.8 344.5 L533 344.5 L533.2 344.5 L533.5 344.5 L533.8 344.5 L534 344.5 L534.2 344.5 L534.5 344.5 L534.8 344.5 L535 344.5 L535.2 344.5 L535.5 344.4 L535.8 344.4 L536 344.4 L536.2 344.4 L536.5 344.4 L536.8 344.4 L537 344.4 L537.2 344.4 L537.5 344.4 L537.8 344.4 L538 344.4 L538.2 344.4 L538.5 344.4 L538.8 344.4 L539 344.3 L539.2 344.3 L539.5 344.3 L539.8 344.3 L540 344.3 L540.2 344.3 L540.5 344.3 L540.8 344.3 L541 344.3 L541.2 344.3 L541.5 344.3 L541.8 344.3 L542 344.3 L542.2 344.3 L542.5 344.2 L542.8 344.2 L543 344.2 L543.2 344.2 L543.5 344.2 L543.8 344.2" stroke="#f0a21e" stroke-width="1.6" fill="none" stroke-linejoin="round"/>
<path d="M315.5 348.3 L318 351 L320.5 351.3 L323 350.3 L325.5 343.4 L328 341.6 L330.5 347.7 L333 346.1 L335.5 348.4" stroke="#302020" stroke-width="1.2" fill="none" opacity="0.7"/>
<path d="M315.5 348.1 L318 350.3 L320.5 350.6 L323 349.7 L325.5 343.9 L328 342.3 L330.5 347.4 L333 346.1 L335.5 346.9 L338 345.7 L340.5 345.3 L343 344.8 L345.5 343.9 L348 342.1 L350.5 338.9 L353 333.4 L355.5 324.8 L358 312.3 L360.5 295.8 L363 276.1 L365.5 255 L368 235.5 L370.5 220.4 L373 212.4 L375.5 212.3 L378 219.1 L380.5 230.9 L383 245.7 L385.5 261.8 L388 278.1 L390.5 293.6 L393 307.7 L395.5 319.7 L398 329.1 L400.5 335.9 L403 340.4 L405.5 343.1 L408 344.6 L410.5 345.3 L413 345.6 L415.5 345.7 L418 345.7 L420.5 345.6 L423 345.6 L425.5 345.5 L428 345.3 L430.5 345.2 L433 345 L435.5 344.9 L438 344.7 L440.5 344.5 L443 344.2 L445.5 343.9 L448 343.5 L450.5 343 L453 342.3 L455.5 341.2 L458 339.3 L460.5 336.2 L463 331.4 L465.5 325 L468 317.2 L470.5 309.6 L473 304.6 L475.5 304.4 L478 308.6 L480.5 314.7 L483 320.3 L485.5 324.2 L488 326.1 L490.5 326.2 L493 325.2 L495.5 323.8 L498 322.6 L500.5 322.2 L503 322.8 L505.5 324.4 L508 326.7 L510.5 329.2 L513 331.7 L515.5 334.1 L518 336.1 L520.5 337.8 L523 339.1 L525.5 340.2 L528 340.9 L530.5 341.5 L533 341.9 L535.5 342.2 L538 342.5 L540.5 342.6 L543 342.7" stroke="#f01010" stroke-width="1.6" fill="none" stroke-linejoin="round"/>
<path d="M313.6 348.3a1.85 1.85 0 1 0 3.7 0a1.85 1.85 0 1 0 -3.7 0M316.1 351a1.85 1.85 0 1 0 3.7 0a1.85 1.85 0 1 0 -3.7 0M318.6 351.3a1.85 1.85 0 1 0 3.7 0a1.85 1.85 0 1 0 -3.7 0M321.1 350.3a1.85 1.85 0 1 0 3.7 0a1.85 1.85 0 1 0 -3.7 0M323.6 343.4a1.85 1.85 0 1 0 3.7 0a1.85 1.85 0 1 0 -3.7 0M326.1 341.6a1.85 1.85 0 1 0 3.7 0a1.85 1.85 0 1 0 -3.7 0M328.6 347.7a1.85 1.85 0 1 0 3.7 0a1.85 1.85 0 1 0 -3.7 0M331.1 346.1a1.85 1.85 0 1 0 3.7 0a1.85 1.85 0 1 0 -3.7 0M333.6 348.4a1.85 1.85 0 1 0 3.7 0a1.85 1.85 0 1 0 -3.7 0M336.1 345.3a1.85 1.85 0 1 0 3.7 0a1.85 1.85 0 1 0 -3.7 0M338.6 345.9a1.85 1.85 0 1 0 3.7 0a1.85 1.85 0 1 0 -3.7 0M341.1 340.9a1.85 1.85 0 1 0 3.7 0a1.85 1.85 0 1 0 -3.7 0M343.6 345a1.85 1.85 0 1 0 3.7 0a1.85 1.85 0 1 0 -3.7 0M346.1 340.9a1.85 1.85 0 1 0 3.7 0a1.85 1.85 0 1 0 -3.7 0M348.6 339.8a1.85 1.85 0 1 0 3.7 0a1.85 1.85 0 1 0 -3.7 0M351.1 334.6a1.85 1.85 0 1 0 3.7 0a1.85 1.85 0 1 0 -3.7 0M353.6 324.5a1.85 1.85 0 1 0 3.7 0a1.85 1.85 0 1 0 -3.7 0M356.1 313.2a1.85 1.85 0 1 0 3.7 0a1.85 1.85 0 1 0 -3.7 0M358.6 295.8a1.85 1.85 0 1 0 3.7 0a1.85 1.85 0 1 0 -3.7 0M361.1 278.1a1.85 1.85 0 1 0 3.7 0a1.85 1.85 0 1 0 -3.7 0M363.6 256.3a1.85 1.85 0 1 0 3.7 0a1.85 1.85 0 1 0 -3.7 0M366.1 234a1.85 1.85 0 1 0 3.7 0a1.85 1.85 0 1 0 -3.7 0M368.6 218.9a1.85 1.85 0 1 0 3.7 0a1.85 1.85 0 1 0 -3.7 0M371.1 216.9a1.85 1.85 0 1 0 3.7 0a1.85 1.85 0 1 0 -3.7 0M373.6 212a1.85 1.85 0 1 0 3.7 0a1.85 1.85 0 1 0 -3.7 0M376.1 221.7a1.85 1.85 0 1 0 3.7 0a1.85 1.85 0 1 0 -3.7 0M378.6 232a1.85 1.85 0 1 0 3.7 0a1.85 1.85 0 1 0 -3.7 0M381.1 244.2a1.85 1.85 0 1 0 3.7 0a1.85 1.85 0 1 0 -3.7 0M383.6 259.8a1.85 1.85 0 1 0 3.7 0a1.85 1.85 0 1 0 -3.7 0M386.1 278.4a1.85 1.85 0 1 0 3.7 0a1.85 1.85 0 1 0 -3.7 0M388.6 294.3a1.85 1.85 0 1 0 3.7 0a1.85 1.85 0 1 0 -3.7 0M391.1 309.3a1.85 1.85 0 1 0 3.7 0a1.85 1.85 0 1 0 -3.7 0M393.6 316.4a1.85 1.85 0 1 0 3.7 0a1.85 1.85 0 1 0 -3.7 0M396.1 327.5a1.85 1.85 0 1 0 3.7 0a1.85 1.85 0 1 0 -3.7 0M398.6 335.6a1.85 1.85 0 1 0 3.7 0a1.85 1.85 0 1 0 -3.7 0M401.1 344.6a1.85 1.85 0 1 0 3.7 0a1.85 1.85 0 1 0 -3.7 0M403.6 338.4a1.85 1.85 0 1 0 3.7 0a1.85 1.85 0 1 0 -3.7 0M406.1 345.8a1.85 1.85 0 1 0 3.7 0a1.85 1.85 0 1 0 -3.7 0M408.6 343.9a1.85 1.85 0 1 0 3.7 0a1.85 1.85 0 1 0 -3.7 0M411.1 346.8a1.85 1.85 0 1 0 3.7 0a1.85 1.85 0 1 0 -3.7 0M413.6 344.4a1.85 1.85 0 1 0 3.7 0a1.85 1.85 0 1 0 -3.7 0M416.1 346.7a1.85 1.85 0 1 0 3.7 0a1.85 1.85 0 1 0 -3.7 0M418.6 349.7a1.85 1.85 0 1 0 3.7 0a1.85 1.85 0 1 0 -3.7 0M421.1 346.5a1.85 1.85 0 1 0 3.7 0a1.85 1.85 0 1 0 -3.7 0M423.6 346.6a1.85 1.85 0 1 0 3.7 0a1.85 1.85 0 1 0 -3.7 0M426.1 346.3a1.85 1.85 0 1 0 3.7 0a1.85 1.85 0 1 0 -3.7 0M428.6 343.2a1.85 1.85 0 1 0 3.7 0a1.85 1.85 0 1 0 -3.7 0M431.1 346.5a1.85 1.85 0 1 0 3.7 0a1.85 1.85 0 1 0 -3.7 0M433.6 344.3a1.85 1.85 0 1 0 3.7 0a1.85 1.85 0 1 0 -3.7 0M436.1 342.6a1.85 1.85 0 1 0 3.7 0a1.85 1.85 0 1 0 -3.7 0M438.6 344.4a1.85 1.85 0 1 0 3.7 0a1.85 1.85 0 1 0 -3.7 0M441.1 343.6a1.85 1.85 0 1 0 3.7 0a1.85 1.85 0 1 0 -3.7 0M443.6 345.9a1.85 1.85 0 1 0 3.7 0a1.85 1.85 0 1 0 -3.7 0M446.1 343.4a1.85 1.85 0 1 0 3.7 0a1.85 1.85 0 1 0 -3.7 0M448.6 341.7a1.85 1.85 0 1 0 3.7 0a1.85 1.85 0 1 0 -3.7 0M451.1 346.1a1.85 1.85 0 1 0 3.7 0a1.85 1.85 0 1 0 -3.7 0M453.6 343.7a1.85 1.85 0 1 0 3.7 0a1.85 1.85 0 1 0 -3.7 0M456.1 342.6a1.85 1.85 0 1 0 3.7 0a1.85 1.85 0 1 0 -3.7 0M458.6 337.7a1.85 1.85 0 1 0 3.7 0a1.85 1.85 0 1 0 -3.7 0M461.1 331.2a1.85 1.85 0 1 0 3.7 0a1.85 1.85 0 1 0 -3.7 0M463.6 323.9a1.85 1.85 0 1 0 3.7 0a1.85 1.85 0 1 0 -3.7 0M466.1 316.5a1.85 1.85 0 1 0 3.7 0a1.85 1.85 0 1 0 -3.7 0M468.6 312.1a1.85 1.85 0 1 0 3.7 0a1.85 1.85 0 1 0 -3.7 0M471.1 304.9a1.85 1.85 0 1 0 3.7 0a1.85 1.85 0 1 0 -3.7 0M473.6 300.5a1.85 1.85 0 1 0 3.7 0a1.85 1.85 0 1 0 -3.7 0M476.1 308.5a1.85 1.85 0 1 0 3.7 0a1.85 1.85 0 1 0 -3.7 0M478.6 311a1.85 1.85 0 1 0 3.7 0a1.85 1.85 0 1 0 -3.7 0M481.1 320.7a1.85 1.85 0 1 0 3.7 0a1.85 1.85 0 1 0 -3.7 0M483.6 321a1.85 1.85 0 1 0 3.7 0a1.85 1.85 0 1 0 -3.7 0M486.1 322.8a1.85 1.85 0 1 0 3.7 0a1.85 1.85 0 1 0 -3.7 0M488.6 326.5a1.85 1.85 0 1 0 3.7 0a1.85 1.85 0 1 0 -3.7 0M491.1 325a1.85 1.85 0 1 0 3.7 0a1.85 1.85 0 1 0 -3.7 0M493.6 319.5a1.85 1.85 0 1 0 3.7 0a1.85 1.85 0 1 0 -3.7 0M496.1 324.5a1.85 1.85 0 1 0 3.7 0a1.85 1.85 0 1 0 -3.7 0M498.6 326.9a1.85 1.85 0 1 0 3.7 0a1.85 1.85 0 1 0 -3.7 0M501.1 319a1.85 1.85 0 1 0 3.7 0a1.85 1.85 0 1 0 -3.7 0M503.6 329.1a1.85 1.85 0 1 0 3.7 0a1.85 1.85 0 1 0 -3.7 0M506.1 324.9a1.85 1.85 0 1 0 3.7 0a1.85 1.85 0 1 0 -3.7 0M508.6 327.9a1.85 1.85 0 1 0 3.7 0a1.85 1.85 0 1 0 -3.7 0M511.1 331.3a1.85 1.85 0 1 0 3.7 0a1.85 1.85 0 1 0 -3.7 0M513.6 330.3a1.85 1.85 0 1 0 3.7 0a1.85 1.85 0 1 0 -3.7 0M516.1 339.5a1.85 1.85 0 1 0 3.7 0a1.85 1.85 0 1 0 -3.7 0M518.6 339a1.85 1.85 0 1 0 3.7 0a1.85 1.85 0 1 0 -3.7 0M521.1 337.2a1.85 1.85 0 1 0 3.7 0a1.85 1.85 0 1 0 -3.7 0M523.6 339.4a1.85 1.85 0 1 0 3.7 0a1.85 1.85 0 1 0 -3.7 0M526.1 337a1.85 1.85 0 1 0 3.7 0a1.85 1.85 0 1 0 -3.7 0M528.6 340.6a1.85 1.85 0 1 0 3.7 0a1.85 1.85 0 1 0 -3.7 0M531.1 344.4a1.85 1.85 0 1 0 3.7 0a1.85 1.85 0 1 0 -3.7 0M533.6 337.8a1.85 1.85 0 1 0 3.7 0a1.85 1.85 0 1 0 -3.7 0M536.1 341.3a1.85 1.85 0 1 0 3.7 0a1.85 1.85 0 1 0 -3.7 0M538.6 343a1.85 1.85 0 1 0 3.7 0a1.85 1.85 0 1 0 -3.7 0M541.1 345.4a1.85 1.85 0 1 0 3.7 0a1.85 1.85 0 1 0 -3.7 0" stroke="#555555" stroke-width="0.75" fill="none"/>
<path d="M373 204.8V355.8" stroke="#3434ee" stroke-width="1.3" stroke-dasharray="1.9 1.3"/>
<path d="M385.5 204.8V355.8" stroke="#2cb42c" stroke-width="1.3" stroke-dasharray="1.9 1.3"/>
<path d="M475 204.8V355.8" stroke="#c83ce8" stroke-width="1.3" stroke-dasharray="1.9 1.3"/>
<path d="M500 204.8V355.8" stroke="#52cac2" stroke-width="1.3" stroke-dasharray="1.9 1.3"/>
<text x="327.1" y="232.3" font-size="11.0" text-anchor="start" stroke="#1a1a1a" stroke-width="0.3" >B-B</text>
<path d="M347.8 228.6L358.3 228.6" stroke="#000" stroke-width="1.45"/>
<path d="M362 228.6L357.8 230.9L357.8 226.3Z" fill="#000"/>
<text x="420.4" y="312.8" font-size="11.0" text-anchor="start" stroke="#1a1a1a" stroke-width="0.3" >B-Mn</text>
<path d="M417.7 308.7L398.9 308.7" stroke="#000" stroke-width="1.45"/>
<path d="M395.2 308.7L399.4 306.4L399.4 311Z" fill="#000"/>
<text x="435.7" y="294.7" font-size="11.0" text-anchor="start" stroke="#1a1a1a" stroke-width="0.3" >B-O</text>
<path d="M457.1 293.5L465.8 298.5" stroke="#000" stroke-width="1.45"/>
<path d="M469 300.3L464.2 300.2L466.5 296.2Z" fill="#000"/>
<text x="505" y="310.1" font-size="11.0" text-anchor="start" stroke="#1a1a1a" stroke-width="0.3" >B-O-Mn</text>
<path d="M514.9 311.9L507.2 315.7" stroke="#000" stroke-width="1.45"/>
<path d="M503.9 317.4L506.6 313.5L508.7 317.6Z" fill="#000"/>
</svg></body></html>
